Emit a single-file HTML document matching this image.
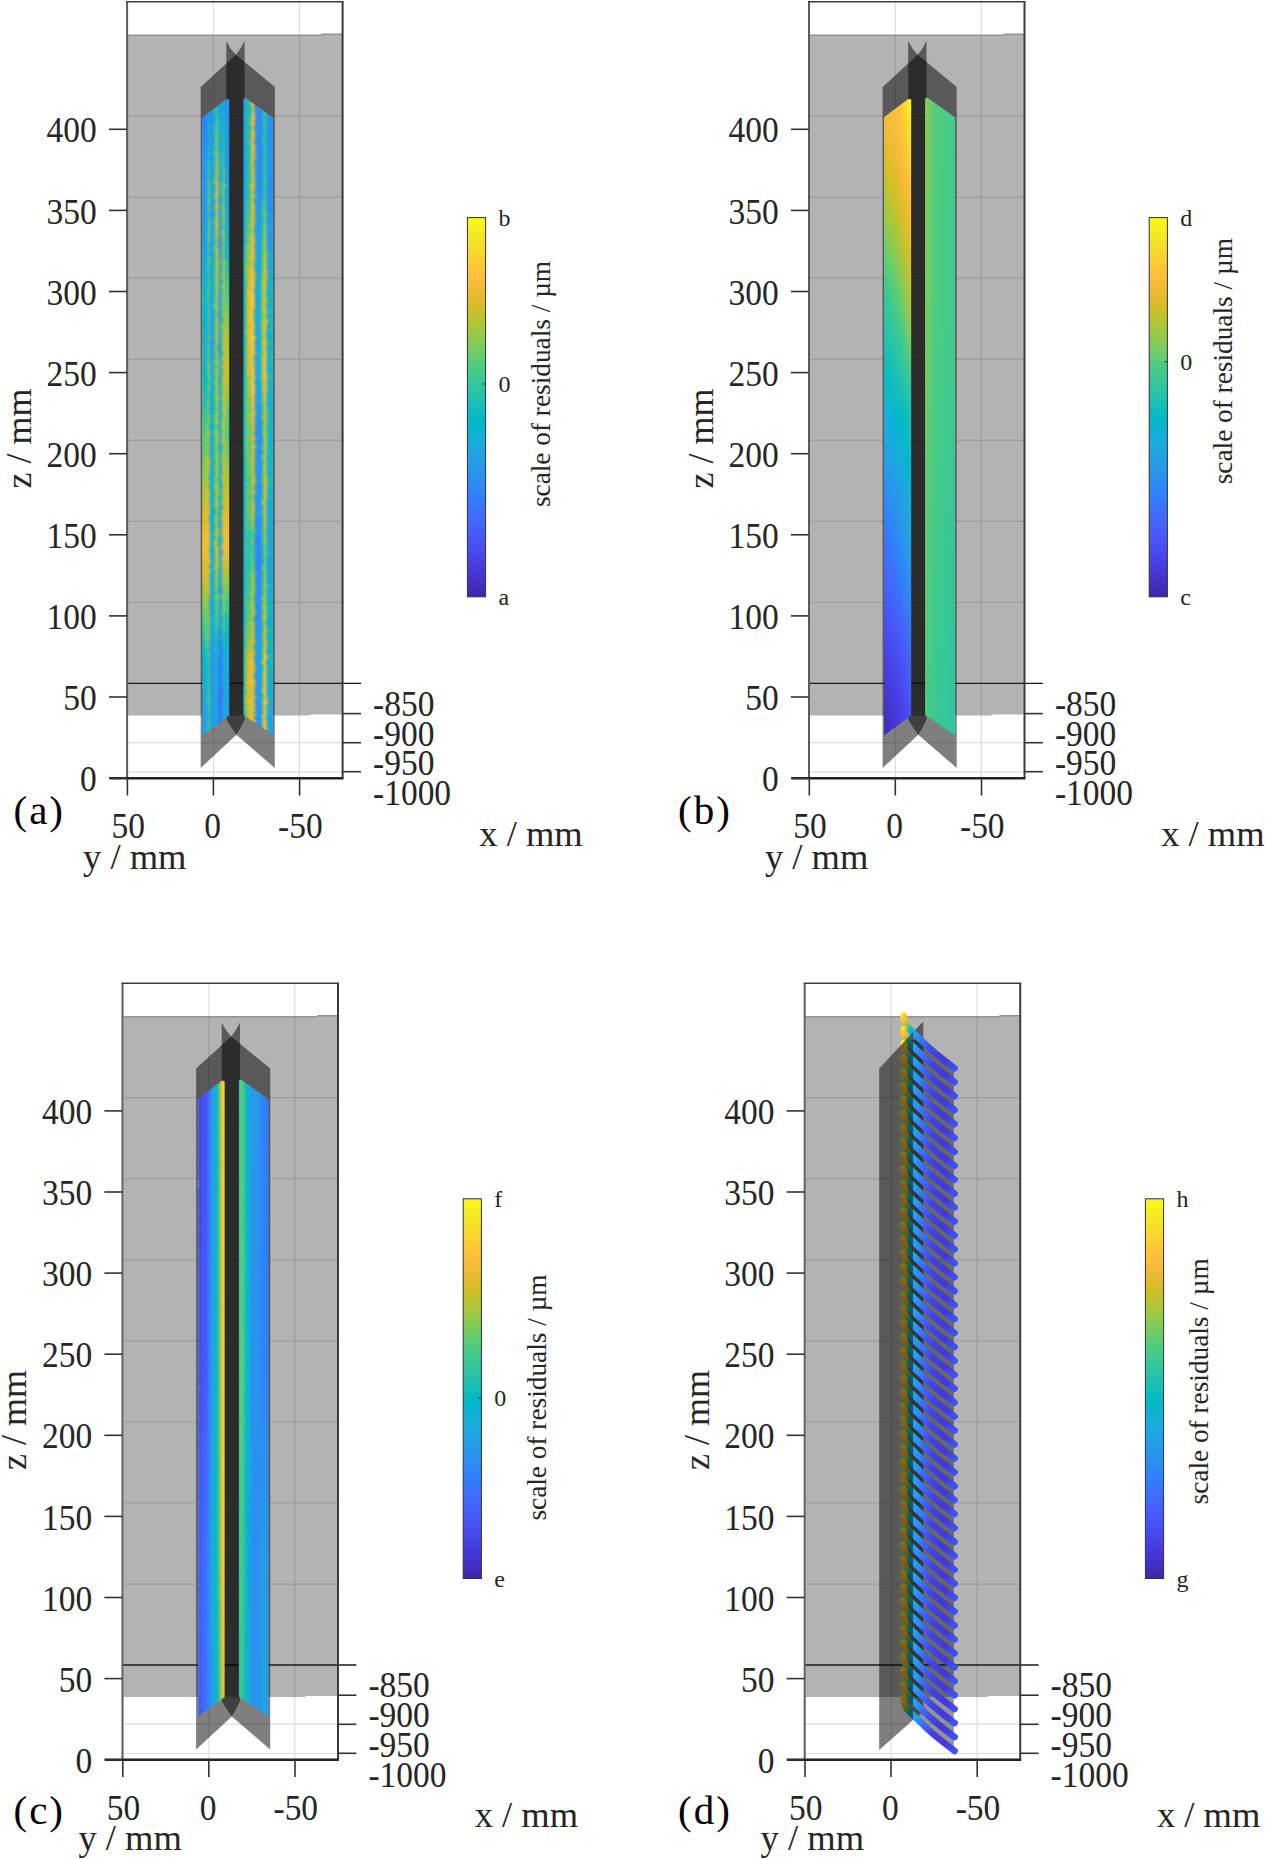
<!DOCTYPE html>
<html lang="en"><head><meta charset="utf-8"><title>Residuals of V-mirror measurements</title>
<style>html,body{margin:0;padding:0;background:#fff}svg{display:block}text{font-family:"Liberation Serif", "DejaVu Serif", serif}</style></head>
<body>
<svg width="1266" height="1859" viewBox="0 0 1266 1859">
<rect width="1266" height="1859" fill="#fff"/>
<defs>
<linearGradient id="sg" gradientUnits="userSpaceOnUse" x1="900" y1="1010" x2="957" y2="1067"><stop offset="0.054" stop-color="#f6f020"/><stop offset="0.081" stop-color="#fdcc32"/><stop offset="0.134" stop-color="#fabb3d"/><stop offset="0.174" stop-color="#b0c636"/><stop offset="0.218" stop-color="#48cb86"/><stop offset="0.263" stop-color="#04bbc2"/><stop offset="0.306" stop-color="#20a4e3"/><stop offset="0.329" stop-color="#1fa6f4"/><stop offset="0.389" stop-color="#2a92f8"/><stop offset="0.456" stop-color="#3776fa"/><stop offset="0.533" stop-color="#415cf5"/><stop offset="0.636" stop-color="#4242e2"/><stop offset="0.842" stop-color="#4238d6"/><stop offset="0.934" stop-color="#4148ec"/><stop offset="1.013" stop-color="#4052f6"/></linearGradient>
<path id="sp" d="M903.6,1015.5 C903.8,1019.5 905,1023.5 907.7,1027.1 C910,1030 912.5,1032.2 915.3,1034.7 C919.5,1038.6 923.7,1042.6 927.9,1046.7 C932,1050.5 936.2,1054 940.5,1057.4 C945,1061 950,1064.8 954.6,1068.3" fill="none" stroke="url(#sg)" stroke-width="6.6" stroke-linecap="round"/>
<clipPath id="cla"><path d="M202,117.4 L226.6,98.9 L229.2,99.6 L229.2,715.6 L202.3,735 Z"/></clipPath>
<clipPath id="cra"><path d="M243.4,98.6 L245.6,98 L273.2,117.6 L273.2,735 L243.4,715 Z"/></clipPath>
<linearGradient id="g1" x1="0" y1="0" x2="0" y2="1"><stop offset="0" stop-color="#2994ed"/><stop offset="0.025" stop-color="#259be8"/><stop offset="0.05" stop-color="#249fe5"/><stop offset="0.075" stop-color="#249ee6"/><stop offset="0.1" stop-color="#259de7"/><stop offset="0.125" stop-color="#249ee6"/><stop offset="0.15" stop-color="#22a1e4"/><stop offset="0.175" stop-color="#19addc"/><stop offset="0.2" stop-color="#01b9c7"/><stop offset="0.225" stop-color="#19bfb5"/><stop offset="0.25" stop-color="#29c3aa"/><stop offset="0.275" stop-color="#2fc5a2"/><stop offset="0.3" stop-color="#40ca8d"/><stop offset="0.325" stop-color="#57cc7a"/><stop offset="0.35" stop-color="#6fcd66"/><stop offset="0.375" stop-color="#8fcb4e"/><stop offset="0.4" stop-color="#b0c636"/><stop offset="0.425" stop-color="#cdc028"/><stop offset="0.45" stop-color="#c1c32c"/><stop offset="0.475" stop-color="#b7c532"/><stop offset="0.5" stop-color="#a6c73c"/><stop offset="0.525" stop-color="#94ca4a"/><stop offset="0.55" stop-color="#a5c83d"/><stop offset="0.575" stop-color="#afc636"/><stop offset="0.6" stop-color="#bcc42f"/><stop offset="0.625" stop-color="#d0bf27"/><stop offset="0.65" stop-color="#e4bb2c"/><stop offset="0.675" stop-color="#edba33"/><stop offset="0.7" stop-color="#f7ba3c"/><stop offset="0.725" stop-color="#e6bb2d"/><stop offset="0.75" stop-color="#b9c431"/><stop offset="0.775" stop-color="#79cc5e"/><stop offset="0.8" stop-color="#48cb86"/><stop offset="0.825" stop-color="#32c69f"/><stop offset="0.85" stop-color="#1bc0b4"/><stop offset="0.875" stop-color="#01b8c9"/><stop offset="0.9" stop-color="#07b5cf"/><stop offset="0.925" stop-color="#06b6ce"/><stop offset="0.95" stop-color="#0cb3d3"/><stop offset="0.975" stop-color="#18addb"/><stop offset="1" stop-color="#1aacdd"/></linearGradient>
<linearGradient id="g2" x1="0" y1="0" x2="0" y2="1"><stop offset="0" stop-color="#2895ec"/><stop offset="0.025" stop-color="#2896eb"/><stop offset="0.05" stop-color="#2895ec"/><stop offset="0.075" stop-color="#2797eb"/><stop offset="0.1" stop-color="#249ee6"/><stop offset="0.125" stop-color="#20a5e2"/><stop offset="0.15" stop-color="#1caadf"/><stop offset="0.175" stop-color="#13b0d7"/><stop offset="0.2" stop-color="#03b7cc"/><stop offset="0.225" stop-color="#06bcc0"/><stop offset="0.25" stop-color="#1ec0b2"/><stop offset="0.275" stop-color="#30c5a2"/><stop offset="0.3" stop-color="#4fcc80"/><stop offset="0.325" stop-color="#7bcc5d"/><stop offset="0.35" stop-color="#9cc944"/><stop offset="0.375" stop-color="#adc638"/><stop offset="0.4" stop-color="#b6c532"/><stop offset="0.425" stop-color="#c3c22b"/><stop offset="0.45" stop-color="#bbc42f"/><stop offset="0.475" stop-color="#c6c22a"/><stop offset="0.5" stop-color="#bdc42f"/><stop offset="0.525" stop-color="#8ecb4f"/><stop offset="0.55" stop-color="#7acc5e"/><stop offset="0.575" stop-color="#77cc60"/><stop offset="0.6" stop-color="#90ca4d"/><stop offset="0.625" stop-color="#b0c636"/><stop offset="0.65" stop-color="#c5c22a"/><stop offset="0.675" stop-color="#d6be28"/><stop offset="0.7" stop-color="#e8bb2e"/><stop offset="0.725" stop-color="#d1bf27"/><stop offset="0.75" stop-color="#a9c73a"/><stop offset="0.775" stop-color="#80cc59"/><stop offset="0.8" stop-color="#4acb85"/><stop offset="0.825" stop-color="#27c2ab"/><stop offset="0.85" stop-color="#05bbc1"/><stop offset="0.875" stop-color="#04b6cd"/><stop offset="0.9" stop-color="#15afd8"/><stop offset="0.925" stop-color="#1fa5e2"/><stop offset="0.95" stop-color="#249ee6"/><stop offset="0.975" stop-color="#2797eb"/><stop offset="1" stop-color="#2c8ef2"/></linearGradient>
<linearGradient id="g3" x1="0" y1="0" x2="0" y2="1"><stop offset="0" stop-color="#3777fe"/><stop offset="0.025" stop-color="#327dfc"/><stop offset="0.05" stop-color="#2e83f9"/><stop offset="0.075" stop-color="#2e87f7"/><stop offset="0.1" stop-color="#2d8af4"/><stop offset="0.125" stop-color="#2d8cf3"/><stop offset="0.15" stop-color="#2796eb"/><stop offset="0.175" stop-color="#1baade"/><stop offset="0.2" stop-color="#07b5cf"/><stop offset="0.225" stop-color="#06b5cf"/><stop offset="0.25" stop-color="#0db3d3"/><stop offset="0.275" stop-color="#0db3d3"/><stop offset="0.3" stop-color="#03b7cc"/><stop offset="0.325" stop-color="#01b9c6"/><stop offset="0.35" stop-color="#06bcc0"/><stop offset="0.375" stop-color="#0dbdbc"/><stop offset="0.4" stop-color="#15bfb7"/><stop offset="0.425" stop-color="#12beb9"/><stop offset="0.45" stop-color="#1bc0b4"/><stop offset="0.475" stop-color="#27c2ac"/><stop offset="0.5" stop-color="#37c898"/><stop offset="0.525" stop-color="#52cc7e"/><stop offset="0.55" stop-color="#64cd6f"/><stop offset="0.575" stop-color="#7acc5e"/><stop offset="0.6" stop-color="#99c946"/><stop offset="0.625" stop-color="#afc636"/><stop offset="0.65" stop-color="#c0c32d"/><stop offset="0.675" stop-color="#dbbd28"/><stop offset="0.7" stop-color="#fbbc3d"/><stop offset="0.725" stop-color="#fbbc3d"/><stop offset="0.75" stop-color="#e4bb2c"/><stop offset="0.775" stop-color="#b4c534"/><stop offset="0.8" stop-color="#72cd64"/><stop offset="0.825" stop-color="#3fca8e"/><stop offset="0.85" stop-color="#21c1b1"/><stop offset="0.875" stop-color="#05b6ce"/><stop offset="0.9" stop-color="#14b0d8"/><stop offset="0.925" stop-color="#17aedb"/><stop offset="0.95" stop-color="#1aabdd"/><stop offset="0.975" stop-color="#20a4e3"/><stop offset="1" stop-color="#2798ea"/></linearGradient>
<linearGradient id="g4" x1="0" y1="0" x2="0" y2="1"><stop offset="0" stop-color="#4854f5"/><stop offset="0.025" stop-color="#406cfe"/><stop offset="0.05" stop-color="#2d88f6"/><stop offset="0.075" stop-color="#2c8ef2"/><stop offset="0.1" stop-color="#2e85f8"/><stop offset="0.125" stop-color="#2e83f9"/><stop offset="0.15" stop-color="#2d8af4"/><stop offset="0.175" stop-color="#2a93ed"/><stop offset="0.2" stop-color="#269ae8"/><stop offset="0.225" stop-color="#21a3e3"/><stop offset="0.25" stop-color="#1babde"/><stop offset="0.275" stop-color="#15afd9"/><stop offset="0.3" stop-color="#0eb3d4"/><stop offset="0.325" stop-color="#0ab4d2"/><stop offset="0.35" stop-color="#04b6cd"/><stop offset="0.375" stop-color="#05b6ce"/><stop offset="0.4" stop-color="#11b1d6"/><stop offset="0.425" stop-color="#19addc"/><stop offset="0.45" stop-color="#07b5d0"/><stop offset="0.475" stop-color="#0fbeba"/><stop offset="0.5" stop-color="#30c5a1"/><stop offset="0.525" stop-color="#45cb88"/><stop offset="0.55" stop-color="#58cc79"/><stop offset="0.575" stop-color="#61cd71"/><stop offset="0.6" stop-color="#6acd6a"/><stop offset="0.625" stop-color="#8fcb4e"/><stop offset="0.65" stop-color="#c8c129"/><stop offset="0.675" stop-color="#f4ba39"/><stop offset="0.7" stop-color="#fec13a"/><stop offset="0.725" stop-color="#ebba32"/><stop offset="0.75" stop-color="#bdc32e"/><stop offset="0.775" stop-color="#97ca48"/><stop offset="0.8" stop-color="#69cd6b"/><stop offset="0.825" stop-color="#3ac993"/><stop offset="0.85" stop-color="#13beb8"/><stop offset="0.875" stop-color="#11b1d6"/><stop offset="0.9" stop-color="#1da8e0"/><stop offset="0.925" stop-color="#21a2e4"/><stop offset="0.95" stop-color="#249ee6"/><stop offset="0.975" stop-color="#259ce7"/><stop offset="1" stop-color="#2797eb"/></linearGradient>
<linearGradient id="g5" x1="0" y1="0" x2="0" y2="1"><stop offset="0" stop-color="#3975fe"/><stop offset="0.025" stop-color="#2f82f9"/><stop offset="0.05" stop-color="#2b92ee"/><stop offset="0.075" stop-color="#249fe5"/><stop offset="0.1" stop-color="#1da9e0"/><stop offset="0.125" stop-color="#1caadf"/><stop offset="0.15" stop-color="#22a2e4"/><stop offset="0.175" stop-color="#259be8"/><stop offset="0.2" stop-color="#2896ec"/><stop offset="0.225" stop-color="#2994ed"/><stop offset="0.25" stop-color="#269ae8"/><stop offset="0.275" stop-color="#1baade"/><stop offset="0.3" stop-color="#01b8c9"/><stop offset="0.325" stop-color="#02bac4"/><stop offset="0.35" stop-color="#01b7ca"/><stop offset="0.375" stop-color="#09b4d1"/><stop offset="0.4" stop-color="#0fb2d5"/><stop offset="0.425" stop-color="#0eb3d4"/><stop offset="0.45" stop-color="#03bbc2"/><stop offset="0.475" stop-color="#23c1af"/><stop offset="0.5" stop-color="#34c79b"/><stop offset="0.525" stop-color="#49cb85"/><stop offset="0.55" stop-color="#65cd6e"/><stop offset="0.575" stop-color="#91ca4c"/><stop offset="0.6" stop-color="#bac430"/><stop offset="0.625" stop-color="#d3bf27"/><stop offset="0.65" stop-color="#e2bc2b"/><stop offset="0.675" stop-color="#efba35"/><stop offset="0.7" stop-color="#f9bb3d"/><stop offset="0.725" stop-color="#eaba31"/><stop offset="0.75" stop-color="#c9c129"/><stop offset="0.775" stop-color="#99c946"/><stop offset="0.8" stop-color="#62cd70"/><stop offset="0.825" stop-color="#41ca8c"/><stop offset="0.85" stop-color="#2cc4a6"/><stop offset="0.875" stop-color="#03bbc3"/><stop offset="0.9" stop-color="#0ab4d2"/><stop offset="0.925" stop-color="#17aeda"/><stop offset="0.95" stop-color="#20a4e3"/><stop offset="0.975" stop-color="#269ae8"/><stop offset="1" stop-color="#2896ec"/></linearGradient>
<linearGradient id="g6" x1="0" y1="0" x2="0" y2="1"><stop offset="0" stop-color="#3776fe"/><stop offset="0.025" stop-color="#317efb"/><stop offset="0.05" stop-color="#307ffb"/><stop offset="0.075" stop-color="#2f82f9"/><stop offset="0.1" stop-color="#2d8cf3"/><stop offset="0.125" stop-color="#2896ec"/><stop offset="0.15" stop-color="#269ae8"/><stop offset="0.175" stop-color="#269ae8"/><stop offset="0.2" stop-color="#2994ed"/><stop offset="0.225" stop-color="#2b91ef"/><stop offset="0.25" stop-color="#2699e9"/><stop offset="0.275" stop-color="#1ea6e1"/><stop offset="0.3" stop-color="#14b0d8"/><stop offset="0.325" stop-color="#17aeda"/><stop offset="0.35" stop-color="#1da8e0"/><stop offset="0.375" stop-color="#1fa5e2"/><stop offset="0.4" stop-color="#1da9e0"/><stop offset="0.425" stop-color="#17aeda"/><stop offset="0.45" stop-color="#01b9c7"/><stop offset="0.475" stop-color="#26c2ad"/><stop offset="0.5" stop-color="#44cb8a"/><stop offset="0.525" stop-color="#72cd63"/><stop offset="0.55" stop-color="#91ca4c"/><stop offset="0.575" stop-color="#a0c841"/><stop offset="0.6" stop-color="#a8c73b"/><stop offset="0.625" stop-color="#b2c535"/><stop offset="0.65" stop-color="#c4c22b"/><stop offset="0.675" stop-color="#ddbd29"/><stop offset="0.7" stop-color="#f5ba3a"/><stop offset="0.725" stop-color="#f0ba36"/><stop offset="0.75" stop-color="#ddbd29"/><stop offset="0.775" stop-color="#c6c22a"/><stop offset="0.8" stop-color="#aec637"/><stop offset="0.825" stop-color="#83cc57"/><stop offset="0.85" stop-color="#38c896"/><stop offset="0.875" stop-color="#02bac3"/><stop offset="0.9" stop-color="#06b5cf"/><stop offset="0.925" stop-color="#0ab4d2"/><stop offset="0.95" stop-color="#1baade"/><stop offset="0.975" stop-color="#269be8"/><stop offset="1" stop-color="#2b92ee"/></linearGradient>
<linearGradient id="g7" x1="0" y1="0" x2="0" y2="1"><stop offset="0" stop-color="#2d89f5"/><stop offset="0.025" stop-color="#2f81fa"/><stop offset="0.05" stop-color="#2f81fa"/><stop offset="0.075" stop-color="#2e84f9"/><stop offset="0.1" stop-color="#2e86f7"/><stop offset="0.125" stop-color="#2c8ef1"/><stop offset="0.15" stop-color="#2796eb"/><stop offset="0.175" stop-color="#2699ea"/><stop offset="0.2" stop-color="#2699e9"/><stop offset="0.225" stop-color="#249ee6"/><stop offset="0.25" stop-color="#20a4e3"/><stop offset="0.275" stop-color="#1da8e0"/><stop offset="0.3" stop-color="#1aacdd"/><stop offset="0.325" stop-color="#16afd9"/><stop offset="0.35" stop-color="#14b0d8"/><stop offset="0.375" stop-color="#18aedb"/><stop offset="0.4" stop-color="#13b0d7"/><stop offset="0.425" stop-color="#06b5ce"/><stop offset="0.45" stop-color="#03bbc2"/><stop offset="0.475" stop-color="#06bcc0"/><stop offset="0.5" stop-color="#1cc0b4"/><stop offset="0.525" stop-color="#3ac994"/><stop offset="0.55" stop-color="#66cd6e"/><stop offset="0.575" stop-color="#8ccb50"/><stop offset="0.6" stop-color="#9fc942"/><stop offset="0.625" stop-color="#aec637"/><stop offset="0.65" stop-color="#c4c22b"/><stop offset="0.675" stop-color="#d5be28"/><stop offset="0.7" stop-color="#e5bb2d"/><stop offset="0.725" stop-color="#e5bb2d"/><stop offset="0.75" stop-color="#d6be28"/><stop offset="0.775" stop-color="#a0c841"/><stop offset="0.8" stop-color="#55cc7c"/><stop offset="0.825" stop-color="#38c895"/><stop offset="0.85" stop-color="#30c5a2"/><stop offset="0.875" stop-color="#1dc0b3"/><stop offset="0.9" stop-color="#02bac3"/><stop offset="0.925" stop-color="#11b1d6"/><stop offset="0.95" stop-color="#1fa6e2"/><stop offset="0.975" stop-color="#249ee6"/><stop offset="1" stop-color="#269ae8"/></linearGradient>
<linearGradient id="g8" x1="0" y1="0" x2="0" y2="1"><stop offset="0" stop-color="#2e84f8"/><stop offset="0.025" stop-color="#2d89f5"/><stop offset="0.05" stop-color="#2c8ef2"/><stop offset="0.075" stop-color="#2b92ee"/><stop offset="0.1" stop-color="#2797eb"/><stop offset="0.125" stop-color="#259be8"/><stop offset="0.15" stop-color="#249fe5"/><stop offset="0.175" stop-color="#22a2e4"/><stop offset="0.2" stop-color="#20a4e3"/><stop offset="0.225" stop-color="#1babde"/><stop offset="0.25" stop-color="#12b1d6"/><stop offset="0.275" stop-color="#08b5d0"/><stop offset="0.3" stop-color="#02bac4"/><stop offset="0.325" stop-color="#0bbdbd"/><stop offset="0.35" stop-color="#06bcc0"/><stop offset="0.375" stop-color="#05b6ce"/><stop offset="0.4" stop-color="#11b1d6"/><stop offset="0.425" stop-color="#09b4d1"/><stop offset="0.45" stop-color="#1abfb5"/><stop offset="0.475" stop-color="#38c896"/><stop offset="0.5" stop-color="#55cc7c"/><stop offset="0.525" stop-color="#5fcd73"/><stop offset="0.55" stop-color="#5fcd73"/><stop offset="0.575" stop-color="#7acc5e"/><stop offset="0.6" stop-color="#adc638"/><stop offset="0.625" stop-color="#dbbd29"/><stop offset="0.65" stop-color="#f6ba3b"/><stop offset="0.675" stop-color="#fec03b"/><stop offset="0.7" stop-color="#fec13a"/><stop offset="0.725" stop-color="#e7bb2e"/><stop offset="0.75" stop-color="#bfc32d"/><stop offset="0.775" stop-color="#9cc943"/><stop offset="0.8" stop-color="#76cc61"/><stop offset="0.825" stop-color="#58cc7a"/><stop offset="0.85" stop-color="#34c79b"/><stop offset="0.875" stop-color="#03bbc2"/><stop offset="0.9" stop-color="#13b0d7"/><stop offset="0.925" stop-color="#18aedb"/><stop offset="0.95" stop-color="#1babde"/><stop offset="0.975" stop-color="#1fa6e2"/><stop offset="1" stop-color="#1fa5e2"/></linearGradient>
<linearGradient id="g9" x1="0" y1="0" x2="0" y2="1"><stop offset="0" stop-color="#259be8"/><stop offset="0.025" stop-color="#1da8e0"/><stop offset="0.05" stop-color="#07b5cf"/><stop offset="0.075" stop-color="#05bbc1"/><stop offset="0.1" stop-color="#1dc0b3"/><stop offset="0.125" stop-color="#34c79b"/><stop offset="0.15" stop-color="#57cc7a"/><stop offset="0.175" stop-color="#67cd6c"/><stop offset="0.2" stop-color="#6fcd66"/><stop offset="0.225" stop-color="#68cd6c"/><stop offset="0.25" stop-color="#53cc7d"/><stop offset="0.275" stop-color="#43ca8a"/><stop offset="0.3" stop-color="#48cb86"/><stop offset="0.325" stop-color="#51cc7e"/><stop offset="0.35" stop-color="#56cc7b"/><stop offset="0.375" stop-color="#5acc78"/><stop offset="0.4" stop-color="#62cd70"/><stop offset="0.425" stop-color="#77cc60"/><stop offset="0.45" stop-color="#a1c840"/><stop offset="0.475" stop-color="#b8c431"/><stop offset="0.5" stop-color="#c4c22b"/><stop offset="0.525" stop-color="#cec028"/><stop offset="0.55" stop-color="#cfc028"/><stop offset="0.575" stop-color="#d4bf28"/><stop offset="0.6" stop-color="#e0bc2b"/><stop offset="0.625" stop-color="#eeba34"/><stop offset="0.65" stop-color="#f5ba3b"/><stop offset="0.675" stop-color="#f6ba3b"/><stop offset="0.7" stop-color="#f1ba37"/><stop offset="0.725" stop-color="#e5bb2d"/><stop offset="0.75" stop-color="#dfbc2a"/><stop offset="0.775" stop-color="#d4bf28"/><stop offset="0.8" stop-color="#bec32e"/><stop offset="0.825" stop-color="#adc738"/><stop offset="0.85" stop-color="#8ccb50"/><stop offset="0.875" stop-color="#55cc7c"/><stop offset="0.9" stop-color="#3fca8e"/><stop offset="0.925" stop-color="#3eca8f"/><stop offset="0.95" stop-color="#3eca8f"/><stop offset="0.975" stop-color="#35c79a"/><stop offset="1" stop-color="#2bc3a8"/></linearGradient>
<linearGradient id="g10" x1="0" y1="0" x2="0" y2="1"><stop offset="0" stop-color="#02b7cb"/><stop offset="0.025" stop-color="#01b9c8"/><stop offset="0.05" stop-color="#09bdbe"/><stop offset="0.075" stop-color="#25c2ae"/><stop offset="0.1" stop-color="#35c79b"/><stop offset="0.125" stop-color="#4fcc80"/><stop offset="0.15" stop-color="#74cc62"/><stop offset="0.175" stop-color="#76cc61"/><stop offset="0.2" stop-color="#73cd63"/><stop offset="0.225" stop-color="#7ccc5c"/><stop offset="0.25" stop-color="#7ecc5b"/><stop offset="0.275" stop-color="#67cd6d"/><stop offset="0.3" stop-color="#55cc7c"/><stop offset="0.325" stop-color="#58cc79"/><stop offset="0.35" stop-color="#69cd6b"/><stop offset="0.375" stop-color="#74cc62"/><stop offset="0.4" stop-color="#72cd63"/><stop offset="0.425" stop-color="#69cd6b"/><stop offset="0.45" stop-color="#6fcd66"/><stop offset="0.475" stop-color="#6ecd67"/><stop offset="0.5" stop-color="#80cc59"/><stop offset="0.525" stop-color="#b1c636"/><stop offset="0.55" stop-color="#cfc028"/><stop offset="0.575" stop-color="#d0c027"/><stop offset="0.6" stop-color="#cfc028"/><stop offset="0.625" stop-color="#ddbd29"/><stop offset="0.65" stop-color="#eeba34"/><stop offset="0.675" stop-color="#fbbc3d"/><stop offset="0.7" stop-color="#fec13a"/><stop offset="0.725" stop-color="#fcbc3d"/><stop offset="0.75" stop-color="#f4ba39"/><stop offset="0.775" stop-color="#e2bc2b"/><stop offset="0.8" stop-color="#b3c534"/><stop offset="0.825" stop-color="#72cd64"/><stop offset="0.85" stop-color="#47cb87"/><stop offset="0.875" stop-color="#36c899"/><stop offset="0.9" stop-color="#3cc991"/><stop offset="0.925" stop-color="#46cb88"/><stop offset="0.95" stop-color="#43ca8a"/><stop offset="0.975" stop-color="#3bc993"/><stop offset="1" stop-color="#38c896"/></linearGradient>
<linearGradient id="g11" x1="0" y1="0" x2="0" y2="1"><stop offset="0" stop-color="#2994ed"/><stop offset="0.025" stop-color="#2995ec"/><stop offset="0.05" stop-color="#2895ec"/><stop offset="0.075" stop-color="#2698ea"/><stop offset="0.1" stop-color="#23a0e5"/><stop offset="0.125" stop-color="#1ea7e1"/><stop offset="0.15" stop-color="#1ca9df"/><stop offset="0.175" stop-color="#1ea8e1"/><stop offset="0.2" stop-color="#1ea8e1"/><stop offset="0.225" stop-color="#1fa6e2"/><stop offset="0.25" stop-color="#23a1e5"/><stop offset="0.275" stop-color="#249de7"/><stop offset="0.3" stop-color="#249de6"/><stop offset="0.325" stop-color="#23a1e5"/><stop offset="0.35" stop-color="#21a4e3"/><stop offset="0.375" stop-color="#21a3e3"/><stop offset="0.4" stop-color="#21a3e3"/><stop offset="0.425" stop-color="#1fa6e2"/><stop offset="0.45" stop-color="#1aacdd"/><stop offset="0.475" stop-color="#19acdc"/><stop offset="0.5" stop-color="#1baade"/><stop offset="0.525" stop-color="#1caadf"/><stop offset="0.55" stop-color="#1da9e0"/><stop offset="0.575" stop-color="#18aedb"/><stop offset="0.6" stop-color="#0fb2d4"/><stop offset="0.625" stop-color="#15afd8"/><stop offset="0.65" stop-color="#1da8e0"/><stop offset="0.675" stop-color="#20a5e2"/><stop offset="0.7" stop-color="#1fa6e2"/><stop offset="0.725" stop-color="#1fa5e2"/><stop offset="0.75" stop-color="#20a5e3"/><stop offset="0.775" stop-color="#1ea7e1"/><stop offset="0.8" stop-color="#1ea7e1"/><stop offset="0.825" stop-color="#249ee6"/><stop offset="0.85" stop-color="#2c90f0"/><stop offset="0.875" stop-color="#2d89f5"/><stop offset="0.9" stop-color="#2c8ef1"/><stop offset="0.925" stop-color="#2994ed"/><stop offset="0.95" stop-color="#259be8"/><stop offset="0.975" stop-color="#249fe5"/><stop offset="1" stop-color="#2699e9"/></linearGradient>
<linearGradient id="g12" x1="0" y1="0" x2="0" y2="1"><stop offset="0" stop-color="#2d89f5"/><stop offset="0.025" stop-color="#2b91ef"/><stop offset="0.05" stop-color="#2b91ef"/><stop offset="0.075" stop-color="#2c8ff1"/><stop offset="0.1" stop-color="#2994ed"/><stop offset="0.125" stop-color="#259de7"/><stop offset="0.15" stop-color="#21a3e3"/><stop offset="0.175" stop-color="#1fa6e2"/><stop offset="0.2" stop-color="#22a2e4"/><stop offset="0.225" stop-color="#249ee6"/><stop offset="0.25" stop-color="#22a2e4"/><stop offset="0.275" stop-color="#1da8e0"/><stop offset="0.3" stop-color="#1fa6e1"/><stop offset="0.325" stop-color="#249ee6"/><stop offset="0.35" stop-color="#249ee6"/><stop offset="0.375" stop-color="#21a3e4"/><stop offset="0.4" stop-color="#1fa6e1"/><stop offset="0.425" stop-color="#1babde"/><stop offset="0.45" stop-color="#0fb2d5"/><stop offset="0.475" stop-color="#09b4d1"/><stop offset="0.5" stop-color="#0fb2d5"/><stop offset="0.525" stop-color="#13b0d7"/><stop offset="0.55" stop-color="#17aeda"/><stop offset="0.575" stop-color="#18aedb"/><stop offset="0.6" stop-color="#15afd9"/><stop offset="0.625" stop-color="#11b1d6"/><stop offset="0.65" stop-color="#0fb2d5"/><stop offset="0.675" stop-color="#0fb2d5"/><stop offset="0.7" stop-color="#0fb2d4"/><stop offset="0.725" stop-color="#15afd9"/><stop offset="0.75" stop-color="#1ea7e1"/><stop offset="0.775" stop-color="#249ee6"/><stop offset="0.8" stop-color="#259be8"/><stop offset="0.825" stop-color="#249fe5"/><stop offset="0.85" stop-color="#23a0e5"/><stop offset="0.875" stop-color="#2699ea"/><stop offset="0.9" stop-color="#2b91ef"/><stop offset="0.925" stop-color="#2c8ff1"/><stop offset="0.95" stop-color="#2d8cf3"/><stop offset="0.975" stop-color="#2d88f6"/><stop offset="1" stop-color="#2d88f6"/></linearGradient>
<linearGradient id="g13" x1="0" y1="0" x2="0" y2="1"><stop offset="0" stop-color="#269ae9"/><stop offset="0.025" stop-color="#249fe6"/><stop offset="0.05" stop-color="#249ee6"/><stop offset="0.075" stop-color="#259be8"/><stop offset="0.1" stop-color="#259ce7"/><stop offset="0.125" stop-color="#23a0e5"/><stop offset="0.15" stop-color="#23a0e5"/><stop offset="0.175" stop-color="#249ee6"/><stop offset="0.2" stop-color="#259de7"/><stop offset="0.225" stop-color="#21a3e3"/><stop offset="0.25" stop-color="#19addc"/><stop offset="0.275" stop-color="#0ab4d2"/><stop offset="0.3" stop-color="#0ab4d2"/><stop offset="0.325" stop-color="#16aeda"/><stop offset="0.35" stop-color="#1ea7e1"/><stop offset="0.375" stop-color="#23a0e5"/><stop offset="0.4" stop-color="#22a1e4"/><stop offset="0.425" stop-color="#1caadf"/><stop offset="0.45" stop-color="#13b1d7"/><stop offset="0.475" stop-color="#0bb3d2"/><stop offset="0.5" stop-color="#07b5cf"/><stop offset="0.525" stop-color="#05b6ce"/><stop offset="0.55" stop-color="#0cb3d3"/><stop offset="0.575" stop-color="#14b0d8"/><stop offset="0.6" stop-color="#17aeda"/><stop offset="0.625" stop-color="#12b1d6"/><stop offset="0.65" stop-color="#06b5cf"/><stop offset="0.675" stop-color="#01b7ca"/><stop offset="0.7" stop-color="#04b6cd"/><stop offset="0.725" stop-color="#13b0d7"/><stop offset="0.75" stop-color="#1aacdd"/><stop offset="0.775" stop-color="#19acdc"/><stop offset="0.8" stop-color="#1ca9df"/><stop offset="0.825" stop-color="#21a3e3"/><stop offset="0.85" stop-color="#259de7"/><stop offset="0.875" stop-color="#2797eb"/><stop offset="0.9" stop-color="#2797eb"/><stop offset="0.925" stop-color="#259be7"/><stop offset="0.95" stop-color="#23a1e5"/><stop offset="0.975" stop-color="#249ee6"/><stop offset="1" stop-color="#2797eb"/></linearGradient>
<linearGradient id="g14" x1="0" y1="0" x2="0" y2="1"><stop offset="0" stop-color="#259be8"/><stop offset="0.025" stop-color="#239fe5"/><stop offset="0.05" stop-color="#22a2e4"/><stop offset="0.075" stop-color="#22a2e4"/><stop offset="0.1" stop-color="#22a2e4"/><stop offset="0.125" stop-color="#22a2e4"/><stop offset="0.15" stop-color="#259de7"/><stop offset="0.175" stop-color="#2699e9"/><stop offset="0.2" stop-color="#23a0e5"/><stop offset="0.225" stop-color="#1da9e0"/><stop offset="0.25" stop-color="#1aacdd"/><stop offset="0.275" stop-color="#1aabdd"/><stop offset="0.3" stop-color="#18addb"/><stop offset="0.325" stop-color="#19addc"/><stop offset="0.35" stop-color="#1fa6e2"/><stop offset="0.375" stop-color="#23a0e5"/><stop offset="0.4" stop-color="#1fa6e2"/><stop offset="0.425" stop-color="#15afd9"/><stop offset="0.45" stop-color="#12b1d6"/><stop offset="0.475" stop-color="#16afd9"/><stop offset="0.5" stop-color="#14b0d8"/><stop offset="0.525" stop-color="#0cb3d3"/><stop offset="0.55" stop-color="#02b7cb"/><stop offset="0.575" stop-color="#08bcbf"/><stop offset="0.6" stop-color="#08bcbf"/><stop offset="0.625" stop-color="#01b8c8"/><stop offset="0.65" stop-color="#03b7cc"/><stop offset="0.675" stop-color="#01b8ca"/><stop offset="0.7" stop-color="#03b7cc"/><stop offset="0.725" stop-color="#0db3d4"/><stop offset="0.75" stop-color="#0fb2d4"/><stop offset="0.775" stop-color="#03b7cb"/><stop offset="0.8" stop-color="#01b8c9"/><stop offset="0.825" stop-color="#0bb3d2"/><stop offset="0.85" stop-color="#18aedb"/><stop offset="0.875" stop-color="#1ea6e1"/><stop offset="0.9" stop-color="#259de7"/><stop offset="0.925" stop-color="#2994ed"/><stop offset="0.95" stop-color="#2797eb"/><stop offset="0.975" stop-color="#22a1e4"/><stop offset="1" stop-color="#1ea7e1"/></linearGradient>
<linearGradient id="g15" x1="0" y1="0" x2="0" y2="1"><stop offset="0" stop-color="#2d8df2"/><stop offset="0.025" stop-color="#2c8ff0"/><stop offset="0.05" stop-color="#2796eb"/><stop offset="0.075" stop-color="#249ee6"/><stop offset="0.1" stop-color="#1fa5e2"/><stop offset="0.125" stop-color="#1baade"/><stop offset="0.15" stop-color="#1aacdd"/><stop offset="0.175" stop-color="#1ca9df"/><stop offset="0.2" stop-color="#20a5e2"/><stop offset="0.225" stop-color="#20a4e3"/><stop offset="0.25" stop-color="#1da8e0"/><stop offset="0.275" stop-color="#1aabdd"/><stop offset="0.3" stop-color="#1caadf"/><stop offset="0.325" stop-color="#21a3e3"/><stop offset="0.35" stop-color="#23a0e5"/><stop offset="0.375" stop-color="#23a1e5"/><stop offset="0.4" stop-color="#21a3e3"/><stop offset="0.425" stop-color="#1da8e0"/><stop offset="0.45" stop-color="#0fb2d5"/><stop offset="0.475" stop-color="#01bac5"/><stop offset="0.5" stop-color="#08bcbf"/><stop offset="0.525" stop-color="#08bcbf"/><stop offset="0.55" stop-color="#02bac4"/><stop offset="0.575" stop-color="#03b7cc"/><stop offset="0.6" stop-color="#08b4d0"/><stop offset="0.625" stop-color="#05b6ce"/><stop offset="0.65" stop-color="#01b9c8"/><stop offset="0.675" stop-color="#03bbc3"/><stop offset="0.7" stop-color="#0bbdbc"/><stop offset="0.725" stop-color="#12beb9"/><stop offset="0.75" stop-color="#06bcc0"/><stop offset="0.775" stop-color="#09b4d1"/><stop offset="0.8" stop-color="#1aacdd"/><stop offset="0.825" stop-color="#1ea7e1"/><stop offset="0.85" stop-color="#22a2e4"/><stop offset="0.875" stop-color="#259be8"/><stop offset="0.9" stop-color="#2699e9"/><stop offset="0.925" stop-color="#2699ea"/><stop offset="0.95" stop-color="#2699ea"/><stop offset="0.975" stop-color="#2797ea"/><stop offset="1" stop-color="#2798ea"/></linearGradient>
<linearGradient id="g16" x1="0" y1="0" x2="0" y2="1"><stop offset="0" stop-color="#30c5a2"/><stop offset="0.025" stop-color="#36c799"/><stop offset="0.05" stop-color="#4ccb83"/><stop offset="0.075" stop-color="#5ecd74"/><stop offset="0.1" stop-color="#6ccd68"/><stop offset="0.125" stop-color="#84cc56"/><stop offset="0.15" stop-color="#a0c841"/><stop offset="0.175" stop-color="#a1c840"/><stop offset="0.2" stop-color="#9bc944"/><stop offset="0.225" stop-color="#84cc56"/><stop offset="0.25" stop-color="#76cc61"/><stop offset="0.275" stop-color="#80cc59"/><stop offset="0.3" stop-color="#92ca4b"/><stop offset="0.325" stop-color="#aac73a"/><stop offset="0.35" stop-color="#c1c32c"/><stop offset="0.375" stop-color="#d0c027"/><stop offset="0.4" stop-color="#c8c129"/><stop offset="0.425" stop-color="#b0c636"/><stop offset="0.45" stop-color="#9fc941"/><stop offset="0.475" stop-color="#97ca47"/><stop offset="0.5" stop-color="#91ca4d"/><stop offset="0.525" stop-color="#96ca49"/><stop offset="0.55" stop-color="#a3c83f"/><stop offset="0.575" stop-color="#a5c83d"/><stop offset="0.6" stop-color="#a2c83f"/><stop offset="0.625" stop-color="#a7c73c"/><stop offset="0.65" stop-color="#aac73a"/><stop offset="0.675" stop-color="#aec637"/><stop offset="0.7" stop-color="#bac430"/><stop offset="0.725" stop-color="#b4c534"/><stop offset="0.75" stop-color="#9bc945"/><stop offset="0.775" stop-color="#7acc5e"/><stop offset="0.8" stop-color="#56cc7a"/><stop offset="0.825" stop-color="#34c79c"/><stop offset="0.85" stop-color="#03b7cc"/><stop offset="0.875" stop-color="#249ee6"/><stop offset="0.9" stop-color="#21a3e3"/><stop offset="0.925" stop-color="#19addc"/><stop offset="0.95" stop-color="#16afd9"/><stop offset="0.975" stop-color="#1da8e0"/><stop offset="1" stop-color="#22a1e4"/></linearGradient>
<linearGradient id="g17" x1="0" y1="0" x2="0" y2="1"><stop offset="0" stop-color="#0db3d3"/><stop offset="0.025" stop-color="#02bac5"/><stop offset="0.05" stop-color="#2dc4a5"/><stop offset="0.075" stop-color="#49cb85"/><stop offset="0.1" stop-color="#79cc5e"/><stop offset="0.125" stop-color="#b6c532"/><stop offset="0.15" stop-color="#e0bc2a"/><stop offset="0.175" stop-color="#dbbd29"/><stop offset="0.2" stop-color="#cbc029"/><stop offset="0.225" stop-color="#c3c22b"/><stop offset="0.25" stop-color="#bdc32e"/><stop offset="0.275" stop-color="#a4c83e"/><stop offset="0.3" stop-color="#80cc59"/><stop offset="0.325" stop-color="#7dcc5c"/><stop offset="0.35" stop-color="#88cb53"/><stop offset="0.375" stop-color="#88cb53"/><stop offset="0.4" stop-color="#86cb54"/><stop offset="0.425" stop-color="#95ca49"/><stop offset="0.45" stop-color="#a0c841"/><stop offset="0.475" stop-color="#9ec942"/><stop offset="0.5" stop-color="#a0c841"/><stop offset="0.525" stop-color="#a2c83f"/><stop offset="0.55" stop-color="#9cc944"/><stop offset="0.575" stop-color="#99c946"/><stop offset="0.6" stop-color="#98ca47"/><stop offset="0.625" stop-color="#92ca4b"/><stop offset="0.65" stop-color="#87cb54"/><stop offset="0.675" stop-color="#8ecb4f"/><stop offset="0.7" stop-color="#aac73a"/><stop offset="0.725" stop-color="#b0c636"/><stop offset="0.75" stop-color="#96ca48"/><stop offset="0.775" stop-color="#64cd6f"/><stop offset="0.8" stop-color="#44cb89"/><stop offset="0.825" stop-color="#3ac994"/><stop offset="0.85" stop-color="#14beb8"/><stop offset="0.875" stop-color="#19addc"/><stop offset="0.9" stop-color="#1ca9df"/><stop offset="0.925" stop-color="#1aacdd"/><stop offset="0.95" stop-color="#11b1d6"/><stop offset="0.975" stop-color="#06b5cf"/><stop offset="1" stop-color="#07b5d0"/></linearGradient>
<linearGradient id="g18" x1="0" y1="0" x2="0" y2="1"><stop offset="0" stop-color="#26c2ac"/><stop offset="0.025" stop-color="#30c5a1"/><stop offset="0.05" stop-color="#50cc7f"/><stop offset="0.075" stop-color="#76cc61"/><stop offset="0.1" stop-color="#9bc944"/><stop offset="0.125" stop-color="#cbc129"/><stop offset="0.15" stop-color="#eaba31"/><stop offset="0.175" stop-color="#d3bf27"/><stop offset="0.2" stop-color="#adc638"/><stop offset="0.225" stop-color="#9bc945"/><stop offset="0.25" stop-color="#9ec942"/><stop offset="0.275" stop-color="#9dc943"/><stop offset="0.3" stop-color="#8bcb51"/><stop offset="0.325" stop-color="#79cc5e"/><stop offset="0.35" stop-color="#6ecd66"/><stop offset="0.375" stop-color="#6ecd67"/><stop offset="0.4" stop-color="#74cc62"/><stop offset="0.425" stop-color="#81cc58"/><stop offset="0.45" stop-color="#96ca48"/><stop offset="0.475" stop-color="#9ac945"/><stop offset="0.5" stop-color="#9bc944"/><stop offset="0.525" stop-color="#aec637"/><stop offset="0.55" stop-color="#b9c430"/><stop offset="0.575" stop-color="#b6c532"/><stop offset="0.6" stop-color="#bbc42f"/><stop offset="0.625" stop-color="#c9c129"/><stop offset="0.65" stop-color="#cfc028"/><stop offset="0.675" stop-color="#d8be28"/><stop offset="0.7" stop-color="#debc2a"/><stop offset="0.725" stop-color="#c6c22a"/><stop offset="0.75" stop-color="#a0c841"/><stop offset="0.775" stop-color="#78cc5f"/><stop offset="0.8" stop-color="#55cc7c"/><stop offset="0.825" stop-color="#3eca8f"/><stop offset="0.85" stop-color="#19bfb5"/><stop offset="0.875" stop-color="#13b0d7"/><stop offset="0.9" stop-color="#0cb3d3"/><stop offset="0.925" stop-color="#06b5ce"/><stop offset="0.95" stop-color="#13b0d7"/><stop offset="0.975" stop-color="#1ea7e1"/><stop offset="1" stop-color="#20a5e2"/></linearGradient>
<linearGradient id="g19" x1="0" y1="0" x2="0" y2="1"><stop offset="0" stop-color="#41ca8c"/><stop offset="0.025" stop-color="#3bc993"/><stop offset="0.05" stop-color="#4dcc82"/><stop offset="0.075" stop-color="#74cc62"/><stop offset="0.1" stop-color="#a1c840"/><stop offset="0.125" stop-color="#c5c22a"/><stop offset="0.15" stop-color="#e0bc2a"/><stop offset="0.175" stop-color="#d9be28"/><stop offset="0.2" stop-color="#cfc028"/><stop offset="0.225" stop-color="#ccc028"/><stop offset="0.25" stop-color="#cdc028"/><stop offset="0.275" stop-color="#c6c22a"/><stop offset="0.3" stop-color="#bcc42f"/><stop offset="0.325" stop-color="#bec32e"/><stop offset="0.35" stop-color="#bec32e"/><stop offset="0.375" stop-color="#b8c431"/><stop offset="0.4" stop-color="#b1c635"/><stop offset="0.425" stop-color="#a2c83f"/><stop offset="0.45" stop-color="#90ca4d"/><stop offset="0.475" stop-color="#87cb54"/><stop offset="0.5" stop-color="#87cb54"/><stop offset="0.525" stop-color="#83cc57"/><stop offset="0.55" stop-color="#7ecc5a"/><stop offset="0.575" stop-color="#7dcc5c"/><stop offset="0.6" stop-color="#74cc62"/><stop offset="0.625" stop-color="#73cd63"/><stop offset="0.65" stop-color="#8ecb4f"/><stop offset="0.675" stop-color="#c0c32d"/><stop offset="0.7" stop-color="#e2bc2b"/><stop offset="0.725" stop-color="#dabd28"/><stop offset="0.75" stop-color="#b2c535"/><stop offset="0.775" stop-color="#82cc58"/><stop offset="0.8" stop-color="#5bcc76"/><stop offset="0.825" stop-color="#40ca8d"/><stop offset="0.85" stop-color="#21c1b0"/><stop offset="0.875" stop-color="#09b4d1"/><stop offset="0.9" stop-color="#17aedb"/><stop offset="0.925" stop-color="#23a0e5"/><stop offset="0.95" stop-color="#2895ec"/><stop offset="0.975" stop-color="#269ae9"/><stop offset="1" stop-color="#1ea8e1"/></linearGradient>
<linearGradient id="g20" x1="0" y1="0" x2="0" y2="1"><stop offset="0" stop-color="#259ce7"/><stop offset="0.025" stop-color="#2797ea"/><stop offset="0.05" stop-color="#2798ea"/><stop offset="0.075" stop-color="#249de7"/><stop offset="0.1" stop-color="#20a5e3"/><stop offset="0.125" stop-color="#1ca9df"/><stop offset="0.15" stop-color="#1ea7e1"/><stop offset="0.175" stop-color="#22a1e4"/><stop offset="0.2" stop-color="#259be7"/><stop offset="0.225" stop-color="#2797ea"/><stop offset="0.25" stop-color="#2896eb"/><stop offset="0.275" stop-color="#2798ea"/><stop offset="0.3" stop-color="#259ce7"/><stop offset="0.325" stop-color="#259be8"/><stop offset="0.35" stop-color="#2699e9"/><stop offset="0.375" stop-color="#269ae9"/><stop offset="0.4" stop-color="#269ae8"/><stop offset="0.425" stop-color="#269ae9"/><stop offset="0.45" stop-color="#21a3e3"/><stop offset="0.475" stop-color="#17aeda"/><stop offset="0.5" stop-color="#09b4d1"/><stop offset="0.525" stop-color="#09b4d1"/><stop offset="0.55" stop-color="#17aeda"/><stop offset="0.575" stop-color="#1ca9df"/><stop offset="0.6" stop-color="#1fa5e2"/><stop offset="0.625" stop-color="#21a3e3"/><stop offset="0.65" stop-color="#1fa5e2"/><stop offset="0.675" stop-color="#1da9e0"/><stop offset="0.7" stop-color="#1da9e0"/><stop offset="0.725" stop-color="#1fa5e2"/><stop offset="0.75" stop-color="#1ea7e1"/><stop offset="0.775" stop-color="#1aacdd"/><stop offset="0.8" stop-color="#1da8e0"/><stop offset="0.825" stop-color="#259be8"/><stop offset="0.85" stop-color="#2d89f5"/><stop offset="0.875" stop-color="#337afd"/><stop offset="0.9" stop-color="#347afd"/><stop offset="0.925" stop-color="#3776fe"/><stop offset="0.95" stop-color="#406dfe"/><stop offset="0.975" stop-color="#4367fd"/><stop offset="1" stop-color="#4367fd"/></linearGradient>
<linearGradient id="g21" x1="0" y1="0" x2="0" y2="1"><stop offset="0" stop-color="#249fe5"/><stop offset="0.025" stop-color="#259ce7"/><stop offset="0.05" stop-color="#249de6"/><stop offset="0.075" stop-color="#239fe5"/><stop offset="0.1" stop-color="#249fe6"/><stop offset="0.125" stop-color="#259be7"/><stop offset="0.15" stop-color="#269ae8"/><stop offset="0.175" stop-color="#2698ea"/><stop offset="0.2" stop-color="#2896ec"/><stop offset="0.225" stop-color="#2798ea"/><stop offset="0.25" stop-color="#269be8"/><stop offset="0.275" stop-color="#2895ec"/><stop offset="0.3" stop-color="#2c8ff0"/><stop offset="0.325" stop-color="#2895ec"/><stop offset="0.35" stop-color="#249fe5"/><stop offset="0.375" stop-color="#22a2e4"/><stop offset="0.4" stop-color="#249fe5"/><stop offset="0.425" stop-color="#269ae9"/><stop offset="0.45" stop-color="#2994ed"/><stop offset="0.475" stop-color="#2a93ee"/><stop offset="0.5" stop-color="#269ae8"/><stop offset="0.525" stop-color="#21a4e3"/><stop offset="0.55" stop-color="#1ea7e1"/><stop offset="0.575" stop-color="#1caadf"/><stop offset="0.6" stop-color="#1caadf"/><stop offset="0.625" stop-color="#1da9e0"/><stop offset="0.65" stop-color="#1aabde"/><stop offset="0.675" stop-color="#19addc"/><stop offset="0.7" stop-color="#1ea8e0"/><stop offset="0.725" stop-color="#269ae9"/><stop offset="0.75" stop-color="#2d89f5"/><stop offset="0.775" stop-color="#337bfc"/><stop offset="0.8" stop-color="#3974fe"/><stop offset="0.825" stop-color="#3b72ff"/><stop offset="0.85" stop-color="#3e70ff"/><stop offset="0.875" stop-color="#406dfe"/><stop offset="0.9" stop-color="#3e6fff"/><stop offset="0.925" stop-color="#406cfe"/><stop offset="0.95" stop-color="#426afe"/><stop offset="0.975" stop-color="#3d71ff"/><stop offset="1" stop-color="#327bfc"/></linearGradient>
<linearGradient id="g22" x1="0" y1="0" x2="0" y2="1"><stop offset="0" stop-color="#1da8e0"/><stop offset="0.025" stop-color="#1fa6e1"/><stop offset="0.05" stop-color="#20a4e3"/><stop offset="0.075" stop-color="#20a5e2"/><stop offset="0.1" stop-color="#1caadf"/><stop offset="0.125" stop-color="#18addb"/><stop offset="0.15" stop-color="#1da9e0"/><stop offset="0.175" stop-color="#249fe6"/><stop offset="0.2" stop-color="#2797eb"/><stop offset="0.225" stop-color="#2b90f0"/><stop offset="0.25" stop-color="#2b92ee"/><stop offset="0.275" stop-color="#269ae8"/><stop offset="0.3" stop-color="#249ee6"/><stop offset="0.325" stop-color="#259ce7"/><stop offset="0.35" stop-color="#259ce7"/><stop offset="0.375" stop-color="#22a1e4"/><stop offset="0.4" stop-color="#1baade"/><stop offset="0.425" stop-color="#13b1d7"/><stop offset="0.45" stop-color="#0fb2d5"/><stop offset="0.475" stop-color="#19addc"/><stop offset="0.5" stop-color="#1ea7e1"/><stop offset="0.525" stop-color="#1babde"/><stop offset="0.55" stop-color="#11b1d6"/><stop offset="0.575" stop-color="#05b6cd"/><stop offset="0.6" stop-color="#01b8ca"/><stop offset="0.625" stop-color="#05b6ce"/><stop offset="0.65" stop-color="#0fb2d5"/><stop offset="0.675" stop-color="#16aeda"/><stop offset="0.7" stop-color="#1aacdd"/><stop offset="0.725" stop-color="#1da8e0"/><stop offset="0.75" stop-color="#20a4e3"/><stop offset="0.775" stop-color="#21a2e4"/><stop offset="0.8" stop-color="#23a0e5"/><stop offset="0.825" stop-color="#269ae9"/><stop offset="0.85" stop-color="#2d88f6"/><stop offset="0.875" stop-color="#3e70ff"/><stop offset="0.9" stop-color="#4465fd"/><stop offset="0.925" stop-color="#4564fd"/><stop offset="0.95" stop-color="#406cfe"/><stop offset="0.975" stop-color="#3678fd"/><stop offset="1" stop-color="#317efb"/></linearGradient>
<linearGradient id="g23" x1="0" y1="0" x2="0" y2="1"><stop offset="0" stop-color="#1bc0b4"/><stop offset="0.025" stop-color="#03bbc3"/><stop offset="0.05" stop-color="#04bbc1"/><stop offset="0.075" stop-color="#16bfb7"/><stop offset="0.1" stop-color="#2fc5a2"/><stop offset="0.125" stop-color="#4bcb83"/><stop offset="0.15" stop-color="#72cd63"/><stop offset="0.175" stop-color="#7fcc5a"/><stop offset="0.2" stop-color="#8bcb51"/><stop offset="0.225" stop-color="#9cc944"/><stop offset="0.25" stop-color="#adc638"/><stop offset="0.275" stop-color="#b5c533"/><stop offset="0.3" stop-color="#a9c73b"/><stop offset="0.325" stop-color="#98c947"/><stop offset="0.35" stop-color="#91ca4d"/><stop offset="0.375" stop-color="#91ca4c"/><stop offset="0.4" stop-color="#9dc943"/><stop offset="0.425" stop-color="#b0c636"/><stop offset="0.45" stop-color="#b3c534"/><stop offset="0.475" stop-color="#aac73a"/><stop offset="0.5" stop-color="#9fc942"/><stop offset="0.525" stop-color="#9fc941"/><stop offset="0.55" stop-color="#a2c83f"/><stop offset="0.575" stop-color="#9dc943"/><stop offset="0.6" stop-color="#9dc943"/><stop offset="0.625" stop-color="#b6c532"/><stop offset="0.65" stop-color="#d2bf27"/><stop offset="0.675" stop-color="#e0bc2a"/><stop offset="0.7" stop-color="#e3bb2c"/><stop offset="0.725" stop-color="#ccc028"/><stop offset="0.75" stop-color="#aac73a"/><stop offset="0.775" stop-color="#7fcc5a"/><stop offset="0.8" stop-color="#48cb86"/><stop offset="0.825" stop-color="#2dc4a5"/><stop offset="0.85" stop-color="#01b7ca"/><stop offset="0.875" stop-color="#1ea7e1"/><stop offset="0.9" stop-color="#1fa5e2"/><stop offset="0.925" stop-color="#20a5e2"/><stop offset="0.95" stop-color="#21a4e3"/><stop offset="0.975" stop-color="#239fe5"/><stop offset="1" stop-color="#269ae9"/></linearGradient>
<linearGradient id="g24" x1="0" y1="0" x2="0" y2="1"><stop offset="0" stop-color="#1aabdd"/><stop offset="0.025" stop-color="#07b5d0"/><stop offset="0.05" stop-color="#23c1af"/><stop offset="0.075" stop-color="#39c895"/><stop offset="0.1" stop-color="#50cc7f"/><stop offset="0.125" stop-color="#76cc61"/><stop offset="0.15" stop-color="#98ca47"/><stop offset="0.175" stop-color="#95ca49"/><stop offset="0.2" stop-color="#99c946"/><stop offset="0.225" stop-color="#9fc942"/><stop offset="0.25" stop-color="#9cc944"/><stop offset="0.275" stop-color="#9dc943"/><stop offset="0.3" stop-color="#9cc944"/><stop offset="0.325" stop-color="#9ac945"/><stop offset="0.35" stop-color="#a0c841"/><stop offset="0.375" stop-color="#b2c635"/><stop offset="0.4" stop-color="#c0c32d"/><stop offset="0.425" stop-color="#cdc028"/><stop offset="0.45" stop-color="#e0bc2a"/><stop offset="0.475" stop-color="#f5ba3a"/><stop offset="0.5" stop-color="#febe3c"/><stop offset="0.525" stop-color="#febe3c"/><stop offset="0.55" stop-color="#f4ba39"/><stop offset="0.575" stop-color="#debc2a"/><stop offset="0.6" stop-color="#cec028"/><stop offset="0.625" stop-color="#dcbd29"/><stop offset="0.65" stop-color="#f4ba39"/><stop offset="0.675" stop-color="#fec03a"/><stop offset="0.7" stop-color="#fec636"/><stop offset="0.725" stop-color="#fbbc3d"/><stop offset="0.75" stop-color="#dcbd29"/><stop offset="0.775" stop-color="#b0c636"/><stop offset="0.8" stop-color="#82cc58"/><stop offset="0.825" stop-color="#55cc7b"/><stop offset="0.85" stop-color="#21c1b0"/><stop offset="0.875" stop-color="#11b1d6"/><stop offset="0.9" stop-color="#1baade"/><stop offset="0.925" stop-color="#1ea7e1"/><stop offset="0.95" stop-color="#1baadf"/><stop offset="0.975" stop-color="#1babde"/><stop offset="1" stop-color="#23a1e4"/></linearGradient>
<linearGradient id="g25" x1="0" y1="0" x2="0" y2="1"><stop offset="0" stop-color="#15afd9"/><stop offset="0.025" stop-color="#20a5e2"/><stop offset="0.05" stop-color="#1babde"/><stop offset="0.075" stop-color="#07b5d0"/><stop offset="0.1" stop-color="#19bfb5"/><stop offset="0.125" stop-color="#40ca8d"/><stop offset="0.15" stop-color="#6bcd69"/><stop offset="0.175" stop-color="#6acd6a"/><stop offset="0.2" stop-color="#6acd6a"/><stop offset="0.225" stop-color="#76cc61"/><stop offset="0.25" stop-color="#7fcc5a"/><stop offset="0.275" stop-color="#86cb55"/><stop offset="0.3" stop-color="#8ecb4e"/><stop offset="0.325" stop-color="#96ca48"/><stop offset="0.35" stop-color="#a7c73c"/><stop offset="0.375" stop-color="#c4c22b"/><stop offset="0.4" stop-color="#dbbd28"/><stop offset="0.425" stop-color="#e0bc2a"/><stop offset="0.45" stop-color="#d3bf27"/><stop offset="0.475" stop-color="#c6c22a"/><stop offset="0.5" stop-color="#b8c431"/><stop offset="0.525" stop-color="#aec637"/><stop offset="0.55" stop-color="#b7c532"/><stop offset="0.575" stop-color="#cbc129"/><stop offset="0.6" stop-color="#d2bf27"/><stop offset="0.625" stop-color="#d0bf27"/><stop offset="0.65" stop-color="#d0bf27"/><stop offset="0.675" stop-color="#cdc028"/><stop offset="0.7" stop-color="#c1c32c"/><stop offset="0.725" stop-color="#9ec942"/><stop offset="0.75" stop-color="#7ecc5b"/><stop offset="0.775" stop-color="#68cd6c"/><stop offset="0.8" stop-color="#59cc78"/><stop offset="0.825" stop-color="#46cb88"/><stop offset="0.85" stop-color="#0ebebb"/><stop offset="0.875" stop-color="#1ea7e1"/><stop offset="0.9" stop-color="#23a0e5"/><stop offset="0.925" stop-color="#249de7"/><stop offset="0.95" stop-color="#2699e9"/><stop offset="0.975" stop-color="#2994ed"/><stop offset="1" stop-color="#2c8ff1"/></linearGradient>
<linearGradient id="g26" x1="0" y1="0" x2="0" y2="1"><stop offset="0" stop-color="#2f82f9"/><stop offset="0.025" stop-color="#2c8ef1"/><stop offset="0.05" stop-color="#2698ea"/><stop offset="0.075" stop-color="#259be7"/><stop offset="0.1" stop-color="#259be8"/><stop offset="0.125" stop-color="#249ee6"/><stop offset="0.15" stop-color="#22a2e4"/><stop offset="0.175" stop-color="#1ca9df"/><stop offset="0.2" stop-color="#17aedb"/><stop offset="0.225" stop-color="#09b4d1"/><stop offset="0.25" stop-color="#0ebdbb"/><stop offset="0.275" stop-color="#2bc3a8"/><stop offset="0.3" stop-color="#3ac994"/><stop offset="0.325" stop-color="#57cc7a"/><stop offset="0.35" stop-color="#86cb55"/><stop offset="0.375" stop-color="#a5c83d"/><stop offset="0.4" stop-color="#afc637"/><stop offset="0.425" stop-color="#bec32e"/><stop offset="0.45" stop-color="#a6c73c"/><stop offset="0.475" stop-color="#86cb54"/><stop offset="0.5" stop-color="#5fcd73"/><stop offset="0.525" stop-color="#44cb8a"/><stop offset="0.55" stop-color="#54cc7c"/><stop offset="0.575" stop-color="#6dcd67"/><stop offset="0.6" stop-color="#8fcb4e"/><stop offset="0.625" stop-color="#b1c635"/><stop offset="0.65" stop-color="#d5be28"/><stop offset="0.675" stop-color="#efba35"/><stop offset="0.7" stop-color="#febe3c"/><stop offset="0.725" stop-color="#eeba34"/><stop offset="0.75" stop-color="#bcc42f"/><stop offset="0.775" stop-color="#76cc60"/><stop offset="0.8" stop-color="#3dc990"/><stop offset="0.825" stop-color="#1cc0b3"/><stop offset="0.85" stop-color="#0eb3d4"/><stop offset="0.875" stop-color="#1ea6e1"/><stop offset="0.9" stop-color="#1da9e0"/><stop offset="0.925" stop-color="#1aacdd"/><stop offset="0.95" stop-color="#1caadf"/><stop offset="0.975" stop-color="#20a4e3"/><stop offset="1" stop-color="#23a1e4"/></linearGradient>
<linearGradient id="g27" x1="0" y1="0" x2="0" y2="1"><stop offset="0" stop-color="#2895ec"/><stop offset="0.025" stop-color="#2896ec"/><stop offset="0.05" stop-color="#2797eb"/><stop offset="0.075" stop-color="#2699e9"/><stop offset="0.1" stop-color="#249de7"/><stop offset="0.125" stop-color="#1fa5e2"/><stop offset="0.15" stop-color="#19addc"/><stop offset="0.175" stop-color="#0eb2d4"/><stop offset="0.2" stop-color="#09b4d1"/><stop offset="0.225" stop-color="#04b6cd"/><stop offset="0.25" stop-color="#0ebdbb"/><stop offset="0.275" stop-color="#34c79c"/><stop offset="0.3" stop-color="#62cd71"/><stop offset="0.325" stop-color="#7dcc5c"/><stop offset="0.35" stop-color="#93ca4a"/><stop offset="0.375" stop-color="#adc638"/><stop offset="0.4" stop-color="#bbc430"/><stop offset="0.425" stop-color="#c6c22a"/><stop offset="0.45" stop-color="#a6c83c"/><stop offset="0.475" stop-color="#86cb54"/><stop offset="0.5" stop-color="#68cd6b"/><stop offset="0.525" stop-color="#56cc7b"/><stop offset="0.55" stop-color="#6fcd66"/><stop offset="0.575" stop-color="#89cb52"/><stop offset="0.6" stop-color="#9ec942"/><stop offset="0.625" stop-color="#b3c534"/><stop offset="0.65" stop-color="#d3bf27"/><stop offset="0.675" stop-color="#eeba34"/><stop offset="0.7" stop-color="#fbbc3d"/><stop offset="0.725" stop-color="#dfbc2a"/><stop offset="0.75" stop-color="#9cc943"/><stop offset="0.775" stop-color="#51cc7f"/><stop offset="0.8" stop-color="#29c3aa"/><stop offset="0.825" stop-color="#01b9c7"/><stop offset="0.85" stop-color="#17aeda"/><stop offset="0.875" stop-color="#1ca9df"/><stop offset="0.9" stop-color="#18addb"/><stop offset="0.925" stop-color="#1aacdd"/><stop offset="0.95" stop-color="#22a2e4"/><stop offset="0.975" stop-color="#2698ea"/><stop offset="1" stop-color="#2994ed"/></linearGradient>
<linearGradient id="g28" x1="0" y1="0" x2="0" y2="1"><stop offset="0" stop-color="#2f80fa"/><stop offset="0.025" stop-color="#2d87f7"/><stop offset="0.05" stop-color="#2c8ff0"/><stop offset="0.075" stop-color="#2797ea"/><stop offset="0.1" stop-color="#2699e9"/><stop offset="0.125" stop-color="#2b91ef"/><stop offset="0.15" stop-color="#2d88f6"/><stop offset="0.175" stop-color="#2d8af4"/><stop offset="0.2" stop-color="#2c8ef1"/><stop offset="0.225" stop-color="#2798ea"/><stop offset="0.25" stop-color="#17aeda"/><stop offset="0.275" stop-color="#1cc0b3"/><stop offset="0.3" stop-color="#49cb85"/><stop offset="0.325" stop-color="#70cd65"/><stop offset="0.35" stop-color="#87cb54"/><stop offset="0.375" stop-color="#98c947"/><stop offset="0.4" stop-color="#b9c431"/><stop offset="0.425" stop-color="#e1bc2b"/><stop offset="0.45" stop-color="#d9be28"/><stop offset="0.475" stop-color="#bbc430"/><stop offset="0.5" stop-color="#86cb55"/><stop offset="0.525" stop-color="#62cd71"/><stop offset="0.55" stop-color="#84cc56"/><stop offset="0.575" stop-color="#afc636"/><stop offset="0.6" stop-color="#d4be28"/><stop offset="0.625" stop-color="#eeba34"/><stop offset="0.65" stop-color="#f9bb3d"/><stop offset="0.675" stop-color="#f3ba38"/><stop offset="0.7" stop-color="#e9bb2f"/><stop offset="0.725" stop-color="#c4c22b"/><stop offset="0.75" stop-color="#92ca4b"/><stop offset="0.775" stop-color="#5ccc76"/><stop offset="0.8" stop-color="#32c69e"/><stop offset="0.825" stop-color="#11beb9"/><stop offset="0.85" stop-color="#01b8c8"/><stop offset="0.875" stop-color="#06b5cf"/><stop offset="0.9" stop-color="#0bb4d2"/><stop offset="0.925" stop-color="#11b2d5"/><stop offset="0.95" stop-color="#15afd9"/><stop offset="0.975" stop-color="#1da9e0"/><stop offset="1" stop-color="#249fe6"/></linearGradient>
<linearGradient id="g29" x1="0" y1="0" x2="0" y2="1"><stop offset="0" stop-color="#21a3e3"/><stop offset="0.025" stop-color="#259be7"/><stop offset="0.05" stop-color="#2798ea"/><stop offset="0.075" stop-color="#2698ea"/><stop offset="0.1" stop-color="#2699e9"/><stop offset="0.125" stop-color="#269ae8"/><stop offset="0.15" stop-color="#23a0e5"/><stop offset="0.175" stop-color="#18addb"/><stop offset="0.2" stop-color="#0bb4d2"/><stop offset="0.225" stop-color="#05b6ce"/><stop offset="0.25" stop-color="#07bcc0"/><stop offset="0.275" stop-color="#26c2ad"/><stop offset="0.3" stop-color="#38c896"/><stop offset="0.325" stop-color="#4dcc82"/><stop offset="0.35" stop-color="#68cd6b"/><stop offset="0.375" stop-color="#85cb55"/><stop offset="0.4" stop-color="#9cc944"/><stop offset="0.425" stop-color="#aac73a"/><stop offset="0.45" stop-color="#82cc58"/><stop offset="0.475" stop-color="#5bcc76"/><stop offset="0.5" stop-color="#44ca8a"/><stop offset="0.525" stop-color="#40ca8d"/><stop offset="0.55" stop-color="#63cd70"/><stop offset="0.575" stop-color="#78cc5f"/><stop offset="0.6" stop-color="#8fcb4e"/><stop offset="0.625" stop-color="#b3c534"/><stop offset="0.65" stop-color="#d7be28"/><stop offset="0.675" stop-color="#f1ba37"/><stop offset="0.7" stop-color="#febe3c"/><stop offset="0.725" stop-color="#dfbc2a"/><stop offset="0.75" stop-color="#97ca48"/><stop offset="0.775" stop-color="#5acc78"/><stop offset="0.8" stop-color="#34c79c"/><stop offset="0.825" stop-color="#12beb9"/><stop offset="0.85" stop-color="#05b6ce"/><stop offset="0.875" stop-color="#18aedb"/><stop offset="0.9" stop-color="#1fa6e2"/><stop offset="0.925" stop-color="#249de6"/><stop offset="0.95" stop-color="#269ae9"/><stop offset="0.975" stop-color="#269ae9"/><stop offset="1" stop-color="#2698ea"/></linearGradient>
<linearGradient id="g30" x1="0" y1="0" x2="0" y2="1"><stop offset="0" stop-color="#19addc"/><stop offset="0.025" stop-color="#1ea7e1"/><stop offset="0.05" stop-color="#22a1e4"/><stop offset="0.075" stop-color="#259ce7"/><stop offset="0.1" stop-color="#269ae8"/><stop offset="0.125" stop-color="#249ee6"/><stop offset="0.15" stop-color="#1fa5e2"/><stop offset="0.175" stop-color="#18addb"/><stop offset="0.2" stop-color="#16afd9"/><stop offset="0.225" stop-color="#07b5d0"/><stop offset="0.25" stop-color="#1dc0b3"/><stop offset="0.275" stop-color="#3ac994"/><stop offset="0.3" stop-color="#57cc7a"/><stop offset="0.325" stop-color="#5fcd73"/><stop offset="0.35" stop-color="#71cd64"/><stop offset="0.375" stop-color="#9ac945"/><stop offset="0.4" stop-color="#c2c22c"/><stop offset="0.425" stop-color="#d7be28"/><stop offset="0.45" stop-color="#b4c534"/><stop offset="0.475" stop-color="#86cb55"/><stop offset="0.5" stop-color="#59cc78"/><stop offset="0.525" stop-color="#47cb87"/><stop offset="0.55" stop-color="#70cd65"/><stop offset="0.575" stop-color="#a0c841"/><stop offset="0.6" stop-color="#cac129"/><stop offset="0.625" stop-color="#e2bc2b"/><stop offset="0.65" stop-color="#eeba34"/><stop offset="0.675" stop-color="#f4ba39"/><stop offset="0.7" stop-color="#f8ba3d"/><stop offset="0.725" stop-color="#dabd28"/><stop offset="0.75" stop-color="#abc739"/><stop offset="0.775" stop-color="#80cc59"/><stop offset="0.8" stop-color="#57cc7a"/><stop offset="0.825" stop-color="#33c79c"/><stop offset="0.85" stop-color="#07bcbf"/><stop offset="0.875" stop-color="#19addc"/><stop offset="0.9" stop-color="#249fe5"/><stop offset="0.925" stop-color="#2797eb"/><stop offset="0.95" stop-color="#2895ec"/><stop offset="0.975" stop-color="#259ce7"/><stop offset="1" stop-color="#1fa6e2"/></linearGradient>
<linearGradient id="g31" x1="0" y1="0" x2="0" y2="1"><stop offset="0" stop-color="#259ce7"/><stop offset="0.025" stop-color="#259be8"/><stop offset="0.05" stop-color="#259ce7"/><stop offset="0.075" stop-color="#259be8"/><stop offset="0.1" stop-color="#2798ea"/><stop offset="0.125" stop-color="#2896eb"/><stop offset="0.15" stop-color="#2798ea"/><stop offset="0.175" stop-color="#21a3e3"/><stop offset="0.2" stop-color="#1baade"/><stop offset="0.225" stop-color="#16afd9"/><stop offset="0.25" stop-color="#01b9c7"/><stop offset="0.275" stop-color="#27c2ac"/><stop offset="0.3" stop-color="#3bc992"/><stop offset="0.325" stop-color="#4bcb83"/><stop offset="0.35" stop-color="#6ccd69"/><stop offset="0.375" stop-color="#9bc944"/><stop offset="0.4" stop-color="#c3c22b"/><stop offset="0.425" stop-color="#d8be28"/><stop offset="0.45" stop-color="#b3c534"/><stop offset="0.475" stop-color="#84cc56"/><stop offset="0.5" stop-color="#58cc79"/><stop offset="0.525" stop-color="#3fca8e"/><stop offset="0.55" stop-color="#4fcc81"/><stop offset="0.575" stop-color="#6acd6a"/><stop offset="0.6" stop-color="#96ca48"/><stop offset="0.625" stop-color="#bac430"/><stop offset="0.65" stop-color="#cdc028"/><stop offset="0.675" stop-color="#d7be28"/><stop offset="0.7" stop-color="#ebba31"/><stop offset="0.725" stop-color="#dabd28"/><stop offset="0.75" stop-color="#a5c83d"/><stop offset="0.775" stop-color="#62cd71"/><stop offset="0.8" stop-color="#36c799"/><stop offset="0.825" stop-color="#1ac0b5"/><stop offset="0.85" stop-color="#04b6cc"/><stop offset="0.875" stop-color="#17aeda"/><stop offset="0.9" stop-color="#19addc"/><stop offset="0.925" stop-color="#1aacdd"/><stop offset="0.95" stop-color="#1aacdd"/><stop offset="0.975" stop-color="#10b2d5"/><stop offset="1" stop-color="#01b8c9"/></linearGradient>
<linearGradient id="g32" x1="0" y1="0" x2="0" y2="1"><stop offset="0" stop-color="#06b6ce"/><stop offset="0.025" stop-color="#15afd9"/><stop offset="0.05" stop-color="#1babde"/><stop offset="0.075" stop-color="#1ea8e1"/><stop offset="0.1" stop-color="#1ea6e1"/><stop offset="0.125" stop-color="#1da8e0"/><stop offset="0.15" stop-color="#1da8e0"/><stop offset="0.175" stop-color="#1babde"/><stop offset="0.2" stop-color="#13b0d8"/><stop offset="0.225" stop-color="#01b9c6"/><stop offset="0.25" stop-color="#2dc4a6"/><stop offset="0.275" stop-color="#4acb84"/><stop offset="0.3" stop-color="#6acd6a"/><stop offset="0.325" stop-color="#72cd63"/><stop offset="0.35" stop-color="#83cc57"/><stop offset="0.375" stop-color="#9fc942"/><stop offset="0.4" stop-color="#bbc430"/><stop offset="0.425" stop-color="#d3bf27"/><stop offset="0.45" stop-color="#c0c32d"/><stop offset="0.475" stop-color="#a9c73a"/><stop offset="0.5" stop-color="#91ca4c"/><stop offset="0.525" stop-color="#83cc57"/><stop offset="0.55" stop-color="#aac73a"/><stop offset="0.575" stop-color="#cfc028"/><stop offset="0.6" stop-color="#eeba34"/><stop offset="0.625" stop-color="#febd3c"/><stop offset="0.65" stop-color="#fec13a"/><stop offset="0.675" stop-color="#fec239"/><stop offset="0.7" stop-color="#fec934"/><stop offset="0.725" stop-color="#fbbc3d"/><stop offset="0.75" stop-color="#d5be28"/><stop offset="0.775" stop-color="#a2c83f"/><stop offset="0.8" stop-color="#64cd6f"/><stop offset="0.825" stop-color="#32c69f"/><stop offset="0.85" stop-color="#0bbdbc"/><stop offset="0.875" stop-color="#04b6cd"/><stop offset="0.9" stop-color="#13b0d8"/><stop offset="0.925" stop-color="#1da9e0"/><stop offset="0.95" stop-color="#1fa5e2"/><stop offset="0.975" stop-color="#1fa6e1"/><stop offset="1" stop-color="#1fa5e2"/></linearGradient>
<linearGradient id="g33" x1="0" y1="0" x2="0" y2="1"><stop offset="0" stop-color="#18aedb"/><stop offset="0.025" stop-color="#20a5e3"/><stop offset="0.05" stop-color="#269ae8"/><stop offset="0.075" stop-color="#2995ec"/><stop offset="0.1" stop-color="#2895ec"/><stop offset="0.125" stop-color="#2a93ed"/><stop offset="0.15" stop-color="#2d8bf4"/><stop offset="0.175" stop-color="#2d8af5"/><stop offset="0.2" stop-color="#2a92ee"/><stop offset="0.225" stop-color="#249fe6"/><stop offset="0.25" stop-color="#1aacdd"/><stop offset="0.275" stop-color="#01b8ca"/><stop offset="0.3" stop-color="#26c2ad"/><stop offset="0.325" stop-color="#2dc4a6"/><stop offset="0.35" stop-color="#28c3aa"/><stop offset="0.375" stop-color="#17bfb6"/><stop offset="0.4" stop-color="#09bcbe"/><stop offset="0.425" stop-color="#09bcbe"/><stop offset="0.45" stop-color="#06bcc0"/><stop offset="0.475" stop-color="#02bac5"/><stop offset="0.5" stop-color="#01b8c9"/><stop offset="0.525" stop-color="#01b9c8"/><stop offset="0.55" stop-color="#02bbc3"/><stop offset="0.575" stop-color="#04bbc1"/><stop offset="0.6" stop-color="#02bac4"/><stop offset="0.625" stop-color="#01b9c7"/><stop offset="0.65" stop-color="#01bac6"/><stop offset="0.675" stop-color="#02b7cb"/><stop offset="0.7" stop-color="#09b4d1"/><stop offset="0.725" stop-color="#0ab4d1"/><stop offset="0.75" stop-color="#03b7cc"/><stop offset="0.775" stop-color="#01b7ca"/><stop offset="0.8" stop-color="#09b4d1"/><stop offset="0.825" stop-color="#19addc"/><stop offset="0.85" stop-color="#17aeda"/><stop offset="0.875" stop-color="#02bac4"/><stop offset="0.9" stop-color="#01b8c9"/><stop offset="0.925" stop-color="#09b4d1"/><stop offset="0.95" stop-color="#1ea8e1"/><stop offset="0.975" stop-color="#2b91ef"/><stop offset="1" stop-color="#3479fd"/></linearGradient>
<linearGradient id="g34" x1="0" y1="0" x2="0" y2="1"><stop offset="0" stop-color="#259ce7"/><stop offset="0.025" stop-color="#2995ec"/><stop offset="0.05" stop-color="#2c8ff0"/><stop offset="0.075" stop-color="#2c8ef1"/><stop offset="0.1" stop-color="#2d8cf3"/><stop offset="0.125" stop-color="#2d8bf4"/><stop offset="0.15" stop-color="#2796eb"/><stop offset="0.175" stop-color="#1babde"/><stop offset="0.2" stop-color="#08b4d0"/><stop offset="0.225" stop-color="#01b8ca"/><stop offset="0.25" stop-color="#01b8c9"/><stop offset="0.275" stop-color="#05b6cd"/><stop offset="0.3" stop-color="#01b9c8"/><stop offset="0.325" stop-color="#02bac5"/><stop offset="0.35" stop-color="#0cbdbc"/><stop offset="0.375" stop-color="#14beb8"/><stop offset="0.4" stop-color="#0fbeba"/><stop offset="0.425" stop-color="#0ebebb"/><stop offset="0.45" stop-color="#16bfb7"/><stop offset="0.475" stop-color="#21c1b0"/><stop offset="0.5" stop-color="#26c2ac"/><stop offset="0.525" stop-color="#23c1af"/><stop offset="0.55" stop-color="#0ebebb"/><stop offset="0.575" stop-color="#01b8c9"/><stop offset="0.6" stop-color="#02b7cb"/><stop offset="0.625" stop-color="#02bac4"/><stop offset="0.65" stop-color="#02bac3"/><stop offset="0.675" stop-color="#0fb2d5"/><stop offset="0.7" stop-color="#1aacdd"/><stop offset="0.725" stop-color="#14b0d8"/><stop offset="0.75" stop-color="#0ab4d2"/><stop offset="0.775" stop-color="#13b0d7"/><stop offset="0.8" stop-color="#1baade"/><stop offset="0.825" stop-color="#1caadf"/><stop offset="0.85" stop-color="#0db3d3"/><stop offset="0.875" stop-color="#07bcc0"/><stop offset="0.9" stop-color="#10b2d5"/><stop offset="0.925" stop-color="#21a4e3"/><stop offset="0.95" stop-color="#259ce7"/><stop offset="0.975" stop-color="#259be8"/><stop offset="1" stop-color="#259ce7"/></linearGradient>
<linearGradient id="g35" x1="0" y1="0" x2="0" y2="1"><stop offset="0" stop-color="#2a93ed"/><stop offset="0.025" stop-color="#259ce7"/><stop offset="0.05" stop-color="#249fe6"/><stop offset="0.075" stop-color="#2798ea"/><stop offset="0.1" stop-color="#2b92ee"/><stop offset="0.125" stop-color="#2c8ff0"/><stop offset="0.15" stop-color="#2c8ff0"/><stop offset="0.175" stop-color="#2994ed"/><stop offset="0.2" stop-color="#2699e9"/><stop offset="0.225" stop-color="#23a0e5"/><stop offset="0.25" stop-color="#1ea7e1"/><stop offset="0.275" stop-color="#1baade"/><stop offset="0.3" stop-color="#19addc"/><stop offset="0.325" stop-color="#15afd9"/><stop offset="0.35" stop-color="#07b5d0"/><stop offset="0.375" stop-color="#01b9c7"/><stop offset="0.4" stop-color="#01b9c6"/><stop offset="0.425" stop-color="#01b8ca"/><stop offset="0.45" stop-color="#07b5d0"/><stop offset="0.475" stop-color="#09b4d1"/><stop offset="0.5" stop-color="#06b5cf"/><stop offset="0.525" stop-color="#03b7cc"/><stop offset="0.55" stop-color="#01b8c9"/><stop offset="0.575" stop-color="#02bac5"/><stop offset="0.6" stop-color="#02bac4"/><stop offset="0.625" stop-color="#07b5d0"/><stop offset="0.65" stop-color="#1aabdd"/><stop offset="0.675" stop-color="#20a4e3"/><stop offset="0.7" stop-color="#1fa5e2"/><stop offset="0.725" stop-color="#1ca9df"/><stop offset="0.75" stop-color="#1aabdd"/><stop offset="0.775" stop-color="#17aeda"/><stop offset="0.8" stop-color="#11b2d5"/><stop offset="0.825" stop-color="#15afd9"/><stop offset="0.85" stop-color="#12b1d7"/><stop offset="0.875" stop-color="#02bac3"/><stop offset="0.9" stop-color="#0dbdbc"/><stop offset="0.925" stop-color="#0cbdbc"/><stop offset="0.95" stop-color="#03bbc2"/><stop offset="0.975" stop-color="#03b6cc"/><stop offset="1" stop-color="#10b2d5"/></linearGradient>
<linearGradient id="g36" x1="0" y1="0" x2="0" y2="1"><stop offset="0" stop-color="#22a2e4"/><stop offset="0.025" stop-color="#249fe6"/><stop offset="0.05" stop-color="#249de6"/><stop offset="0.075" stop-color="#259be8"/><stop offset="0.1" stop-color="#2798ea"/><stop offset="0.125" stop-color="#2699e9"/><stop offset="0.15" stop-color="#259ce7"/><stop offset="0.175" stop-color="#23a0e5"/><stop offset="0.2" stop-color="#249fe6"/><stop offset="0.225" stop-color="#249fe5"/><stop offset="0.25" stop-color="#20a4e3"/><stop offset="0.275" stop-color="#1caadf"/><stop offset="0.3" stop-color="#18addb"/><stop offset="0.325" stop-color="#18aedb"/><stop offset="0.35" stop-color="#16afd9"/><stop offset="0.375" stop-color="#13b1d7"/><stop offset="0.4" stop-color="#09b4d1"/><stop offset="0.425" stop-color="#01b8c9"/><stop offset="0.45" stop-color="#01b9c8"/><stop offset="0.475" stop-color="#09b4d1"/><stop offset="0.5" stop-color="#15afd9"/><stop offset="0.525" stop-color="#10b2d5"/><stop offset="0.55" stop-color="#03b7cc"/><stop offset="0.575" stop-color="#01b8ca"/><stop offset="0.6" stop-color="#05b6ce"/><stop offset="0.625" stop-color="#0cb3d3"/><stop offset="0.65" stop-color="#0cb3d3"/><stop offset="0.675" stop-color="#07b5cf"/><stop offset="0.7" stop-color="#04b6cd"/><stop offset="0.725" stop-color="#08b5d0"/><stop offset="0.75" stop-color="#09b4d1"/><stop offset="0.775" stop-color="#06b5cf"/><stop offset="0.8" stop-color="#07b5cf"/><stop offset="0.825" stop-color="#08b4d0"/><stop offset="0.85" stop-color="#07bcbf"/><stop offset="0.875" stop-color="#31c6a0"/><stop offset="0.9" stop-color="#33c79c"/><stop offset="0.925" stop-color="#2ec5a4"/><stop offset="0.95" stop-color="#2dc4a6"/><stop offset="0.975" stop-color="#31c69f"/><stop offset="1" stop-color="#3bc992"/></linearGradient>
<linearGradient id="g37" x1="0" y1="0" x2="0" y2="1"><stop offset="0" stop-color="#2f81fa"/><stop offset="0.025" stop-color="#2e84f8"/><stop offset="0.05" stop-color="#2d8cf3"/><stop offset="0.075" stop-color="#2895ec"/><stop offset="0.1" stop-color="#2698ea"/><stop offset="0.125" stop-color="#2699e9"/><stop offset="0.15" stop-color="#23a1e5"/><stop offset="0.175" stop-color="#1aacdd"/><stop offset="0.2" stop-color="#17aeda"/><stop offset="0.225" stop-color="#17aeda"/><stop offset="0.25" stop-color="#13b1d7"/><stop offset="0.275" stop-color="#07b5d0"/><stop offset="0.3" stop-color="#01b8c8"/><stop offset="0.325" stop-color="#01b8c9"/><stop offset="0.35" stop-color="#07b5d0"/><stop offset="0.375" stop-color="#19addc"/><stop offset="0.4" stop-color="#1fa5e2"/><stop offset="0.425" stop-color="#1ca9df"/><stop offset="0.45" stop-color="#0eb2d4"/><stop offset="0.475" stop-color="#06b6ce"/><stop offset="0.5" stop-color="#0bb3d2"/><stop offset="0.525" stop-color="#0db3d4"/><stop offset="0.55" stop-color="#03b7cc"/><stop offset="0.575" stop-color="#01b9c6"/><stop offset="0.6" stop-color="#03b7cc"/><stop offset="0.625" stop-color="#14b0d8"/><stop offset="0.65" stop-color="#1babde"/><stop offset="0.675" stop-color="#1caadf"/><stop offset="0.7" stop-color="#1aabdd"/><stop offset="0.725" stop-color="#19acdc"/><stop offset="0.75" stop-color="#1babde"/><stop offset="0.775" stop-color="#1ea7e1"/><stop offset="0.8" stop-color="#21a4e3"/><stop offset="0.825" stop-color="#22a2e4"/><stop offset="0.85" stop-color="#19addb"/><stop offset="0.875" stop-color="#0abdbd"/><stop offset="0.9" stop-color="#21c1b0"/><stop offset="0.925" stop-color="#24c1ae"/><stop offset="0.95" stop-color="#20c1b1"/><stop offset="0.975" stop-color="#14beb8"/><stop offset="1" stop-color="#0abdbd"/></linearGradient>
<linearGradient id="g38" x1="0" y1="0" x2="0" y2="1"><stop offset="0" stop-color="#2cc4a6"/><stop offset="0.025" stop-color="#2ac3a9"/><stop offset="0.05" stop-color="#2ac3a9"/><stop offset="0.075" stop-color="#2cc4a7"/><stop offset="0.1" stop-color="#27c2ab"/><stop offset="0.125" stop-color="#20c1b1"/><stop offset="0.15" stop-color="#1ec0b2"/><stop offset="0.175" stop-color="#2bc3a8"/><stop offset="0.2" stop-color="#3ac994"/><stop offset="0.225" stop-color="#5ccc76"/><stop offset="0.25" stop-color="#70cd65"/><stop offset="0.275" stop-color="#70cd65"/><stop offset="0.3" stop-color="#7acc5d"/><stop offset="0.325" stop-color="#80cc59"/><stop offset="0.35" stop-color="#82cc58"/><stop offset="0.375" stop-color="#7bcc5d"/><stop offset="0.4" stop-color="#7dcc5c"/><stop offset="0.425" stop-color="#7ecc5b"/><stop offset="0.45" stop-color="#78cc5f"/><stop offset="0.475" stop-color="#76cc61"/><stop offset="0.5" stop-color="#6ecd66"/><stop offset="0.525" stop-color="#68cd6c"/><stop offset="0.55" stop-color="#71cd64"/><stop offset="0.575" stop-color="#7acc5e"/><stop offset="0.6" stop-color="#7ecc5b"/><stop offset="0.625" stop-color="#89cb52"/><stop offset="0.65" stop-color="#96ca48"/><stop offset="0.675" stop-color="#86cb55"/><stop offset="0.7" stop-color="#62cd71"/><stop offset="0.725" stop-color="#4fcc80"/><stop offset="0.75" stop-color="#47cb87"/><stop offset="0.775" stop-color="#49cb86"/><stop offset="0.8" stop-color="#5bcc77"/><stop offset="0.825" stop-color="#79cc5e"/><stop offset="0.85" stop-color="#a1c840"/><stop offset="0.875" stop-color="#c5c22a"/><stop offset="0.9" stop-color="#d0bf27"/><stop offset="0.925" stop-color="#d2bf27"/><stop offset="0.95" stop-color="#cac129"/><stop offset="0.975" stop-color="#b7c532"/><stop offset="1" stop-color="#9ec942"/></linearGradient>
<linearGradient id="g39" x1="0" y1="0" x2="0" y2="1"><stop offset="0" stop-color="#0abdbe"/><stop offset="0.025" stop-color="#1abfb5"/><stop offset="0.05" stop-color="#1cc0b4"/><stop offset="0.075" stop-color="#1abfb5"/><stop offset="0.1" stop-color="#18bfb6"/><stop offset="0.125" stop-color="#22c1b0"/><stop offset="0.15" stop-color="#34c79c"/><stop offset="0.175" stop-color="#56cc7b"/><stop offset="0.2" stop-color="#6acd69"/><stop offset="0.225" stop-color="#79cc5e"/><stop offset="0.25" stop-color="#95ca49"/><stop offset="0.275" stop-color="#b1c636"/><stop offset="0.3" stop-color="#c4c22b"/><stop offset="0.325" stop-color="#bcc42f"/><stop offset="0.35" stop-color="#aac739"/><stop offset="0.375" stop-color="#94ca4a"/><stop offset="0.4" stop-color="#7ecc5b"/><stop offset="0.425" stop-color="#6acd6a"/><stop offset="0.45" stop-color="#66cd6d"/><stop offset="0.475" stop-color="#79cc5e"/><stop offset="0.5" stop-color="#8dcb50"/><stop offset="0.525" stop-color="#96ca48"/><stop offset="0.55" stop-color="#90ca4d"/><stop offset="0.575" stop-color="#78cc5f"/><stop offset="0.6" stop-color="#6ccd68"/><stop offset="0.625" stop-color="#73cd63"/><stop offset="0.65" stop-color="#70cd65"/><stop offset="0.675" stop-color="#45cb89"/><stop offset="0.7" stop-color="#2cc4a6"/><stop offset="0.725" stop-color="#31c6a1"/><stop offset="0.75" stop-color="#44cb8a"/><stop offset="0.775" stop-color="#59cc78"/><stop offset="0.8" stop-color="#6acd6a"/><stop offset="0.825" stop-color="#82cc58"/><stop offset="0.85" stop-color="#9ec942"/><stop offset="0.875" stop-color="#b3c534"/><stop offset="0.9" stop-color="#b6c532"/><stop offset="0.925" stop-color="#b5c533"/><stop offset="0.95" stop-color="#adc638"/><stop offset="0.975" stop-color="#a8c73b"/><stop offset="1" stop-color="#aec637"/></linearGradient>
<linearGradient id="g40" x1="0" y1="0" x2="0" y2="1"><stop offset="0" stop-color="#1ac0b5"/><stop offset="0.025" stop-color="#1ec0b2"/><stop offset="0.05" stop-color="#21c1b0"/><stop offset="0.075" stop-color="#16bfb7"/><stop offset="0.1" stop-color="#08bcbf"/><stop offset="0.125" stop-color="#09bcbe"/><stop offset="0.15" stop-color="#1ac0b4"/><stop offset="0.175" stop-color="#34c79c"/><stop offset="0.2" stop-color="#4bcb84"/><stop offset="0.225" stop-color="#6ccd68"/><stop offset="0.25" stop-color="#97ca47"/><stop offset="0.275" stop-color="#bfc32d"/><stop offset="0.3" stop-color="#e4bb2c"/><stop offset="0.325" stop-color="#eeba34"/><stop offset="0.35" stop-color="#f0ba36"/><stop offset="0.375" stop-color="#eeba34"/><stop offset="0.4" stop-color="#eabb30"/><stop offset="0.425" stop-color="#e8bb2f"/><stop offset="0.45" stop-color="#d1bf27"/><stop offset="0.475" stop-color="#b1c635"/><stop offset="0.5" stop-color="#92ca4c"/><stop offset="0.525" stop-color="#83cc57"/><stop offset="0.55" stop-color="#84cb56"/><stop offset="0.575" stop-color="#6bcd69"/><stop offset="0.6" stop-color="#57cc7a"/><stop offset="0.625" stop-color="#54cc7c"/><stop offset="0.65" stop-color="#4dcc82"/><stop offset="0.675" stop-color="#33c69d"/><stop offset="0.7" stop-color="#21c1b0"/><stop offset="0.725" stop-color="#24c1ae"/><stop offset="0.75" stop-color="#2cc4a7"/><stop offset="0.775" stop-color="#32c69f"/><stop offset="0.8" stop-color="#3ac993"/><stop offset="0.825" stop-color="#48cb86"/><stop offset="0.85" stop-color="#85cb55"/><stop offset="0.875" stop-color="#dbbd29"/><stop offset="0.9" stop-color="#efba35"/><stop offset="0.925" stop-color="#efba35"/><stop offset="0.95" stop-color="#e6bb2d"/><stop offset="0.975" stop-color="#d7be28"/><stop offset="1" stop-color="#ccc028"/></linearGradient>
<linearGradient id="g41" x1="0" y1="0" x2="0" y2="1"><stop offset="0" stop-color="#09bdbe"/><stop offset="0.025" stop-color="#0fbeba"/><stop offset="0.05" stop-color="#1dc0b3"/><stop offset="0.075" stop-color="#23c1af"/><stop offset="0.1" stop-color="#1dc0b3"/><stop offset="0.125" stop-color="#0cbdbc"/><stop offset="0.15" stop-color="#06bcc0"/><stop offset="0.175" stop-color="#1cc0b3"/><stop offset="0.2" stop-color="#2fc5a2"/><stop offset="0.225" stop-color="#4acb84"/><stop offset="0.25" stop-color="#7dcc5c"/><stop offset="0.275" stop-color="#acc739"/><stop offset="0.3" stop-color="#d0bf27"/><stop offset="0.325" stop-color="#d7be28"/><stop offset="0.35" stop-color="#dfbc2a"/><stop offset="0.375" stop-color="#e7bb2e"/><stop offset="0.4" stop-color="#ecba32"/><stop offset="0.425" stop-color="#e4bb2c"/><stop offset="0.45" stop-color="#adc638"/><stop offset="0.475" stop-color="#79cc5e"/><stop offset="0.5" stop-color="#58cc79"/><stop offset="0.525" stop-color="#3eca8f"/><stop offset="0.55" stop-color="#3bc992"/><stop offset="0.575" stop-color="#3bc993"/><stop offset="0.6" stop-color="#42ca8b"/><stop offset="0.625" stop-color="#56cc7b"/><stop offset="0.65" stop-color="#5dcc75"/><stop offset="0.675" stop-color="#3bc993"/><stop offset="0.7" stop-color="#27c2ab"/><stop offset="0.725" stop-color="#28c3aa"/><stop offset="0.75" stop-color="#2dc4a6"/><stop offset="0.775" stop-color="#32c69f"/><stop offset="0.8" stop-color="#46cb87"/><stop offset="0.825" stop-color="#64cd6f"/><stop offset="0.85" stop-color="#91ca4c"/><stop offset="0.875" stop-color="#c9c129"/><stop offset="0.9" stop-color="#dabd28"/><stop offset="0.925" stop-color="#e2bc2b"/><stop offset="0.95" stop-color="#dbbd29"/><stop offset="0.975" stop-color="#cac129"/><stop offset="1" stop-color="#bdc42f"/></linearGradient>
<linearGradient id="g42" x1="0" y1="0" x2="0" y2="1"><stop offset="0" stop-color="#29c3aa"/><stop offset="0.025" stop-color="#1bc0b4"/><stop offset="0.05" stop-color="#14beb8"/><stop offset="0.075" stop-color="#12beb9"/><stop offset="0.1" stop-color="#16bfb7"/><stop offset="0.125" stop-color="#23c1af"/><stop offset="0.15" stop-color="#2dc4a6"/><stop offset="0.175" stop-color="#43ca8b"/><stop offset="0.2" stop-color="#6dcd68"/><stop offset="0.225" stop-color="#91ca4c"/><stop offset="0.25" stop-color="#adc738"/><stop offset="0.275" stop-color="#d2bf27"/><stop offset="0.3" stop-color="#f4ba3a"/><stop offset="0.325" stop-color="#efba35"/><stop offset="0.35" stop-color="#dabd28"/><stop offset="0.375" stop-color="#c5c22a"/><stop offset="0.4" stop-color="#b2c635"/><stop offset="0.425" stop-color="#9bc944"/><stop offset="0.45" stop-color="#6fcd66"/><stop offset="0.475" stop-color="#5fcd73"/><stop offset="0.5" stop-color="#54cc7c"/><stop offset="0.525" stop-color="#46cb88"/><stop offset="0.55" stop-color="#40ca8d"/><stop offset="0.575" stop-color="#33c69d"/><stop offset="0.6" stop-color="#2bc3a8"/><stop offset="0.625" stop-color="#24c1ae"/><stop offset="0.65" stop-color="#1bc0b4"/><stop offset="0.675" stop-color="#0bbdbd"/><stop offset="0.7" stop-color="#08bcbf"/><stop offset="0.725" stop-color="#23c1af"/><stop offset="0.75" stop-color="#36c899"/><stop offset="0.775" stop-color="#40ca8d"/><stop offset="0.8" stop-color="#4acb84"/><stop offset="0.825" stop-color="#58cc79"/><stop offset="0.85" stop-color="#7fcc5a"/><stop offset="0.875" stop-color="#b8c431"/><stop offset="0.9" stop-color="#c7c12a"/><stop offset="0.925" stop-color="#cdc028"/><stop offset="0.95" stop-color="#c9c129"/><stop offset="0.975" stop-color="#b9c430"/><stop offset="1" stop-color="#aec637"/></linearGradient>
<linearGradient id="g43" x1="0" y1="0" x2="0" y2="1"><stop offset="0" stop-color="#d1bf27"/><stop offset="0.025" stop-color="#d2bf27"/><stop offset="0.05" stop-color="#e1bc2b"/><stop offset="0.075" stop-color="#ebba32"/><stop offset="0.1" stop-color="#ecba33"/><stop offset="0.125" stop-color="#eeba34"/><stop offset="0.15" stop-color="#e8bb2f"/><stop offset="0.175" stop-color="#e1bc2b"/><stop offset="0.2" stop-color="#d7be28"/><stop offset="0.225" stop-color="#dabd28"/><stop offset="0.25" stop-color="#e7bb2e"/><stop offset="0.275" stop-color="#f6ba3b"/><stop offset="0.3" stop-color="#fec13a"/><stop offset="0.325" stop-color="#fec239"/><stop offset="0.35" stop-color="#fec339"/><stop offset="0.375" stop-color="#fec338"/><stop offset="0.4" stop-color="#fec13a"/><stop offset="0.425" stop-color="#fbbc3d"/><stop offset="0.45" stop-color="#e3bc2c"/><stop offset="0.475" stop-color="#c9c129"/><stop offset="0.5" stop-color="#b3c534"/><stop offset="0.525" stop-color="#aec637"/><stop offset="0.55" stop-color="#c3c22b"/><stop offset="0.575" stop-color="#d1bf27"/><stop offset="0.6" stop-color="#d3bf27"/><stop offset="0.625" stop-color="#cdc028"/><stop offset="0.65" stop-color="#c1c32c"/><stop offset="0.675" stop-color="#8ecb4f"/><stop offset="0.7" stop-color="#54cc7d"/><stop offset="0.725" stop-color="#53cc7d"/><stop offset="0.75" stop-color="#6dcd68"/><stop offset="0.775" stop-color="#90ca4d"/><stop offset="0.8" stop-color="#b6c532"/><stop offset="0.825" stop-color="#cdc028"/><stop offset="0.85" stop-color="#e0bc2a"/><stop offset="0.875" stop-color="#f8ba3d"/><stop offset="0.9" stop-color="#fdbd3d"/><stop offset="0.925" stop-color="#fdbd3d"/><stop offset="0.95" stop-color="#febf3b"/><stop offset="0.975" stop-color="#fec239"/><stop offset="1" stop-color="#fec438"/></linearGradient>
<linearGradient id="g44" x1="0" y1="0" x2="0" y2="1"><stop offset="0" stop-color="#fec438"/><stop offset="0.025" stop-color="#f7ba3c"/><stop offset="0.05" stop-color="#e4bb2c"/><stop offset="0.075" stop-color="#dbbd29"/><stop offset="0.1" stop-color="#d9bd28"/><stop offset="0.125" stop-color="#d7be28"/><stop offset="0.15" stop-color="#dbbd29"/><stop offset="0.175" stop-color="#eeba34"/><stop offset="0.2" stop-color="#f7ba3c"/><stop offset="0.225" stop-color="#fabb3d"/><stop offset="0.25" stop-color="#fbbc3d"/><stop offset="0.275" stop-color="#fcbd3d"/><stop offset="0.3" stop-color="#fec13a"/><stop offset="0.325" stop-color="#fec735"/><stop offset="0.35" stop-color="#fdcd32"/><stop offset="0.375" stop-color="#fdcd32"/><stop offset="0.4" stop-color="#fec934"/><stop offset="0.425" stop-color="#fec736"/><stop offset="0.45" stop-color="#fec239"/><stop offset="0.475" stop-color="#fdbd3d"/><stop offset="0.5" stop-color="#edba34"/><stop offset="0.525" stop-color="#d0bf27"/><stop offset="0.55" stop-color="#c1c32c"/><stop offset="0.575" stop-color="#bac430"/><stop offset="0.6" stop-color="#bbc42f"/><stop offset="0.625" stop-color="#bfc32d"/><stop offset="0.65" stop-color="#b6c532"/><stop offset="0.675" stop-color="#86cb54"/><stop offset="0.7" stop-color="#61cd71"/><stop offset="0.725" stop-color="#76cc60"/><stop offset="0.75" stop-color="#9cc944"/><stop offset="0.775" stop-color="#b2c535"/><stop offset="0.8" stop-color="#bec32e"/><stop offset="0.825" stop-color="#c6c22a"/><stop offset="0.85" stop-color="#d7be28"/><stop offset="0.875" stop-color="#f1ba37"/><stop offset="0.9" stop-color="#f5ba3a"/><stop offset="0.925" stop-color="#eeba34"/><stop offset="0.95" stop-color="#e8bb2e"/><stop offset="0.975" stop-color="#e4bb2c"/><stop offset="1" stop-color="#e6bb2d"/></linearGradient>
<linearGradient id="g45" x1="0" y1="0" x2="0" y2="1"><stop offset="0" stop-color="#edba33"/><stop offset="0.025" stop-color="#eeba34"/><stop offset="0.05" stop-color="#f3ba38"/><stop offset="0.075" stop-color="#f5ba3a"/><stop offset="0.1" stop-color="#e9bb30"/><stop offset="0.125" stop-color="#d7be28"/><stop offset="0.15" stop-color="#d4bf28"/><stop offset="0.175" stop-color="#e5bb2d"/><stop offset="0.2" stop-color="#f0ba36"/><stop offset="0.225" stop-color="#fcbc3d"/><stop offset="0.25" stop-color="#fec13a"/><stop offset="0.275" stop-color="#fec03b"/><stop offset="0.3" stop-color="#fec537"/><stop offset="0.325" stop-color="#feca33"/><stop offset="0.35" stop-color="#fec835"/><stop offset="0.375" stop-color="#fec338"/><stop offset="0.4" stop-color="#fec537"/><stop offset="0.425" stop-color="#fdce31"/><stop offset="0.45" stop-color="#fdcb33"/><stop offset="0.475" stop-color="#febf3c"/><stop offset="0.5" stop-color="#ebba31"/><stop offset="0.525" stop-color="#d5be28"/><stop offset="0.55" stop-color="#dabd28"/><stop offset="0.575" stop-color="#e7bb2d"/><stop offset="0.6" stop-color="#ebba31"/><stop offset="0.625" stop-color="#e6bb2d"/><stop offset="0.65" stop-color="#d9bd28"/><stop offset="0.675" stop-color="#abc739"/><stop offset="0.7" stop-color="#7acc5e"/><stop offset="0.725" stop-color="#83cc57"/><stop offset="0.75" stop-color="#9fc942"/><stop offset="0.775" stop-color="#a8c73b"/><stop offset="0.8" stop-color="#aac73a"/><stop offset="0.825" stop-color="#bac430"/><stop offset="0.85" stop-color="#cac129"/><stop offset="0.875" stop-color="#dabd28"/><stop offset="0.9" stop-color="#d9be28"/><stop offset="0.925" stop-color="#d5be28"/><stop offset="0.95" stop-color="#d8be28"/><stop offset="0.975" stop-color="#e3bc2c"/><stop offset="1" stop-color="#f3ba38"/></linearGradient>
<linearGradient id="g46" x1="0" y1="0" x2="0" y2="1"><stop offset="0" stop-color="#fec438"/><stop offset="0.025" stop-color="#fec736"/><stop offset="0.05" stop-color="#fcbd3d"/><stop offset="0.075" stop-color="#e5bb2d"/><stop offset="0.1" stop-color="#d4bf28"/><stop offset="0.125" stop-color="#cdc028"/><stop offset="0.15" stop-color="#c1c32c"/><stop offset="0.175" stop-color="#c0c32d"/><stop offset="0.2" stop-color="#c5c22a"/><stop offset="0.225" stop-color="#cbc029"/><stop offset="0.25" stop-color="#d2bf27"/><stop offset="0.275" stop-color="#ddbd29"/><stop offset="0.3" stop-color="#e5bb2d"/><stop offset="0.325" stop-color="#e0bc2a"/><stop offset="0.35" stop-color="#dfbc2a"/><stop offset="0.375" stop-color="#e3bc2c"/><stop offset="0.4" stop-color="#eabb30"/><stop offset="0.425" stop-color="#f2ba38"/><stop offset="0.45" stop-color="#f1ba37"/><stop offset="0.475" stop-color="#edba33"/><stop offset="0.5" stop-color="#e3bc2c"/><stop offset="0.525" stop-color="#d6be28"/><stop offset="0.55" stop-color="#d1bf27"/><stop offset="0.575" stop-color="#ccc028"/><stop offset="0.6" stop-color="#c3c22b"/><stop offset="0.625" stop-color="#aec637"/><stop offset="0.65" stop-color="#8dcb4f"/><stop offset="0.675" stop-color="#52cc7e"/><stop offset="0.7" stop-color="#32c69e"/><stop offset="0.725" stop-color="#37c897"/><stop offset="0.75" stop-color="#5dcc75"/><stop offset="0.775" stop-color="#90ca4d"/><stop offset="0.8" stop-color="#abc739"/><stop offset="0.825" stop-color="#b3c534"/><stop offset="0.85" stop-color="#c0c32d"/><stop offset="0.875" stop-color="#e2bc2b"/><stop offset="0.9" stop-color="#f5ba3b"/><stop offset="0.925" stop-color="#fcbc3d"/><stop offset="0.95" stop-color="#fdbd3d"/><stop offset="0.975" stop-color="#f8ba3d"/><stop offset="1" stop-color="#eaba31"/></linearGradient>
<linearGradient id="g47" x1="0" y1="0" x2="0" y2="1"><stop offset="0" stop-color="#259ce7"/><stop offset="0.025" stop-color="#2895ec"/><stop offset="0.05" stop-color="#2b91ef"/><stop offset="0.075" stop-color="#2c90f0"/><stop offset="0.1" stop-color="#2c90f0"/><stop offset="0.125" stop-color="#2c90f0"/><stop offset="0.15" stop-color="#2b91ef"/><stop offset="0.175" stop-color="#2798ea"/><stop offset="0.2" stop-color="#259de7"/><stop offset="0.225" stop-color="#249fe5"/><stop offset="0.25" stop-color="#20a4e3"/><stop offset="0.275" stop-color="#1aabdd"/><stop offset="0.3" stop-color="#15afd9"/><stop offset="0.325" stop-color="#19addc"/><stop offset="0.35" stop-color="#1aabdd"/><stop offset="0.375" stop-color="#1ea8e1"/><stop offset="0.4" stop-color="#1fa5e2"/><stop offset="0.425" stop-color="#1baade"/><stop offset="0.45" stop-color="#19acdc"/><stop offset="0.475" stop-color="#1fa5e2"/><stop offset="0.5" stop-color="#269ae8"/><stop offset="0.525" stop-color="#2994ed"/><stop offset="0.55" stop-color="#2798ea"/><stop offset="0.575" stop-color="#249de6"/><stop offset="0.6" stop-color="#249de6"/><stop offset="0.625" stop-color="#2798ea"/><stop offset="0.65" stop-color="#2a92ee"/><stop offset="0.675" stop-color="#2d8cf3"/><stop offset="0.7" stop-color="#2d8cf3"/><stop offset="0.725" stop-color="#2797ea"/><stop offset="0.75" stop-color="#22a2e4"/><stop offset="0.775" stop-color="#20a4e3"/><stop offset="0.8" stop-color="#249de6"/><stop offset="0.825" stop-color="#2896ec"/><stop offset="0.85" stop-color="#2994ed"/><stop offset="0.875" stop-color="#2699e9"/><stop offset="0.9" stop-color="#269ae9"/><stop offset="0.925" stop-color="#259be8"/><stop offset="0.95" stop-color="#259de7"/><stop offset="0.975" stop-color="#249ee6"/><stop offset="1" stop-color="#23a0e5"/></linearGradient>
<linearGradient id="g48" x1="0" y1="0" x2="0" y2="1"><stop offset="0" stop-color="#426afe"/><stop offset="0.025" stop-color="#3d70ff"/><stop offset="0.05" stop-color="#317dfc"/><stop offset="0.075" stop-color="#2d8bf4"/><stop offset="0.1" stop-color="#2797ea"/><stop offset="0.125" stop-color="#23a0e5"/><stop offset="0.15" stop-color="#1fa6e2"/><stop offset="0.175" stop-color="#18addb"/><stop offset="0.2" stop-color="#16afd9"/><stop offset="0.225" stop-color="#1caadf"/><stop offset="0.25" stop-color="#1ea8e1"/><stop offset="0.275" stop-color="#19acdc"/><stop offset="0.3" stop-color="#12b1d7"/><stop offset="0.325" stop-color="#18addb"/><stop offset="0.35" stop-color="#1da8e0"/><stop offset="0.375" stop-color="#20a5e3"/><stop offset="0.4" stop-color="#21a3e4"/><stop offset="0.425" stop-color="#1fa6e1"/><stop offset="0.45" stop-color="#1baade"/><stop offset="0.475" stop-color="#1da8e0"/><stop offset="0.5" stop-color="#249fe5"/><stop offset="0.525" stop-color="#2a93ed"/><stop offset="0.55" stop-color="#2d8cf3"/><stop offset="0.575" stop-color="#2b90ef"/><stop offset="0.6" stop-color="#2798ea"/><stop offset="0.625" stop-color="#2798ea"/><stop offset="0.65" stop-color="#2d8cf3"/><stop offset="0.675" stop-color="#3080fa"/><stop offset="0.7" stop-color="#307ffb"/><stop offset="0.725" stop-color="#2e84f8"/><stop offset="0.75" stop-color="#2e86f7"/><stop offset="0.775" stop-color="#2e83f9"/><stop offset="0.8" stop-color="#2e84f8"/><stop offset="0.825" stop-color="#2d8cf3"/><stop offset="0.85" stop-color="#2994ed"/><stop offset="0.875" stop-color="#2699e9"/><stop offset="0.9" stop-color="#2699e9"/><stop offset="0.925" stop-color="#2698ea"/><stop offset="0.95" stop-color="#2895ec"/><stop offset="0.975" stop-color="#2c90f0"/><stop offset="1" stop-color="#2d8af4"/></linearGradient>
<linearGradient id="g49" x1="0" y1="0" x2="0" y2="1"><stop offset="0" stop-color="#2b91ef"/><stop offset="0.025" stop-color="#2994ec"/><stop offset="0.05" stop-color="#2a93ee"/><stop offset="0.075" stop-color="#2c90f0"/><stop offset="0.1" stop-color="#2a93ee"/><stop offset="0.125" stop-color="#2796eb"/><stop offset="0.15" stop-color="#2994ed"/><stop offset="0.175" stop-color="#2b91ef"/><stop offset="0.2" stop-color="#2b91ef"/><stop offset="0.225" stop-color="#2699ea"/><stop offset="0.25" stop-color="#249fe6"/><stop offset="0.275" stop-color="#249fe6"/><stop offset="0.3" stop-color="#22a1e4"/><stop offset="0.325" stop-color="#20a5e2"/><stop offset="0.35" stop-color="#1fa5e2"/><stop offset="0.375" stop-color="#21a3e4"/><stop offset="0.4" stop-color="#1fa6e2"/><stop offset="0.425" stop-color="#1aacdd"/><stop offset="0.45" stop-color="#1da8e0"/><stop offset="0.475" stop-color="#259de7"/><stop offset="0.5" stop-color="#2994ed"/><stop offset="0.525" stop-color="#2a93ee"/><stop offset="0.55" stop-color="#2895ec"/><stop offset="0.575" stop-color="#2895ec"/><stop offset="0.6" stop-color="#2b92ee"/><stop offset="0.625" stop-color="#2c8ef1"/><stop offset="0.65" stop-color="#2d8bf3"/><stop offset="0.675" stop-color="#2e83f9"/><stop offset="0.7" stop-color="#3479fd"/><stop offset="0.725" stop-color="#337bfd"/><stop offset="0.75" stop-color="#2e83f9"/><stop offset="0.775" stop-color="#2d88f6"/><stop offset="0.8" stop-color="#2e87f7"/><stop offset="0.825" stop-color="#2e84f8"/><stop offset="0.85" stop-color="#2d89f5"/><stop offset="0.875" stop-color="#2994ed"/><stop offset="0.9" stop-color="#2796eb"/><stop offset="0.925" stop-color="#2a93ee"/><stop offset="0.95" stop-color="#2c8ef1"/><stop offset="0.975" stop-color="#2c8ff1"/><stop offset="1" stop-color="#269be8"/></linearGradient>
<linearGradient id="g50" x1="0" y1="0" x2="0" y2="1"><stop offset="0" stop-color="#2895ec"/><stop offset="0.025" stop-color="#2797ea"/><stop offset="0.05" stop-color="#259de7"/><stop offset="0.075" stop-color="#21a2e4"/><stop offset="0.1" stop-color="#1ea7e1"/><stop offset="0.125" stop-color="#1da9e0"/><stop offset="0.15" stop-color="#20a5e2"/><stop offset="0.175" stop-color="#22a2e4"/><stop offset="0.2" stop-color="#21a3e4"/><stop offset="0.225" stop-color="#1da9e0"/><stop offset="0.25" stop-color="#19addc"/><stop offset="0.275" stop-color="#16afd9"/><stop offset="0.3" stop-color="#11b1d6"/><stop offset="0.325" stop-color="#12b1d6"/><stop offset="0.35" stop-color="#17aeda"/><stop offset="0.375" stop-color="#1da9e0"/><stop offset="0.4" stop-color="#20a5e2"/><stop offset="0.425" stop-color="#21a3e4"/><stop offset="0.45" stop-color="#249fe5"/><stop offset="0.475" stop-color="#259de7"/><stop offset="0.5" stop-color="#269ae9"/><stop offset="0.525" stop-color="#2995ec"/><stop offset="0.55" stop-color="#2895ec"/><stop offset="0.575" stop-color="#2797eb"/><stop offset="0.6" stop-color="#2994ed"/><stop offset="0.625" stop-color="#2c8ff1"/><stop offset="0.65" stop-color="#2b92ee"/><stop offset="0.675" stop-color="#2b91ef"/><stop offset="0.7" stop-color="#2e86f8"/><stop offset="0.725" stop-color="#2e84f9"/><stop offset="0.75" stop-color="#2d8bf4"/><stop offset="0.775" stop-color="#2d8cf3"/><stop offset="0.8" stop-color="#2d8bf4"/><stop offset="0.825" stop-color="#2995ec"/><stop offset="0.85" stop-color="#1da8e0"/><stop offset="0.875" stop-color="#13b0d7"/><stop offset="0.9" stop-color="#1da8e0"/><stop offset="0.925" stop-color="#23a0e5"/><stop offset="0.95" stop-color="#269ae8"/><stop offset="0.975" stop-color="#2a93ee"/><stop offset="1" stop-color="#2d8cf3"/></linearGradient>
<linearGradient id="g51" x1="0" y1="0" x2="0" y2="1"><stop offset="0" stop-color="#2e87f7"/><stop offset="0.025" stop-color="#2d8df2"/><stop offset="0.05" stop-color="#2d8cf3"/><stop offset="0.075" stop-color="#2e87f7"/><stop offset="0.1" stop-color="#2e87f7"/><stop offset="0.125" stop-color="#2c8ef1"/><stop offset="0.15" stop-color="#2798ea"/><stop offset="0.175" stop-color="#249fe5"/><stop offset="0.2" stop-color="#22a1e4"/><stop offset="0.225" stop-color="#20a4e3"/><stop offset="0.25" stop-color="#1ca9df"/><stop offset="0.275" stop-color="#15afd9"/><stop offset="0.3" stop-color="#0cb3d3"/><stop offset="0.325" stop-color="#15afd8"/><stop offset="0.35" stop-color="#18aedb"/><stop offset="0.375" stop-color="#11b1d6"/><stop offset="0.4" stop-color="#10b2d5"/><stop offset="0.425" stop-color="#1aacdd"/><stop offset="0.45" stop-color="#22a1e4"/><stop offset="0.475" stop-color="#2699e9"/><stop offset="0.5" stop-color="#2994ed"/><stop offset="0.525" stop-color="#2c90f0"/><stop offset="0.55" stop-color="#2c8ef1"/><stop offset="0.575" stop-color="#2c8ef1"/><stop offset="0.6" stop-color="#2994ed"/><stop offset="0.625" stop-color="#23a0e5"/><stop offset="0.65" stop-color="#1ca9e0"/><stop offset="0.675" stop-color="#23a0e5"/><stop offset="0.7" stop-color="#2b91ef"/><stop offset="0.725" stop-color="#2a92ee"/><stop offset="0.75" stop-color="#249ee6"/><stop offset="0.775" stop-color="#20a4e3"/><stop offset="0.8" stop-color="#22a1e4"/><stop offset="0.825" stop-color="#2699e9"/><stop offset="0.85" stop-color="#2798ea"/><stop offset="0.875" stop-color="#259ce7"/><stop offset="0.9" stop-color="#2699e9"/><stop offset="0.925" stop-color="#2698ea"/><stop offset="0.95" stop-color="#2699e9"/><stop offset="0.975" stop-color="#2a93ed"/><stop offset="1" stop-color="#2e85f8"/></linearGradient>
<linearGradient id="g52" x1="0" y1="0" x2="0" y2="1"><stop offset="0" stop-color="#2a93ed"/><stop offset="0.025" stop-color="#2994ed"/><stop offset="0.05" stop-color="#2b91ef"/><stop offset="0.075" stop-color="#2d88f6"/><stop offset="0.1" stop-color="#317efb"/><stop offset="0.125" stop-color="#327bfc"/><stop offset="0.15" stop-color="#2e85f8"/><stop offset="0.175" stop-color="#2699e9"/><stop offset="0.2" stop-color="#20a5e2"/><stop offset="0.225" stop-color="#1ea7e1"/><stop offset="0.25" stop-color="#1fa6e1"/><stop offset="0.275" stop-color="#20a5e3"/><stop offset="0.3" stop-color="#1ca9df"/><stop offset="0.325" stop-color="#15afd9"/><stop offset="0.35" stop-color="#0db3d3"/><stop offset="0.375" stop-color="#16afd9"/><stop offset="0.4" stop-color="#1ca9df"/><stop offset="0.425" stop-color="#1ea7e1"/><stop offset="0.45" stop-color="#22a2e4"/><stop offset="0.475" stop-color="#259ce7"/><stop offset="0.5" stop-color="#2797ea"/><stop offset="0.525" stop-color="#2b91ef"/><stop offset="0.55" stop-color="#2b91ef"/><stop offset="0.575" stop-color="#2994ed"/><stop offset="0.6" stop-color="#2895ec"/><stop offset="0.625" stop-color="#2994ed"/><stop offset="0.65" stop-color="#2896ec"/><stop offset="0.675" stop-color="#2a92ee"/><stop offset="0.7" stop-color="#2d8cf3"/><stop offset="0.725" stop-color="#2d8af4"/><stop offset="0.75" stop-color="#2c8ff0"/><stop offset="0.775" stop-color="#2796eb"/><stop offset="0.8" stop-color="#259be7"/><stop offset="0.825" stop-color="#249ee6"/><stop offset="0.85" stop-color="#21a2e4"/><stop offset="0.875" stop-color="#1fa6e2"/><stop offset="0.9" stop-color="#22a1e4"/><stop offset="0.925" stop-color="#259de7"/><stop offset="0.95" stop-color="#2796eb"/><stop offset="0.975" stop-color="#2d8cf3"/><stop offset="1" stop-color="#2f81fa"/></linearGradient>
<linearGradient id="g53" x1="0" y1="0" x2="0" y2="1"><stop offset="0" stop-color="#3974fe"/><stop offset="0.025" stop-color="#317dfb"/><stop offset="0.05" stop-color="#2f82fa"/><stop offset="0.075" stop-color="#2f82f9"/><stop offset="0.1" stop-color="#2f82fa"/><stop offset="0.125" stop-color="#2e84f8"/><stop offset="0.15" stop-color="#2d8cf3"/><stop offset="0.175" stop-color="#259be8"/><stop offset="0.2" stop-color="#249fe5"/><stop offset="0.225" stop-color="#21a3e3"/><stop offset="0.25" stop-color="#12b1d6"/><stop offset="0.275" stop-color="#1ac0b4"/><stop offset="0.3" stop-color="#43ca8a"/><stop offset="0.325" stop-color="#4ccb83"/><stop offset="0.35" stop-color="#46cb88"/><stop offset="0.375" stop-color="#42ca8b"/><stop offset="0.4" stop-color="#46cb88"/><stop offset="0.425" stop-color="#48cb86"/><stop offset="0.45" stop-color="#1fc0b2"/><stop offset="0.475" stop-color="#16afd9"/><stop offset="0.5" stop-color="#259ce7"/><stop offset="0.525" stop-color="#2b92ee"/><stop offset="0.55" stop-color="#2797eb"/><stop offset="0.575" stop-color="#259ce7"/><stop offset="0.6" stop-color="#23a1e4"/><stop offset="0.625" stop-color="#1fa6e2"/><stop offset="0.65" stop-color="#1ca9df"/><stop offset="0.675" stop-color="#20a4e3"/><stop offset="0.7" stop-color="#2798ea"/><stop offset="0.725" stop-color="#2d8df2"/><stop offset="0.75" stop-color="#2d8bf4"/><stop offset="0.775" stop-color="#2d8df2"/><stop offset="0.8" stop-color="#2b91ef"/><stop offset="0.825" stop-color="#2994ed"/><stop offset="0.85" stop-color="#21a3e3"/><stop offset="0.875" stop-color="#09b4d1"/><stop offset="0.9" stop-color="#06b5cf"/><stop offset="0.925" stop-color="#13b0d8"/><stop offset="0.95" stop-color="#1baade"/><stop offset="0.975" stop-color="#21a3e3"/><stop offset="1" stop-color="#259de7"/></linearGradient>
<linearGradient id="g54" x1="0" y1="0" x2="0" y2="1"><stop offset="0" stop-color="#2896eb"/><stop offset="0.025" stop-color="#2d8af4"/><stop offset="0.05" stop-color="#2f81fa"/><stop offset="0.075" stop-color="#2e84f9"/><stop offset="0.1" stop-color="#2c8ef2"/><stop offset="0.125" stop-color="#2896eb"/><stop offset="0.15" stop-color="#259be8"/><stop offset="0.175" stop-color="#1ea6e1"/><stop offset="0.2" stop-color="#10b2d5"/><stop offset="0.225" stop-color="#02bac4"/><stop offset="0.25" stop-color="#20c1b1"/><stop offset="0.275" stop-color="#34c79b"/><stop offset="0.3" stop-color="#5bcc76"/><stop offset="0.325" stop-color="#6bcd69"/><stop offset="0.35" stop-color="#6bcd69"/><stop offset="0.375" stop-color="#5ccc76"/><stop offset="0.4" stop-color="#57cc7a"/><stop offset="0.425" stop-color="#61cd71"/><stop offset="0.45" stop-color="#3eca8f"/><stop offset="0.475" stop-color="#25c2ae"/><stop offset="0.5" stop-color="#01b8c8"/><stop offset="0.525" stop-color="#1aacdd"/><stop offset="0.55" stop-color="#20a5e2"/><stop offset="0.575" stop-color="#23a0e5"/><stop offset="0.6" stop-color="#249fe6"/><stop offset="0.625" stop-color="#259be8"/><stop offset="0.65" stop-color="#2797eb"/><stop offset="0.675" stop-color="#2699e9"/><stop offset="0.7" stop-color="#22a1e4"/><stop offset="0.725" stop-color="#20a4e3"/><stop offset="0.75" stop-color="#23a0e5"/><stop offset="0.775" stop-color="#249fe5"/><stop offset="0.8" stop-color="#20a5e2"/><stop offset="0.825" stop-color="#19acdc"/><stop offset="0.85" stop-color="#0cb3d3"/><stop offset="0.875" stop-color="#02b7cb"/><stop offset="0.9" stop-color="#05b6ce"/><stop offset="0.925" stop-color="#0ab4d1"/><stop offset="0.95" stop-color="#09b4d1"/><stop offset="0.975" stop-color="#06b5cf"/><stop offset="1" stop-color="#09b4d1"/></linearGradient>
<linearGradient id="g55" x1="0" y1="0" x2="0" y2="1"><stop offset="0" stop-color="#39c895"/><stop offset="0.025" stop-color="#3dc991"/><stop offset="0.05" stop-color="#3dc990"/><stop offset="0.075" stop-color="#39c895"/><stop offset="0.1" stop-color="#32c69f"/><stop offset="0.125" stop-color="#28c3ab"/><stop offset="0.15" stop-color="#28c3ab"/><stop offset="0.175" stop-color="#3eca8f"/><stop offset="0.2" stop-color="#68cd6b"/><stop offset="0.225" stop-color="#8acb52"/><stop offset="0.25" stop-color="#a6c83d"/><stop offset="0.275" stop-color="#c8c129"/><stop offset="0.3" stop-color="#e5bb2d"/><stop offset="0.325" stop-color="#ddbd29"/><stop offset="0.35" stop-color="#d1bf27"/><stop offset="0.375" stop-color="#d2bf27"/><stop offset="0.4" stop-color="#dfbc2a"/><stop offset="0.425" stop-color="#edba33"/><stop offset="0.45" stop-color="#ebba31"/><stop offset="0.475" stop-color="#e6bb2d"/><stop offset="0.5" stop-color="#d9be28"/><stop offset="0.525" stop-color="#bcc42f"/><stop offset="0.55" stop-color="#a7c73c"/><stop offset="0.575" stop-color="#abc739"/><stop offset="0.6" stop-color="#b5c533"/><stop offset="0.625" stop-color="#acc738"/><stop offset="0.65" stop-color="#8fcb4e"/><stop offset="0.675" stop-color="#56cc7b"/><stop offset="0.7" stop-color="#37c897"/><stop offset="0.725" stop-color="#43ca8a"/><stop offset="0.75" stop-color="#72cd64"/><stop offset="0.775" stop-color="#9ec942"/><stop offset="0.8" stop-color="#b4c534"/><stop offset="0.825" stop-color="#bcc42f"/><stop offset="0.85" stop-color="#c9c129"/><stop offset="0.875" stop-color="#dbbd29"/><stop offset="0.9" stop-color="#dabd28"/><stop offset="0.925" stop-color="#dabd28"/><stop offset="0.95" stop-color="#e8bb2f"/><stop offset="0.975" stop-color="#fabb3d"/><stop offset="1" stop-color="#fec338"/></linearGradient>
<linearGradient id="g56" x1="0" y1="0" x2="0" y2="1"><stop offset="0" stop-color="#30c5a1"/><stop offset="0.025" stop-color="#2cc4a7"/><stop offset="0.05" stop-color="#24c1ae"/><stop offset="0.075" stop-color="#27c2ab"/><stop offset="0.1" stop-color="#33c79d"/><stop offset="0.125" stop-color="#38c896"/><stop offset="0.15" stop-color="#37c897"/><stop offset="0.175" stop-color="#48cb86"/><stop offset="0.2" stop-color="#59cc78"/><stop offset="0.225" stop-color="#70cd65"/><stop offset="0.25" stop-color="#aac73a"/><stop offset="0.275" stop-color="#ddbd29"/><stop offset="0.3" stop-color="#eeba34"/><stop offset="0.325" stop-color="#e2bc2c"/><stop offset="0.35" stop-color="#e1bc2b"/><stop offset="0.375" stop-color="#e1bc2b"/><stop offset="0.4" stop-color="#e3bb2c"/><stop offset="0.425" stop-color="#ebba31"/><stop offset="0.45" stop-color="#e2bc2b"/><stop offset="0.475" stop-color="#c2c22c"/><stop offset="0.5" stop-color="#a0c841"/><stop offset="0.525" stop-color="#9dc943"/><stop offset="0.55" stop-color="#b3c534"/><stop offset="0.575" stop-color="#bec32e"/><stop offset="0.6" stop-color="#bdc32f"/><stop offset="0.625" stop-color="#bfc32d"/><stop offset="0.65" stop-color="#c0c32d"/><stop offset="0.675" stop-color="#9bc944"/><stop offset="0.7" stop-color="#68cd6b"/><stop offset="0.725" stop-color="#5fcd73"/><stop offset="0.75" stop-color="#66cd6d"/><stop offset="0.775" stop-color="#74cc62"/><stop offset="0.8" stop-color="#93ca4b"/><stop offset="0.825" stop-color="#c0c32d"/><stop offset="0.85" stop-color="#ebba31"/><stop offset="0.875" stop-color="#fec437"/><stop offset="0.9" stop-color="#fdcb33"/><stop offset="0.925" stop-color="#fec736"/><stop offset="0.95" stop-color="#fdbd3d"/><stop offset="0.975" stop-color="#ebba31"/><stop offset="1" stop-color="#ccc028"/></linearGradient>
<linearGradient id="g57" x1="0" y1="0" x2="0" y2="1"><stop offset="0" stop-color="#7fcc5a"/><stop offset="0.025" stop-color="#48cb86"/><stop offset="0.05" stop-color="#33c69d"/><stop offset="0.075" stop-color="#33c69e"/><stop offset="0.1" stop-color="#3bc993"/><stop offset="0.125" stop-color="#4acb84"/><stop offset="0.15" stop-color="#5dcc74"/><stop offset="0.175" stop-color="#7acc5d"/><stop offset="0.2" stop-color="#8bcb51"/><stop offset="0.225" stop-color="#a0c840"/><stop offset="0.25" stop-color="#bcc42f"/><stop offset="0.275" stop-color="#d2bf27"/><stop offset="0.3" stop-color="#dfbc2a"/><stop offset="0.325" stop-color="#dbbd29"/><stop offset="0.35" stop-color="#edba33"/><stop offset="0.375" stop-color="#fec13a"/><stop offset="0.4" stop-color="#fec835"/><stop offset="0.425" stop-color="#fec03a"/><stop offset="0.45" stop-color="#efba35"/><stop offset="0.475" stop-color="#e1bc2b"/><stop offset="0.5" stop-color="#d8be28"/><stop offset="0.525" stop-color="#ccc028"/><stop offset="0.55" stop-color="#cac129"/><stop offset="0.575" stop-color="#d0bf27"/><stop offset="0.6" stop-color="#debc2a"/><stop offset="0.625" stop-color="#eeba34"/><stop offset="0.65" stop-color="#efba35"/><stop offset="0.675" stop-color="#c8c129"/><stop offset="0.7" stop-color="#8ecb4f"/><stop offset="0.725" stop-color="#7acc5e"/><stop offset="0.75" stop-color="#8ccb50"/><stop offset="0.775" stop-color="#b5c533"/><stop offset="0.8" stop-color="#d4bf28"/><stop offset="0.825" stop-color="#e0bc2b"/><stop offset="0.85" stop-color="#e8bb2f"/><stop offset="0.875" stop-color="#f4ba3a"/><stop offset="0.9" stop-color="#fabb3d"/><stop offset="0.925" stop-color="#fdbd3d"/><stop offset="0.95" stop-color="#fec03b"/><stop offset="0.975" stop-color="#fec438"/><stop offset="1" stop-color="#fec636"/></linearGradient>
<linearGradient id="g58" x1="0" y1="0" x2="0" y2="1"><stop offset="0" stop-color="#2cc4a7"/><stop offset="0.025" stop-color="#1dc0b3"/><stop offset="0.05" stop-color="#06bcc0"/><stop offset="0.075" stop-color="#01b9c7"/><stop offset="0.1" stop-color="#02bac5"/><stop offset="0.125" stop-color="#06bcc0"/><stop offset="0.15" stop-color="#0cbdbc"/><stop offset="0.175" stop-color="#2ac3a9"/><stop offset="0.2" stop-color="#47cb87"/><stop offset="0.225" stop-color="#85cb55"/><stop offset="0.25" stop-color="#b9c431"/><stop offset="0.275" stop-color="#cac129"/><stop offset="0.3" stop-color="#cdc028"/><stop offset="0.325" stop-color="#c9c129"/><stop offset="0.35" stop-color="#d6be28"/><stop offset="0.375" stop-color="#e0bc2b"/><stop offset="0.4" stop-color="#e9bb30"/><stop offset="0.425" stop-color="#f3ba38"/><stop offset="0.45" stop-color="#edba33"/><stop offset="0.475" stop-color="#d6be28"/><stop offset="0.5" stop-color="#b1c635"/><stop offset="0.525" stop-color="#8ecb4e"/><stop offset="0.55" stop-color="#93ca4b"/><stop offset="0.575" stop-color="#acc739"/><stop offset="0.6" stop-color="#adc638"/><stop offset="0.625" stop-color="#a2c83f"/><stop offset="0.65" stop-color="#aac73a"/><stop offset="0.675" stop-color="#96ca48"/><stop offset="0.7" stop-color="#67cd6c"/><stop offset="0.725" stop-color="#5fcd73"/><stop offset="0.75" stop-color="#72cd63"/><stop offset="0.775" stop-color="#85cb55"/><stop offset="0.8" stop-color="#95ca49"/><stop offset="0.825" stop-color="#b1c635"/><stop offset="0.85" stop-color="#d4bf28"/><stop offset="0.875" stop-color="#e6bb2d"/><stop offset="0.9" stop-color="#dbbd29"/><stop offset="0.925" stop-color="#cfc028"/><stop offset="0.95" stop-color="#c7c12a"/><stop offset="0.975" stop-color="#bdc32e"/><stop offset="1" stop-color="#b4c534"/></linearGradient>
<linearGradient id="g59" x1="0" y1="0" x2="0" y2="1"><stop offset="0" stop-color="#2895ec"/><stop offset="0.025" stop-color="#2895ec"/><stop offset="0.05" stop-color="#2797eb"/><stop offset="0.075" stop-color="#2a92ee"/><stop offset="0.1" stop-color="#2d8cf3"/><stop offset="0.125" stop-color="#2d8df2"/><stop offset="0.15" stop-color="#2b92ef"/><stop offset="0.175" stop-color="#2699e9"/><stop offset="0.2" stop-color="#23a1e4"/><stop offset="0.225" stop-color="#1caadf"/><stop offset="0.25" stop-color="#12b1d7"/><stop offset="0.275" stop-color="#06b5cf"/><stop offset="0.3" stop-color="#03bbc3"/><stop offset="0.325" stop-color="#03bbc2"/><stop offset="0.35" stop-color="#04b6cd"/><stop offset="0.375" stop-color="#15afd8"/><stop offset="0.4" stop-color="#19addc"/><stop offset="0.425" stop-color="#19addc"/><stop offset="0.45" stop-color="#14b0d8"/><stop offset="0.475" stop-color="#05b6ce"/><stop offset="0.5" stop-color="#08bcbf"/><stop offset="0.525" stop-color="#21c1b0"/><stop offset="0.55" stop-color="#2ec4a5"/><stop offset="0.575" stop-color="#2fc5a2"/><stop offset="0.6" stop-color="#29c3aa"/><stop offset="0.625" stop-color="#1fc0b2"/><stop offset="0.65" stop-color="#16bfb7"/><stop offset="0.675" stop-color="#02bbc3"/><stop offset="0.7" stop-color="#08b5d0"/><stop offset="0.725" stop-color="#06b5cf"/><stop offset="0.75" stop-color="#02bbc3"/><stop offset="0.775" stop-color="#0fbebb"/><stop offset="0.8" stop-color="#0cbdbc"/><stop offset="0.825" stop-color="#04bbc1"/><stop offset="0.85" stop-color="#06bcc0"/><stop offset="0.875" stop-color="#12beb9"/><stop offset="0.9" stop-color="#02bbc3"/><stop offset="0.925" stop-color="#12b1d6"/><stop offset="0.95" stop-color="#1caadf"/><stop offset="0.975" stop-color="#19addc"/><stop offset="1" stop-color="#08b4d0"/></linearGradient>
<linearGradient id="g60" x1="0" y1="0" x2="0" y2="1"><stop offset="0" stop-color="#317dfc"/><stop offset="0.025" stop-color="#2e85f8"/><stop offset="0.05" stop-color="#2d8df2"/><stop offset="0.075" stop-color="#2895ec"/><stop offset="0.1" stop-color="#269ae8"/><stop offset="0.125" stop-color="#2797ea"/><stop offset="0.15" stop-color="#2c90f0"/><stop offset="0.175" stop-color="#2d8cf3"/><stop offset="0.2" stop-color="#2e86f8"/><stop offset="0.225" stop-color="#2f82fa"/><stop offset="0.25" stop-color="#2d8af5"/><stop offset="0.275" stop-color="#2798ea"/><stop offset="0.3" stop-color="#22a2e4"/><stop offset="0.325" stop-color="#1da8e0"/><stop offset="0.35" stop-color="#11b1d6"/><stop offset="0.375" stop-color="#09b4d1"/><stop offset="0.4" stop-color="#19addc"/><stop offset="0.425" stop-color="#22a2e4"/><stop offset="0.45" stop-color="#22a1e4"/><stop offset="0.475" stop-color="#1da9e0"/><stop offset="0.5" stop-color="#16afd9"/><stop offset="0.525" stop-color="#0fb2d4"/><stop offset="0.55" stop-color="#11b1d6"/><stop offset="0.575" stop-color="#18addb"/><stop offset="0.6" stop-color="#1da8e0"/><stop offset="0.625" stop-color="#22a2e4"/><stop offset="0.65" stop-color="#249de6"/><stop offset="0.675" stop-color="#2797eb"/><stop offset="0.7" stop-color="#2b92ee"/><stop offset="0.725" stop-color="#2a93ee"/><stop offset="0.75" stop-color="#2994ed"/><stop offset="0.775" stop-color="#2798ea"/><stop offset="0.8" stop-color="#259be7"/><stop offset="0.825" stop-color="#259ce7"/><stop offset="0.85" stop-color="#259de7"/><stop offset="0.875" stop-color="#22a1e4"/><stop offset="0.9" stop-color="#23a1e5"/><stop offset="0.925" stop-color="#249fe5"/><stop offset="0.95" stop-color="#249fe6"/><stop offset="0.975" stop-color="#23a0e5"/><stop offset="1" stop-color="#23a1e4"/></linearGradient>
<linearGradient id="g61" x1="0" y1="0" x2="0" y2="1"><stop offset="0" stop-color="#2699e9"/><stop offset="0.025" stop-color="#259ce7"/><stop offset="0.05" stop-color="#23a0e5"/><stop offset="0.075" stop-color="#22a2e4"/><stop offset="0.1" stop-color="#23a0e5"/><stop offset="0.125" stop-color="#23a0e5"/><stop offset="0.15" stop-color="#23a0e5"/><stop offset="0.175" stop-color="#249ee6"/><stop offset="0.2" stop-color="#2699e9"/><stop offset="0.225" stop-color="#2699ea"/><stop offset="0.25" stop-color="#249ee6"/><stop offset="0.275" stop-color="#1fa6e1"/><stop offset="0.3" stop-color="#14b0d8"/><stop offset="0.325" stop-color="#07b5cf"/><stop offset="0.35" stop-color="#01b9c6"/><stop offset="0.375" stop-color="#05bbc1"/><stop offset="0.4" stop-color="#02bac4"/><stop offset="0.425" stop-color="#01b9c7"/><stop offset="0.45" stop-color="#01b8c8"/><stop offset="0.475" stop-color="#06b5cf"/><stop offset="0.5" stop-color="#12b1d7"/><stop offset="0.525" stop-color="#13b1d7"/><stop offset="0.55" stop-color="#0cb3d2"/><stop offset="0.575" stop-color="#04b6cc"/><stop offset="0.6" stop-color="#01bac5"/><stop offset="0.625" stop-color="#02bac4"/><stop offset="0.65" stop-color="#04b6cc"/><stop offset="0.675" stop-color="#17aeda"/><stop offset="0.7" stop-color="#1baade"/><stop offset="0.725" stop-color="#14b0d8"/><stop offset="0.75" stop-color="#09b4d1"/><stop offset="0.775" stop-color="#0bb3d2"/><stop offset="0.8" stop-color="#0ab4d2"/><stop offset="0.825" stop-color="#01b8ca"/><stop offset="0.85" stop-color="#02bac3"/><stop offset="0.875" stop-color="#01b9c6"/><stop offset="0.9" stop-color="#11b1d6"/><stop offset="0.925" stop-color="#1caadf"/><stop offset="0.95" stop-color="#1da9e0"/><stop offset="0.975" stop-color="#15afd9"/><stop offset="1" stop-color="#05b6ce"/></linearGradient>
<linearGradient id="g62" x1="0" y1="0" x2="0" y2="1"><stop offset="0" stop-color="#327cfc"/><stop offset="0.025" stop-color="#2d88f6"/><stop offset="0.05" stop-color="#2b91ef"/><stop offset="0.075" stop-color="#2c8ff0"/><stop offset="0.1" stop-color="#2e83f9"/><stop offset="0.125" stop-color="#3b73fe"/><stop offset="0.15" stop-color="#3f6eff"/><stop offset="0.175" stop-color="#3479fd"/><stop offset="0.2" stop-color="#2e85f8"/><stop offset="0.225" stop-color="#2c90f0"/><stop offset="0.25" stop-color="#269ae8"/><stop offset="0.275" stop-color="#20a4e3"/><stop offset="0.3" stop-color="#1aabdd"/><stop offset="0.325" stop-color="#19acdc"/><stop offset="0.35" stop-color="#1babde"/><stop offset="0.375" stop-color="#1baade"/><stop offset="0.4" stop-color="#1da9e0"/><stop offset="0.425" stop-color="#1ea7e1"/><stop offset="0.45" stop-color="#1babde"/><stop offset="0.475" stop-color="#14b0d8"/><stop offset="0.5" stop-color="#14b0d8"/><stop offset="0.525" stop-color="#17aeda"/><stop offset="0.55" stop-color="#17aeda"/><stop offset="0.575" stop-color="#15afd9"/><stop offset="0.6" stop-color="#18addb"/><stop offset="0.625" stop-color="#1fa6e2"/><stop offset="0.65" stop-color="#23a0e5"/><stop offset="0.675" stop-color="#249fe5"/><stop offset="0.7" stop-color="#249fe5"/><stop offset="0.725" stop-color="#259ce7"/><stop offset="0.75" stop-color="#259ce7"/><stop offset="0.775" stop-color="#1caadf"/><stop offset="0.8" stop-color="#02bac5"/><stop offset="0.825" stop-color="#0dbdbb"/><stop offset="0.85" stop-color="#02b7cb"/><stop offset="0.875" stop-color="#15afd9"/><stop offset="0.9" stop-color="#1ea7e1"/><stop offset="0.925" stop-color="#1fa6e2"/><stop offset="0.95" stop-color="#1fa6e2"/><stop offset="0.975" stop-color="#22a1e4"/><stop offset="1" stop-color="#2798ea"/></linearGradient>
<linearGradient id="g63" x1="0" y1="0" x2="0" y2="1"><stop offset="0" stop-color="#259be8"/><stop offset="0.025" stop-color="#2995ec"/><stop offset="0.05" stop-color="#2994ed"/><stop offset="0.075" stop-color="#269ae9"/><stop offset="0.1" stop-color="#259be8"/><stop offset="0.125" stop-color="#2994ed"/><stop offset="0.15" stop-color="#2a93ed"/><stop offset="0.175" stop-color="#249ee6"/><stop offset="0.2" stop-color="#21a3e4"/><stop offset="0.225" stop-color="#20a4e3"/><stop offset="0.25" stop-color="#1aabdd"/><stop offset="0.275" stop-color="#0db3d3"/><stop offset="0.3" stop-color="#05b6ce"/><stop offset="0.325" stop-color="#0eb3d4"/><stop offset="0.35" stop-color="#15afd9"/><stop offset="0.375" stop-color="#14b0d8"/><stop offset="0.4" stop-color="#0ab4d1"/><stop offset="0.425" stop-color="#0eb2d4"/><stop offset="0.45" stop-color="#1ea7e1"/><stop offset="0.475" stop-color="#259ce7"/><stop offset="0.5" stop-color="#23a0e5"/><stop offset="0.525" stop-color="#18aedb"/><stop offset="0.55" stop-color="#0cb3d3"/><stop offset="0.575" stop-color="#11b1d6"/><stop offset="0.6" stop-color="#19acdc"/><stop offset="0.625" stop-color="#1ea7e1"/><stop offset="0.65" stop-color="#1fa6e2"/><stop offset="0.675" stop-color="#1da8e0"/><stop offset="0.7" stop-color="#1da9e0"/><stop offset="0.725" stop-color="#1ea7e1"/><stop offset="0.75" stop-color="#22a2e4"/><stop offset="0.775" stop-color="#20a4e3"/><stop offset="0.8" stop-color="#17aeda"/><stop offset="0.825" stop-color="#05b6ce"/><stop offset="0.85" stop-color="#03bbc3"/><stop offset="0.875" stop-color="#11beb9"/><stop offset="0.9" stop-color="#02bac5"/><stop offset="0.925" stop-color="#0cb3d3"/><stop offset="0.95" stop-color="#1aabdd"/><stop offset="0.975" stop-color="#20a5e3"/><stop offset="1" stop-color="#22a2e4"/></linearGradient>
<linearGradient id="g64" x1="0" y1="0" x2="0" y2="1"><stop offset="0" stop-color="#2e84f8"/><stop offset="0.025" stop-color="#2e85f8"/><stop offset="0.05" stop-color="#2e85f8"/><stop offset="0.075" stop-color="#2e87f7"/><stop offset="0.1" stop-color="#2d8bf4"/><stop offset="0.125" stop-color="#2b92ef"/><stop offset="0.15" stop-color="#2798ea"/><stop offset="0.175" stop-color="#269be8"/><stop offset="0.2" stop-color="#2896eb"/><stop offset="0.225" stop-color="#2796eb"/><stop offset="0.25" stop-color="#20a4e3"/><stop offset="0.275" stop-color="#09b4d1"/><stop offset="0.3" stop-color="#11beb9"/><stop offset="0.325" stop-color="#15bfb7"/><stop offset="0.35" stop-color="#0fbeba"/><stop offset="0.375" stop-color="#10beba"/><stop offset="0.4" stop-color="#21c1b0"/><stop offset="0.425" stop-color="#2ec4a5"/><stop offset="0.45" stop-color="#2dc4a5"/><stop offset="0.475" stop-color="#19bfb5"/><stop offset="0.5" stop-color="#01b8ca"/><stop offset="0.525" stop-color="#0ab4d2"/><stop offset="0.55" stop-color="#01b9c7"/><stop offset="0.575" stop-color="#1abfb5"/><stop offset="0.6" stop-color="#25c2ad"/><stop offset="0.625" stop-color="#18bfb6"/><stop offset="0.65" stop-color="#01b9c6"/><stop offset="0.675" stop-color="#0fb2d5"/><stop offset="0.7" stop-color="#12b1d6"/><stop offset="0.725" stop-color="#04b6cd"/><stop offset="0.75" stop-color="#02bbc3"/><stop offset="0.775" stop-color="#02bbc3"/><stop offset="0.8" stop-color="#03b7cb"/><stop offset="0.825" stop-color="#05b6cd"/><stop offset="0.85" stop-color="#0cbdbc"/><stop offset="0.875" stop-color="#31c5a1"/><stop offset="0.9" stop-color="#17bfb7"/><stop offset="0.925" stop-color="#0eb3d4"/><stop offset="0.95" stop-color="#21a3e3"/><stop offset="0.975" stop-color="#259ce7"/><stop offset="1" stop-color="#259de7"/></linearGradient>
<linearGradient id="g65" x1="0" y1="0" x2="0" y2="1"><stop offset="0" stop-color="#2797eb"/><stop offset="0.025" stop-color="#2699e9"/><stop offset="0.05" stop-color="#269ae9"/><stop offset="0.075" stop-color="#2699ea"/><stop offset="0.1" stop-color="#2b91ef"/><stop offset="0.125" stop-color="#2d89f5"/><stop offset="0.15" stop-color="#2d8af5"/><stop offset="0.175" stop-color="#2796eb"/><stop offset="0.2" stop-color="#23a0e5"/><stop offset="0.225" stop-color="#1ea7e1"/><stop offset="0.25" stop-color="#17aeda"/><stop offset="0.275" stop-color="#05b6ce"/><stop offset="0.3" stop-color="#13beb8"/><stop offset="0.325" stop-color="#1ac0b4"/><stop offset="0.35" stop-color="#19bfb5"/><stop offset="0.375" stop-color="#12beb9"/><stop offset="0.4" stop-color="#0fbebb"/><stop offset="0.425" stop-color="#0abdbd"/><stop offset="0.45" stop-color="#04bbc2"/><stop offset="0.475" stop-color="#04bbc1"/><stop offset="0.5" stop-color="#0abdbd"/><stop offset="0.525" stop-color="#14beb8"/><stop offset="0.55" stop-color="#1cc0b3"/><stop offset="0.575" stop-color="#16bfb7"/><stop offset="0.6" stop-color="#08bcbf"/><stop offset="0.625" stop-color="#07bcbf"/><stop offset="0.65" stop-color="#08bcbf"/><stop offset="0.675" stop-color="#03b7cc"/><stop offset="0.7" stop-color="#11b1d6"/><stop offset="0.725" stop-color="#13b0d7"/><stop offset="0.75" stop-color="#12b1d6"/><stop offset="0.775" stop-color="#14b0d8"/><stop offset="0.8" stop-color="#19addc"/><stop offset="0.825" stop-color="#1aacdd"/><stop offset="0.85" stop-color="#0ab4d2"/><stop offset="0.875" stop-color="#11beb9"/><stop offset="0.9" stop-color="#01b9c6"/><stop offset="0.925" stop-color="#12b1d6"/><stop offset="0.95" stop-color="#1caadf"/><stop offset="0.975" stop-color="#22a2e4"/><stop offset="1" stop-color="#2995ec"/></linearGradient>
<linearGradient id="g66" x1="0" y1="0" x2="0" y2="1"><stop offset="0" stop-color="#259ce7"/><stop offset="0.025" stop-color="#2d8bf4"/><stop offset="0.05" stop-color="#317dfc"/><stop offset="0.075" stop-color="#347afd"/><stop offset="0.1" stop-color="#327cfc"/><stop offset="0.125" stop-color="#2f82f9"/><stop offset="0.15" stop-color="#2c8ef1"/><stop offset="0.175" stop-color="#249fe6"/><stop offset="0.2" stop-color="#1fa6e2"/><stop offset="0.225" stop-color="#1da8e0"/><stop offset="0.25" stop-color="#19addc"/><stop offset="0.275" stop-color="#06b5cf"/><stop offset="0.3" stop-color="#1cc0b3"/><stop offset="0.325" stop-color="#29c3aa"/><stop offset="0.35" stop-color="#25c2ad"/><stop offset="0.375" stop-color="#0bbdbc"/><stop offset="0.4" stop-color="#01b8c8"/><stop offset="0.425" stop-color="#01b9c8"/><stop offset="0.45" stop-color="#04bbc2"/><stop offset="0.475" stop-color="#0cbdbc"/><stop offset="0.5" stop-color="#14beb8"/><stop offset="0.525" stop-color="#19bfb5"/><stop offset="0.55" stop-color="#13beb8"/><stop offset="0.575" stop-color="#01bac5"/><stop offset="0.6" stop-color="#08b5d0"/><stop offset="0.625" stop-color="#0bb3d2"/><stop offset="0.65" stop-color="#13b0d7"/><stop offset="0.675" stop-color="#22a1e4"/><stop offset="0.7" stop-color="#2895ec"/><stop offset="0.725" stop-color="#2994ed"/><stop offset="0.75" stop-color="#2699e9"/><stop offset="0.775" stop-color="#23a0e5"/><stop offset="0.8" stop-color="#20a4e3"/><stop offset="0.825" stop-color="#20a4e3"/><stop offset="0.85" stop-color="#1babde"/><stop offset="0.875" stop-color="#01b9c7"/><stop offset="0.9" stop-color="#01b9c7"/><stop offset="0.925" stop-color="#09b4d1"/><stop offset="0.95" stop-color="#1fa6e2"/><stop offset="0.975" stop-color="#2994ed"/><stop offset="1" stop-color="#2d88f6"/></linearGradient>
<linearGradient id="g67" x1="0" y1="0" x2="0" y2="1"><stop offset="0" stop-color="#2699e9"/><stop offset="0.025" stop-color="#2c90f0"/><stop offset="0.05" stop-color="#2e87f7"/><stop offset="0.075" stop-color="#2f83f9"/><stop offset="0.1" stop-color="#2e85f8"/><stop offset="0.125" stop-color="#2b92ee"/><stop offset="0.15" stop-color="#249ee6"/><stop offset="0.175" stop-color="#1ea8e1"/><stop offset="0.2" stop-color="#19addc"/><stop offset="0.225" stop-color="#0bb3d2"/><stop offset="0.25" stop-color="#01b9c6"/><stop offset="0.275" stop-color="#0dbdbc"/><stop offset="0.3" stop-color="#29c3aa"/><stop offset="0.325" stop-color="#2bc3a8"/><stop offset="0.35" stop-color="#31c6a0"/><stop offset="0.375" stop-color="#34c79c"/><stop offset="0.4" stop-color="#2ec4a4"/><stop offset="0.425" stop-color="#23c1af"/><stop offset="0.45" stop-color="#11beba"/><stop offset="0.475" stop-color="#02bac5"/><stop offset="0.5" stop-color="#01b8c9"/><stop offset="0.525" stop-color="#02bac4"/><stop offset="0.55" stop-color="#05bbc1"/><stop offset="0.575" stop-color="#01bac5"/><stop offset="0.6" stop-color="#01b9c8"/><stop offset="0.625" stop-color="#02bac4"/><stop offset="0.65" stop-color="#04bbc2"/><stop offset="0.675" stop-color="#06b6ce"/><stop offset="0.7" stop-color="#18aedb"/><stop offset="0.725" stop-color="#1aabdd"/><stop offset="0.75" stop-color="#17aeda"/><stop offset="0.775" stop-color="#16aeda"/><stop offset="0.8" stop-color="#16afd9"/><stop offset="0.825" stop-color="#0eb2d4"/><stop offset="0.85" stop-color="#01bac5"/><stop offset="0.875" stop-color="#17bfb7"/><stop offset="0.9" stop-color="#08b5d0"/><stop offset="0.925" stop-color="#1da8e0"/><stop offset="0.95" stop-color="#249ee6"/><stop offset="0.975" stop-color="#2994ed"/><stop offset="1" stop-color="#2d88f6"/></linearGradient>
<linearGradient id="g68" x1="0" y1="0" x2="0" y2="1"><stop offset="0" stop-color="#2b91ef"/><stop offset="0.025" stop-color="#2d8bf4"/><stop offset="0.05" stop-color="#2e86f7"/><stop offset="0.075" stop-color="#2d8bf4"/><stop offset="0.1" stop-color="#2797eb"/><stop offset="0.125" stop-color="#249de6"/><stop offset="0.15" stop-color="#259be8"/><stop offset="0.175" stop-color="#259be8"/><stop offset="0.2" stop-color="#249de6"/><stop offset="0.225" stop-color="#20a4e3"/><stop offset="0.25" stop-color="#17aeda"/><stop offset="0.275" stop-color="#02b7cb"/><stop offset="0.3" stop-color="#15bfb7"/><stop offset="0.325" stop-color="#0ebebb"/><stop offset="0.35" stop-color="#05bbc1"/><stop offset="0.375" stop-color="#01b9c7"/><stop offset="0.4" stop-color="#01b8ca"/><stop offset="0.425" stop-color="#02b7ca"/><stop offset="0.45" stop-color="#01b8c9"/><stop offset="0.475" stop-color="#06bcc1"/><stop offset="0.5" stop-color="#14bfb8"/><stop offset="0.525" stop-color="#15bfb8"/><stop offset="0.55" stop-color="#0cbdbc"/><stop offset="0.575" stop-color="#03bbc2"/><stop offset="0.6" stop-color="#01b8c9"/><stop offset="0.625" stop-color="#03b7cc"/><stop offset="0.65" stop-color="#02b7cb"/><stop offset="0.675" stop-color="#07b5cf"/><stop offset="0.7" stop-color="#0bb3d2"/><stop offset="0.725" stop-color="#08b4d1"/><stop offset="0.75" stop-color="#04b6cd"/><stop offset="0.775" stop-color="#02b7cb"/><stop offset="0.8" stop-color="#02b7cb"/><stop offset="0.825" stop-color="#0fb2d4"/><stop offset="0.85" stop-color="#18aedb"/><stop offset="0.875" stop-color="#07b5d0"/><stop offset="0.9" stop-color="#17aeda"/><stop offset="0.925" stop-color="#1fa6e2"/><stop offset="0.95" stop-color="#249fe5"/><stop offset="0.975" stop-color="#2797eb"/><stop offset="1" stop-color="#2d8bf3"/></linearGradient>
<clipPath id="clb"><path d="M202,117.4 L226.6,98.9 L229.2,99.6 L229.2,715.6 L202.3,735 Z"/></clipPath>
<clipPath id="crb"><path d="M243.4,98.6 L245.6,98 L273.2,117.6 L273.2,735 L243.4,715 Z"/></clipPath>
<linearGradient id="g69" x1="0" y1="0" x2="0" y2="1"><stop offset="0" stop-color="#fabb3d"/><stop offset="0.0625" stop-color="#e8bb2f"/><stop offset="0.125" stop-color="#c9c129"/><stop offset="0.1875" stop-color="#91ca4d"/><stop offset="0.25" stop-color="#57cc7a"/><stop offset="0.3125" stop-color="#33c69d"/><stop offset="0.375" stop-color="#1ec0b2"/><stop offset="0.4375" stop-color="#02bac4"/><stop offset="0.5" stop-color="#18addb"/><stop offset="0.5625" stop-color="#249de6"/><stop offset="0.625" stop-color="#2d89f6"/><stop offset="0.6875" stop-color="#3875fe"/><stop offset="0.75" stop-color="#4562fc"/><stop offset="0.8125" stop-color="#4850f2"/><stop offset="0.875" stop-color="#473fe2"/><stop offset="0.9375" stop-color="#4434cf"/><stop offset="1" stop-color="#402bb7"/></linearGradient>
<linearGradient id="g70" x1="0" y1="0" x2="0" y2="1"><stop offset="0" stop-color="#fabc3d"/><stop offset="0.0625" stop-color="#e9bb30"/><stop offset="0.125" stop-color="#cbc029"/><stop offset="0.1875" stop-color="#95ca4a"/><stop offset="0.25" stop-color="#5bcc77"/><stop offset="0.3125" stop-color="#35c79a"/><stop offset="0.375" stop-color="#20c1b1"/><stop offset="0.4375" stop-color="#02bbc3"/><stop offset="0.5" stop-color="#17aeda"/><stop offset="0.5625" stop-color="#249ee6"/><stop offset="0.625" stop-color="#2d8af5"/><stop offset="0.6875" stop-color="#3777fe"/><stop offset="0.75" stop-color="#4564fd"/><stop offset="0.8125" stop-color="#4851f3"/><stop offset="0.875" stop-color="#4740e4"/><stop offset="0.9375" stop-color="#4435d0"/><stop offset="1" stop-color="#412cb9"/></linearGradient>
<linearGradient id="g71" x1="0" y1="0" x2="0" y2="1"><stop offset="0" stop-color="#fcbc3d"/><stop offset="0.0625" stop-color="#ecba33"/><stop offset="0.125" stop-color="#d0bf27"/><stop offset="0.1875" stop-color="#9cc943"/><stop offset="0.25" stop-color="#62cd70"/><stop offset="0.3125" stop-color="#38c896"/><stop offset="0.375" stop-color="#25c2ad"/><stop offset="0.4375" stop-color="#06bcc0"/><stop offset="0.5" stop-color="#14b0d8"/><stop offset="0.5625" stop-color="#23a0e5"/><stop offset="0.625" stop-color="#2d8cf3"/><stop offset="0.6875" stop-color="#347afd"/><stop offset="0.75" stop-color="#4367fd"/><stop offset="0.8125" stop-color="#4853f5"/><stop offset="0.875" stop-color="#4742e6"/><stop offset="0.9375" stop-color="#4536d4"/><stop offset="1" stop-color="#412dbc"/></linearGradient>
<linearGradient id="g72" x1="0" y1="0" x2="0" y2="1"><stop offset="0" stop-color="#fdbd3d"/><stop offset="0.0625" stop-color="#efba35"/><stop offset="0.125" stop-color="#d5be28"/><stop offset="0.1875" stop-color="#a4c83e"/><stop offset="0.25" stop-color="#6bcd69"/><stop offset="0.3125" stop-color="#3dc990"/><stop offset="0.375" stop-color="#29c3aa"/><stop offset="0.4375" stop-color="#09bdbe"/><stop offset="0.5" stop-color="#12b1d6"/><stop offset="0.5625" stop-color="#21a3e4"/><stop offset="0.625" stop-color="#2c8ff1"/><stop offset="0.6875" stop-color="#317dfc"/><stop offset="0.75" stop-color="#426afe"/><stop offset="0.8125" stop-color="#4756f6"/><stop offset="0.875" stop-color="#4744e8"/><stop offset="0.9375" stop-color="#4538d7"/><stop offset="1" stop-color="#422fc0"/></linearGradient>
<linearGradient id="g73" x1="0" y1="0" x2="0" y2="1"><stop offset="0" stop-color="#febe3c"/><stop offset="0.0625" stop-color="#f2ba38"/><stop offset="0.125" stop-color="#d9bd28"/><stop offset="0.1875" stop-color="#acc738"/><stop offset="0.25" stop-color="#73cd63"/><stop offset="0.3125" stop-color="#42ca8b"/><stop offset="0.375" stop-color="#2cc4a7"/><stop offset="0.4375" stop-color="#0ebdbb"/><stop offset="0.5" stop-color="#0eb3d4"/><stop offset="0.5625" stop-color="#20a5e2"/><stop offset="0.625" stop-color="#2b91ef"/><stop offset="0.6875" stop-color="#3080fa"/><stop offset="0.75" stop-color="#406dfe"/><stop offset="0.8125" stop-color="#4758f8"/><stop offset="0.875" stop-color="#4746eb"/><stop offset="0.9375" stop-color="#463ada"/><stop offset="1" stop-color="#4230c3"/></linearGradient>
<linearGradient id="g74" x1="0" y1="0" x2="0" y2="1"><stop offset="0" stop-color="#fec03b"/><stop offset="0.0625" stop-color="#f4ba3a"/><stop offset="0.125" stop-color="#debd29"/><stop offset="0.1875" stop-color="#b4c534"/><stop offset="0.25" stop-color="#7ccc5c"/><stop offset="0.3125" stop-color="#49cb85"/><stop offset="0.375" stop-color="#2fc5a3"/><stop offset="0.4375" stop-color="#13beb8"/><stop offset="0.5" stop-color="#0ab4d1"/><stop offset="0.5625" stop-color="#1ea7e1"/><stop offset="0.625" stop-color="#2994ed"/><stop offset="0.6875" stop-color="#2e83f9"/><stop offset="0.75" stop-color="#3d70ff"/><stop offset="0.8125" stop-color="#475bf9"/><stop offset="0.875" stop-color="#4849ed"/><stop offset="0.9375" stop-color="#463bdd"/><stop offset="1" stop-color="#4331c7"/></linearGradient>
<linearGradient id="g75" x1="0" y1="0" x2="0" y2="1"><stop offset="0" stop-color="#fec13a"/><stop offset="0.0625" stop-color="#f7ba3c"/><stop offset="0.125" stop-color="#e2bc2b"/><stop offset="0.1875" stop-color="#bbc430"/><stop offset="0.25" stop-color="#85cb56"/><stop offset="0.3125" stop-color="#50cc80"/><stop offset="0.375" stop-color="#31c6a0"/><stop offset="0.4375" stop-color="#18bfb6"/><stop offset="0.5" stop-color="#06b5cf"/><stop offset="0.5625" stop-color="#1da9e0"/><stop offset="0.625" stop-color="#2896eb"/><stop offset="0.6875" stop-color="#2e86f8"/><stop offset="0.75" stop-color="#3a73fe"/><stop offset="0.8125" stop-color="#465dfa"/><stop offset="0.875" stop-color="#484bee"/><stop offset="0.9375" stop-color="#463de0"/><stop offset="1" stop-color="#4332ca"/></linearGradient>
<linearGradient id="g76" x1="0" y1="0" x2="0" y2="1"><stop offset="0" stop-color="#fec239"/><stop offset="0.0625" stop-color="#f9bb3d"/><stop offset="0.125" stop-color="#e6bb2d"/><stop offset="0.1875" stop-color="#c2c22c"/><stop offset="0.25" stop-color="#8ecb4f"/><stop offset="0.3125" stop-color="#57cc7a"/><stop offset="0.375" stop-color="#34c79c"/><stop offset="0.4375" stop-color="#1dc0b3"/><stop offset="0.5" stop-color="#04b6cc"/><stop offset="0.5625" stop-color="#1babde"/><stop offset="0.625" stop-color="#2798ea"/><stop offset="0.6875" stop-color="#2d88f6"/><stop offset="0.75" stop-color="#3776fe"/><stop offset="0.8125" stop-color="#4660fb"/><stop offset="0.875" stop-color="#484df0"/><stop offset="0.9375" stop-color="#473fe2"/><stop offset="1" stop-color="#4434ce"/></linearGradient>
<linearGradient id="g77" x1="0" y1="0" x2="0" y2="1"><stop offset="0" stop-color="#fec438"/><stop offset="0.0625" stop-color="#fbbc3d"/><stop offset="0.125" stop-color="#eabb30"/><stop offset="0.1875" stop-color="#c9c129"/><stop offset="0.25" stop-color="#96ca48"/><stop offset="0.3125" stop-color="#5ecd74"/><stop offset="0.375" stop-color="#36c898"/><stop offset="0.4375" stop-color="#21c1b0"/><stop offset="0.5" stop-color="#01b8ca"/><stop offset="0.5625" stop-color="#19addc"/><stop offset="0.625" stop-color="#269ae8"/><stop offset="0.6875" stop-color="#2d8bf4"/><stop offset="0.75" stop-color="#347afd"/><stop offset="0.8125" stop-color="#4562fc"/><stop offset="0.875" stop-color="#484ff2"/><stop offset="0.9375" stop-color="#4741e5"/><stop offset="1" stop-color="#4435d1"/></linearGradient>
<linearGradient id="g78" x1="0" y1="0" x2="0" y2="1"><stop offset="0" stop-color="#fec834"/><stop offset="0.0625" stop-color="#febf3c"/><stop offset="0.125" stop-color="#efba35"/><stop offset="0.1875" stop-color="#d0bf27"/><stop offset="0.25" stop-color="#a1c840"/><stop offset="0.3125" stop-color="#69cd6b"/><stop offset="0.375" stop-color="#3bc992"/><stop offset="0.4375" stop-color="#26c2ad"/><stop offset="0.5" stop-color="#01b9c7"/><stop offset="0.5625" stop-color="#15afd9"/><stop offset="0.625" stop-color="#249ee6"/><stop offset="0.6875" stop-color="#2c8ff1"/><stop offset="0.75" stop-color="#317efb"/><stop offset="0.8125" stop-color="#4466fd"/><stop offset="0.875" stop-color="#4852f4"/><stop offset="0.9375" stop-color="#4744e8"/><stop offset="1" stop-color="#4537d6"/></linearGradient>
<linearGradient id="g79" x1="0" y1="0" x2="0" y2="1"><stop offset="0" stop-color="#fbd22f"/><stop offset="0.0625" stop-color="#fec537"/><stop offset="0.125" stop-color="#f6ba3b"/><stop offset="0.1875" stop-color="#d9be28"/><stop offset="0.25" stop-color="#aec637"/><stop offset="0.3125" stop-color="#78cc5f"/><stop offset="0.375" stop-color="#45cb88"/><stop offset="0.4375" stop-color="#2bc3a8"/><stop offset="0.5" stop-color="#02bbc3"/><stop offset="0.5625" stop-color="#10b2d5"/><stop offset="0.625" stop-color="#22a2e4"/><stop offset="0.6875" stop-color="#2994ed"/><stop offset="0.75" stop-color="#2e84f9"/><stop offset="0.8125" stop-color="#416bfe"/><stop offset="0.875" stop-color="#4757f7"/><stop offset="0.9375" stop-color="#4848ec"/><stop offset="1" stop-color="#463bdc"/></linearGradient>
<linearGradient id="g80" x1="0" y1="0" x2="0" y2="1"><stop offset="0" stop-color="#f7dd2a"/><stop offset="0.0625" stop-color="#fdcd32"/><stop offset="0.125" stop-color="#fcbc3d"/><stop offset="0.1875" stop-color="#e1bc2b"/><stop offset="0.25" stop-color="#bac430"/><stop offset="0.3125" stop-color="#89cb53"/><stop offset="0.375" stop-color="#52cc7e"/><stop offset="0.4375" stop-color="#2fc5a3"/><stop offset="0.5" stop-color="#08bcbf"/><stop offset="0.5625" stop-color="#09b4d1"/><stop offset="0.625" stop-color="#1ea7e1"/><stop offset="0.6875" stop-color="#2699e9"/><stop offset="0.75" stop-color="#2d89f5"/><stop offset="0.8125" stop-color="#3d71ff"/><stop offset="0.875" stop-color="#475bf9"/><stop offset="0.9375" stop-color="#484cf0"/><stop offset="1" stop-color="#473ee1"/></linearGradient>
<linearGradient id="g81" x1="0" y1="0" x2="0" y2="1"><stop offset="0" stop-color="#f5e725"/><stop offset="0.0625" stop-color="#fad42e"/><stop offset="0.125" stop-color="#fec03a"/><stop offset="0.1875" stop-color="#e9bb2f"/><stop offset="0.25" stop-color="#c6c22a"/><stop offset="0.3125" stop-color="#98c947"/><stop offset="0.375" stop-color="#60cd72"/><stop offset="0.4375" stop-color="#33c69d"/><stop offset="0.5" stop-color="#0fbebb"/><stop offset="0.5625" stop-color="#04b6cc"/><stop offset="0.625" stop-color="#1babde"/><stop offset="0.6875" stop-color="#249ee6"/><stop offset="0.75" stop-color="#2c8ef1"/><stop offset="0.8125" stop-color="#3876fe"/><stop offset="0.875" stop-color="#4660fb"/><stop offset="0.9375" stop-color="#4851f3"/><stop offset="1" stop-color="#4742e6"/></linearGradient>
<linearGradient id="g82" x1="0" y1="0" x2="0" y2="1"><stop offset="0" stop-color="#f6f11e"/><stop offset="0.0625" stop-color="#f7dc2a"/><stop offset="0.125" stop-color="#fec537"/><stop offset="0.1875" stop-color="#f0ba36"/><stop offset="0.25" stop-color="#d1bf27"/><stop offset="0.3125" stop-color="#a7c73c"/><stop offset="0.375" stop-color="#6ecd66"/><stop offset="0.4375" stop-color="#37c898"/><stop offset="0.5" stop-color="#17bfb7"/><stop offset="0.5625" stop-color="#01b9c8"/><stop offset="0.625" stop-color="#16afd9"/><stop offset="0.6875" stop-color="#21a3e3"/><stop offset="0.75" stop-color="#2a93ed"/><stop offset="0.8125" stop-color="#327cfc"/><stop offset="0.875" stop-color="#4464fd"/><stop offset="0.9375" stop-color="#4755f6"/><stop offset="1" stop-color="#4746ea"/></linearGradient>
<linearGradient id="g83" x1="0" y1="0" x2="0" y2="1"><stop offset="0" stop-color="#f9fb15"/><stop offset="0.0625" stop-color="#f5e327"/><stop offset="0.125" stop-color="#feca33"/><stop offset="0.1875" stop-color="#f6ba3b"/><stop offset="0.25" stop-color="#dcbd29"/><stop offset="0.3125" stop-color="#b6c532"/><stop offset="0.375" stop-color="#7ecc5b"/><stop offset="0.4375" stop-color="#3cc992"/><stop offset="0.5" stop-color="#1ec0b2"/><stop offset="0.5625" stop-color="#02bbc3"/><stop offset="0.625" stop-color="#0eb2d4"/><stop offset="0.6875" stop-color="#1da8e0"/><stop offset="0.75" stop-color="#2698ea"/><stop offset="0.8125" stop-color="#2f81fa"/><stop offset="0.875" stop-color="#4269fe"/><stop offset="0.9375" stop-color="#4759f8"/><stop offset="1" stop-color="#484aee"/></linearGradient>
<linearGradient id="g84" x1="0" y1="0" x2="0" y2="1"><stop offset="0" stop-color="#f9fb15"/><stop offset="0.0625" stop-color="#f5e327"/><stop offset="0.125" stop-color="#feca33"/><stop offset="0.1875" stop-color="#f6ba3b"/><stop offset="0.25" stop-color="#dcbd29"/><stop offset="0.3125" stop-color="#b6c532"/><stop offset="0.375" stop-color="#7ecc5b"/><stop offset="0.4375" stop-color="#3cc992"/><stop offset="0.5" stop-color="#1ec0b2"/><stop offset="0.5625" stop-color="#02bbc3"/><stop offset="0.625" stop-color="#0eb2d4"/><stop offset="0.6875" stop-color="#1da8e0"/><stop offset="0.75" stop-color="#2698ea"/><stop offset="0.8125" stop-color="#2f81fa"/><stop offset="0.875" stop-color="#4269fe"/><stop offset="0.9375" stop-color="#4759f8"/><stop offset="1" stop-color="#484aee"/></linearGradient>
<linearGradient id="g85" x1="0" y1="0" x2="0" y2="1"><stop offset="0" stop-color="#96ca48"/><stop offset="0.0625" stop-color="#92ca4b"/><stop offset="0.125" stop-color="#8fcb4e"/><stop offset="0.1875" stop-color="#8bcb51"/><stop offset="0.25" stop-color="#88cb53"/><stop offset="0.3125" stop-color="#84cc56"/><stop offset="0.375" stop-color="#7fcc5a"/><stop offset="0.4375" stop-color="#79cc5e"/><stop offset="0.5" stop-color="#73cd63"/><stop offset="0.5625" stop-color="#6ecd67"/><stop offset="0.625" stop-color="#69cd6b"/><stop offset="0.6875" stop-color="#64cd6f"/><stop offset="0.75" stop-color="#60cd72"/><stop offset="0.8125" stop-color="#5ccc76"/><stop offset="0.875" stop-color="#58cc79"/><stop offset="0.9375" stop-color="#53cc7d"/><stop offset="1" stop-color="#50cc80"/></linearGradient>
<linearGradient id="g86" x1="0" y1="0" x2="0" y2="1"><stop offset="0" stop-color="#8fcb4e"/><stop offset="0.0625" stop-color="#8ccb50"/><stop offset="0.125" stop-color="#88cb53"/><stop offset="0.1875" stop-color="#85cb56"/><stop offset="0.25" stop-color="#81cc58"/><stop offset="0.3125" stop-color="#7ecc5b"/><stop offset="0.375" stop-color="#79cc5f"/><stop offset="0.4375" stop-color="#73cd62"/><stop offset="0.5" stop-color="#6ecd66"/><stop offset="0.5625" stop-color="#69cd6a"/><stop offset="0.625" stop-color="#65cd6e"/><stop offset="0.6875" stop-color="#61cd72"/><stop offset="0.75" stop-color="#5dcc75"/><stop offset="0.8125" stop-color="#59cc79"/><stop offset="0.875" stop-color="#55cc7c"/><stop offset="0.9375" stop-color="#51cc7f"/><stop offset="1" stop-color="#4dcc82"/></linearGradient>
<linearGradient id="g87" x1="0" y1="0" x2="0" y2="1"><stop offset="0" stop-color="#81cc59"/><stop offset="0.0625" stop-color="#7ecc5b"/><stop offset="0.125" stop-color="#7acc5d"/><stop offset="0.1875" stop-color="#77cc60"/><stop offset="0.25" stop-color="#74cc62"/><stop offset="0.3125" stop-color="#71cd64"/><stop offset="0.375" stop-color="#6dcd67"/><stop offset="0.4375" stop-color="#69cd6b"/><stop offset="0.5" stop-color="#65cd6e"/><stop offset="0.5625" stop-color="#61cd71"/><stop offset="0.625" stop-color="#5dcc75"/><stop offset="0.6875" stop-color="#5acc78"/><stop offset="0.75" stop-color="#56cc7b"/><stop offset="0.8125" stop-color="#52cc7e"/><stop offset="0.875" stop-color="#4fcc81"/><stop offset="0.9375" stop-color="#4bcb84"/><stop offset="1" stop-color="#48cb86"/></linearGradient>
<linearGradient id="g88" x1="0" y1="0" x2="0" y2="1"><stop offset="0" stop-color="#72cd63"/><stop offset="0.0625" stop-color="#6fcd65"/><stop offset="0.125" stop-color="#6dcd67"/><stop offset="0.1875" stop-color="#6acd6a"/><stop offset="0.25" stop-color="#68cd6c"/><stop offset="0.3125" stop-color="#65cd6e"/><stop offset="0.375" stop-color="#62cd70"/><stop offset="0.4375" stop-color="#5fcd73"/><stop offset="0.5" stop-color="#5ccc76"/><stop offset="0.5625" stop-color="#59cc78"/><stop offset="0.625" stop-color="#56cc7b"/><stop offset="0.6875" stop-color="#53cc7d"/><stop offset="0.75" stop-color="#4fcc80"/><stop offset="0.8125" stop-color="#4ccb83"/><stop offset="0.875" stop-color="#49cb85"/><stop offset="0.9375" stop-color="#46cb88"/><stop offset="1" stop-color="#43ca8a"/></linearGradient>
<linearGradient id="g89" x1="0" y1="0" x2="0" y2="1"><stop offset="0" stop-color="#64cd6f"/><stop offset="0.0625" stop-color="#62cd70"/><stop offset="0.125" stop-color="#60cd72"/><stop offset="0.1875" stop-color="#5ecd74"/><stop offset="0.25" stop-color="#5ccc75"/><stop offset="0.3125" stop-color="#5acc77"/><stop offset="0.375" stop-color="#58cc79"/><stop offset="0.4375" stop-color="#56cc7b"/><stop offset="0.5" stop-color="#54cc7d"/><stop offset="0.5625" stop-color="#51cc7f"/><stop offset="0.625" stop-color="#4fcc80"/><stop offset="0.6875" stop-color="#4ccb83"/><stop offset="0.75" stop-color="#49cb85"/><stop offset="0.8125" stop-color="#46cb88"/><stop offset="0.875" stop-color="#44cb8a"/><stop offset="0.9375" stop-color="#41ca8c"/><stop offset="1" stop-color="#3fca8e"/></linearGradient>
<linearGradient id="g90" x1="0" y1="0" x2="0" y2="1"><stop offset="0" stop-color="#58cc79"/><stop offset="0.0625" stop-color="#56cc7b"/><stop offset="0.125" stop-color="#54cc7c"/><stop offset="0.1875" stop-color="#53cc7d"/><stop offset="0.25" stop-color="#51cc7f"/><stop offset="0.3125" stop-color="#50cc80"/><stop offset="0.375" stop-color="#4ecc81"/><stop offset="0.4375" stop-color="#4ccb82"/><stop offset="0.5" stop-color="#4bcb84"/><stop offset="0.5625" stop-color="#49cb85"/><stop offset="0.625" stop-color="#48cb86"/><stop offset="0.6875" stop-color="#46cb88"/><stop offset="0.75" stop-color="#43ca8a"/><stop offset="0.8125" stop-color="#41ca8c"/><stop offset="0.875" stop-color="#3fca8e"/><stop offset="0.9375" stop-color="#3dc990"/><stop offset="1" stop-color="#3bc992"/></linearGradient>
<linearGradient id="g91" x1="0" y1="0" x2="0" y2="1"><stop offset="0" stop-color="#55cc7b"/><stop offset="0.0625" stop-color="#54cc7c"/><stop offset="0.125" stop-color="#52cc7e"/><stop offset="0.1875" stop-color="#51cc7f"/><stop offset="0.25" stop-color="#50cc80"/><stop offset="0.3125" stop-color="#4ecc81"/><stop offset="0.375" stop-color="#4ccb82"/><stop offset="0.4375" stop-color="#4bcb84"/><stop offset="0.5" stop-color="#49cb85"/><stop offset="0.5625" stop-color="#48cb87"/><stop offset="0.625" stop-color="#46cb88"/><stop offset="0.6875" stop-color="#44cb8a"/><stop offset="0.75" stop-color="#41ca8c"/><stop offset="0.8125" stop-color="#3fca8e"/><stop offset="0.875" stop-color="#3dc990"/><stop offset="0.9375" stop-color="#3cc992"/><stop offset="1" stop-color="#3ac994"/></linearGradient>
<linearGradient id="g92" x1="0" y1="0" x2="0" y2="1"><stop offset="0" stop-color="#53cc7d"/><stop offset="0.0625" stop-color="#52cc7e"/><stop offset="0.125" stop-color="#50cc7f"/><stop offset="0.1875" stop-color="#4fcc80"/><stop offset="0.25" stop-color="#4ecc81"/><stop offset="0.3125" stop-color="#4dcb82"/><stop offset="0.375" stop-color="#4bcb84"/><stop offset="0.4375" stop-color="#49cb85"/><stop offset="0.5" stop-color="#47cb87"/><stop offset="0.5625" stop-color="#46cb88"/><stop offset="0.625" stop-color="#44cb8a"/><stop offset="0.6875" stop-color="#42ca8c"/><stop offset="0.75" stop-color="#3fca8e"/><stop offset="0.8125" stop-color="#3eca90"/><stop offset="0.875" stop-color="#3cc992"/><stop offset="0.9375" stop-color="#3ac994"/><stop offset="1" stop-color="#39c895"/></linearGradient>
<linearGradient id="g93" x1="0" y1="0" x2="0" y2="1"><stop offset="0" stop-color="#51cc7f"/><stop offset="0.0625" stop-color="#50cc80"/><stop offset="0.125" stop-color="#4ecc81"/><stop offset="0.1875" stop-color="#4dcc82"/><stop offset="0.25" stop-color="#4ccb83"/><stop offset="0.3125" stop-color="#4bcb84"/><stop offset="0.375" stop-color="#49cb85"/><stop offset="0.4375" stop-color="#47cb87"/><stop offset="0.5" stop-color="#46cb88"/><stop offset="0.5625" stop-color="#44cb8a"/><stop offset="0.625" stop-color="#42ca8b"/><stop offset="0.6875" stop-color="#40ca8d"/><stop offset="0.75" stop-color="#3eca8f"/><stop offset="0.8125" stop-color="#3cc991"/><stop offset="0.875" stop-color="#3ac993"/><stop offset="0.9375" stop-color="#39c895"/><stop offset="1" stop-color="#37c897"/></linearGradient>
<linearGradient id="g94" x1="0" y1="0" x2="0" y2="1"><stop offset="0" stop-color="#4ecc81"/><stop offset="0.0625" stop-color="#4dcc82"/><stop offset="0.125" stop-color="#4ccb82"/><stop offset="0.1875" stop-color="#4ccb83"/><stop offset="0.25" stop-color="#4bcb84"/><stop offset="0.3125" stop-color="#4acb85"/><stop offset="0.375" stop-color="#48cb86"/><stop offset="0.4375" stop-color="#46cb88"/><stop offset="0.5" stop-color="#44cb8a"/><stop offset="0.5625" stop-color="#42ca8b"/><stop offset="0.625" stop-color="#40ca8d"/><stop offset="0.6875" stop-color="#3eca8f"/><stop offset="0.75" stop-color="#3cc991"/><stop offset="0.8125" stop-color="#3bc993"/><stop offset="0.875" stop-color="#39c895"/><stop offset="0.9375" stop-color="#37c897"/><stop offset="1" stop-color="#36c899"/></linearGradient>
<linearGradient id="g95" x1="0" y1="0" x2="0" y2="1"><stop offset="0" stop-color="#4ccb83"/><stop offset="0.0625" stop-color="#4bcb83"/><stop offset="0.125" stop-color="#4acb84"/><stop offset="0.1875" stop-color="#4acb85"/><stop offset="0.25" stop-color="#49cb85"/><stop offset="0.3125" stop-color="#48cb86"/><stop offset="0.375" stop-color="#46cb88"/><stop offset="0.4375" stop-color="#44cb89"/><stop offset="0.5" stop-color="#42ca8b"/><stop offset="0.5625" stop-color="#40ca8d"/><stop offset="0.625" stop-color="#3eca8f"/><stop offset="0.6875" stop-color="#3dc991"/><stop offset="0.75" stop-color="#3bc993"/><stop offset="0.8125" stop-color="#39c995"/><stop offset="0.875" stop-color="#38c897"/><stop offset="0.9375" stop-color="#36c898"/><stop offset="1" stop-color="#35c79a"/></linearGradient>
<linearGradient id="g96" x1="0" y1="0" x2="0" y2="1"><stop offset="0" stop-color="#4acb84"/><stop offset="0.0625" stop-color="#49cb85"/><stop offset="0.125" stop-color="#49cb86"/><stop offset="0.1875" stop-color="#48cb86"/><stop offset="0.25" stop-color="#48cb87"/><stop offset="0.3125" stop-color="#47cb87"/><stop offset="0.375" stop-color="#45cb89"/><stop offset="0.4375" stop-color="#43ca8b"/><stop offset="0.5" stop-color="#40ca8d"/><stop offset="0.5625" stop-color="#3eca8f"/><stop offset="0.625" stop-color="#3dc990"/><stop offset="0.6875" stop-color="#3bc992"/><stop offset="0.75" stop-color="#3ac994"/><stop offset="0.8125" stop-color="#38c896"/><stop offset="0.875" stop-color="#36c898"/><stop offset="0.9375" stop-color="#35c79a"/><stop offset="1" stop-color="#34c79c"/></linearGradient>
<linearGradient id="g97" x1="0" y1="0" x2="0" y2="1"><stop offset="0" stop-color="#48cb86"/><stop offset="0.0625" stop-color="#47cb87"/><stop offset="0.125" stop-color="#47cb87"/><stop offset="0.1875" stop-color="#47cb87"/><stop offset="0.25" stop-color="#46cb88"/><stop offset="0.3125" stop-color="#46cb88"/><stop offset="0.375" stop-color="#43ca8a"/><stop offset="0.4375" stop-color="#41ca8c"/><stop offset="0.5" stop-color="#3fca8e"/><stop offset="0.5625" stop-color="#3dc990"/><stop offset="0.625" stop-color="#3bc992"/><stop offset="0.6875" stop-color="#3ac994"/><stop offset="0.75" stop-color="#38c896"/><stop offset="0.8125" stop-color="#37c898"/><stop offset="0.875" stop-color="#35c79a"/><stop offset="0.9375" stop-color="#34c79b"/><stop offset="1" stop-color="#33c69d"/></linearGradient>
<linearGradient id="g98" x1="0" y1="0" x2="0" y2="1"><stop offset="0" stop-color="#46cb88"/><stop offset="0.0625" stop-color="#46cb88"/><stop offset="0.125" stop-color="#45cb89"/><stop offset="0.1875" stop-color="#45cb89"/><stop offset="0.25" stop-color="#45cb89"/><stop offset="0.3125" stop-color="#44cb89"/><stop offset="0.375" stop-color="#42ca8b"/><stop offset="0.4375" stop-color="#3fca8e"/><stop offset="0.5" stop-color="#3eca90"/><stop offset="0.5625" stop-color="#3cc992"/><stop offset="0.625" stop-color="#3ac994"/><stop offset="0.6875" stop-color="#38c896"/><stop offset="0.75" stop-color="#37c897"/><stop offset="0.8125" stop-color="#36c799"/><stop offset="0.875" stop-color="#34c79b"/><stop offset="0.9375" stop-color="#33c69d"/><stop offset="1" stop-color="#32c69f"/></linearGradient>
<linearGradient id="g99" x1="0" y1="0" x2="0" y2="1"><stop offset="0" stop-color="#44cb8a"/><stop offset="0.0625" stop-color="#44cb8a"/><stop offset="0.125" stop-color="#43ca8a"/><stop offset="0.1875" stop-color="#43ca8a"/><stop offset="0.25" stop-color="#43ca8a"/><stop offset="0.3125" stop-color="#43ca8b"/><stop offset="0.375" stop-color="#40ca8d"/><stop offset="0.4375" stop-color="#3eca8f"/><stop offset="0.5" stop-color="#3cc991"/><stop offset="0.5625" stop-color="#3bc993"/><stop offset="0.625" stop-color="#39c895"/><stop offset="0.6875" stop-color="#37c897"/><stop offset="0.75" stop-color="#36c799"/><stop offset="0.8125" stop-color="#35c79b"/><stop offset="0.875" stop-color="#33c79d"/><stop offset="0.9375" stop-color="#32c69e"/><stop offset="1" stop-color="#31c6a0"/></linearGradient>
<linearGradient id="g100" x1="0" y1="0" x2="0" y2="1"><stop offset="0" stop-color="#42ca8b"/><stop offset="0.0625" stop-color="#42ca8c"/><stop offset="0.125" stop-color="#42ca8c"/><stop offset="0.1875" stop-color="#42ca8c"/><stop offset="0.25" stop-color="#42ca8c"/><stop offset="0.3125" stop-color="#42ca8c"/><stop offset="0.375" stop-color="#3fca8e"/><stop offset="0.4375" stop-color="#3dc990"/><stop offset="0.5" stop-color="#3bc992"/><stop offset="0.5625" stop-color="#39c995"/><stop offset="0.625" stop-color="#37c897"/><stop offset="0.6875" stop-color="#36c899"/><stop offset="0.75" stop-color="#35c79a"/><stop offset="0.8125" stop-color="#34c79c"/><stop offset="0.875" stop-color="#32c69e"/><stop offset="0.9375" stop-color="#31c6a0"/><stop offset="1" stop-color="#30c5a1"/></linearGradient>
<linearGradient id="g101" x1="0" y1="0" x2="0" y2="1"><stop offset="0" stop-color="#41ca8c"/><stop offset="0.0625" stop-color="#41ca8c"/><stop offset="0.125" stop-color="#41ca8c"/><stop offset="0.1875" stop-color="#41ca8c"/><stop offset="0.25" stop-color="#41ca8c"/><stop offset="0.3125" stop-color="#41ca8c"/><stop offset="0.375" stop-color="#3eca8f"/><stop offset="0.4375" stop-color="#3dc991"/><stop offset="0.5" stop-color="#3bc993"/><stop offset="0.5625" stop-color="#39c895"/><stop offset="0.625" stop-color="#37c898"/><stop offset="0.6875" stop-color="#35c799"/><stop offset="0.75" stop-color="#34c79b"/><stop offset="0.8125" stop-color="#33c69d"/><stop offset="0.875" stop-color="#32c69f"/><stop offset="0.9375" stop-color="#31c6a1"/><stop offset="1" stop-color="#2fc5a2"/></linearGradient>
<linearGradient id="g102" x1="0" y1="0" x2="0" y2="1"><stop offset="0" stop-color="#41ca8c"/><stop offset="0.0625" stop-color="#41ca8c"/><stop offset="0.125" stop-color="#41ca8c"/><stop offset="0.1875" stop-color="#41ca8c"/><stop offset="0.25" stop-color="#41ca8c"/><stop offset="0.3125" stop-color="#41ca8c"/><stop offset="0.375" stop-color="#3eca8f"/><stop offset="0.4375" stop-color="#3dc991"/><stop offset="0.5" stop-color="#3bc993"/><stop offset="0.5625" stop-color="#39c895"/><stop offset="0.625" stop-color="#37c898"/><stop offset="0.6875" stop-color="#35c799"/><stop offset="0.75" stop-color="#34c79b"/><stop offset="0.8125" stop-color="#33c69d"/><stop offset="0.875" stop-color="#32c69f"/><stop offset="0.9375" stop-color="#31c6a1"/><stop offset="1" stop-color="#2fc5a2"/></linearGradient>
<clipPath id="clc"><path d="M202,117.4 L226.6,98.9 L229.2,99.6 L229.2,715.6 L202.3,735 Z"/></clipPath>
<clipPath id="crc"><path d="M243.4,98.6 L245.6,98 L273.2,117.6 L273.2,735 L243.4,715 Z"/></clipPath>
<linearGradient id="g103" x1="0" y1="0" x2="0" y2="1"><stop offset="0" stop-color="#fec934"/><stop offset="0.0833" stop-color="#fec835"/><stop offset="0.1667" stop-color="#fec537"/><stop offset="0.25" stop-color="#fec239"/><stop offset="0.3333" stop-color="#fec437"/><stop offset="0.4167" stop-color="#fec735"/><stop offset="0.5" stop-color="#fec537"/><stop offset="0.5833" stop-color="#febf3b"/><stop offset="0.6667" stop-color="#fdbd3d"/><stop offset="0.75" stop-color="#fec03b"/><stop offset="0.8333" stop-color="#fec03b"/><stop offset="0.9167" stop-color="#fbbc3d"/><stop offset="1" stop-color="#fbbc3d"/></linearGradient>
<linearGradient id="g104" x1="0" y1="0" x2="0" y2="1"><stop offset="0" stop-color="#7ecc5b"/><stop offset="0.0833" stop-color="#7fcc5a"/><stop offset="0.1667" stop-color="#81cc58"/><stop offset="0.25" stop-color="#86cb54"/><stop offset="0.3333" stop-color="#8bcb51"/><stop offset="0.4167" stop-color="#8dcb4f"/><stop offset="0.5" stop-color="#91ca4c"/><stop offset="0.5833" stop-color="#96ca49"/><stop offset="0.6667" stop-color="#94ca4a"/><stop offset="0.75" stop-color="#88cb53"/><stop offset="0.8333" stop-color="#72cd64"/><stop offset="0.9167" stop-color="#61cd72"/><stop offset="1" stop-color="#62cd70"/></linearGradient>
<linearGradient id="g105" x1="0" y1="0" x2="0" y2="1"><stop offset="0" stop-color="#2995ec"/><stop offset="0.0833" stop-color="#2797eb"/><stop offset="0.1667" stop-color="#2797eb"/><stop offset="0.25" stop-color="#2895ec"/><stop offset="0.3333" stop-color="#2994ed"/><stop offset="0.4167" stop-color="#2a93ed"/><stop offset="0.5" stop-color="#2895ec"/><stop offset="0.5833" stop-color="#2798ea"/><stop offset="0.6667" stop-color="#259ce7"/><stop offset="0.75" stop-color="#249ee6"/><stop offset="0.8333" stop-color="#259be8"/><stop offset="0.9167" stop-color="#2699e9"/><stop offset="1" stop-color="#269ae9"/></linearGradient>
<linearGradient id="g106" x1="0" y1="0" x2="0" y2="1"><stop offset="0" stop-color="#4745e9"/><stop offset="0.0833" stop-color="#4745ea"/><stop offset="0.1667" stop-color="#4746ea"/><stop offset="0.25" stop-color="#4747eb"/><stop offset="0.3333" stop-color="#484aee"/><stop offset="0.4167" stop-color="#484cf0"/><stop offset="0.5" stop-color="#4850f2"/><stop offset="0.5833" stop-color="#4854f5"/><stop offset="0.6667" stop-color="#475af9"/><stop offset="0.75" stop-color="#465efb"/><stop offset="0.8333" stop-color="#475af9"/><stop offset="0.9167" stop-color="#4854f5"/><stop offset="1" stop-color="#4850f2"/></linearGradient>
<linearGradient id="g107" x1="0" y1="0" x2="0" y2="1"><stop offset="0" stop-color="#4537d6"/><stop offset="0.0833" stop-color="#4536d4"/><stop offset="0.1667" stop-color="#4539d9"/><stop offset="0.25" stop-color="#463cde"/><stop offset="0.3333" stop-color="#473ee1"/><stop offset="0.4167" stop-color="#4742e6"/><stop offset="0.5" stop-color="#4848ec"/><stop offset="0.5833" stop-color="#484cef"/><stop offset="0.6667" stop-color="#484bee"/><stop offset="0.75" stop-color="#484aee"/><stop offset="0.8333" stop-color="#484aee"/><stop offset="0.9167" stop-color="#484ff2"/><stop offset="1" stop-color="#4757f7"/></linearGradient>
<linearGradient id="g108" x1="0" y1="0" x2="0" y2="1"><stop offset="0" stop-color="#484ef1"/><stop offset="0.0833" stop-color="#484cef"/><stop offset="0.1667" stop-color="#4849ed"/><stop offset="0.25" stop-color="#4848ec"/><stop offset="0.3333" stop-color="#484aee"/><stop offset="0.4167" stop-color="#484cef"/><stop offset="0.5" stop-color="#4851f3"/><stop offset="0.5833" stop-color="#4854f6"/><stop offset="0.6667" stop-color="#4758f8"/><stop offset="0.75" stop-color="#475bf9"/><stop offset="0.8333" stop-color="#4759f8"/><stop offset="0.9167" stop-color="#4855f6"/><stop offset="1" stop-color="#4851f4"/></linearGradient>
<linearGradient id="g109" x1="0" y1="0" x2="0" y2="1"><stop offset="0" stop-color="#4745e9"/><stop offset="0.0833" stop-color="#4743e7"/><stop offset="0.1667" stop-color="#4746ea"/><stop offset="0.25" stop-color="#484cef"/><stop offset="0.3333" stop-color="#4850f3"/><stop offset="0.4167" stop-color="#4853f5"/><stop offset="0.5" stop-color="#4759f8"/><stop offset="0.5833" stop-color="#4561fc"/><stop offset="0.6667" stop-color="#4269fe"/><stop offset="0.75" stop-color="#406dfe"/><stop offset="0.8333" stop-color="#4269fe"/><stop offset="0.9167" stop-color="#4366fd"/><stop offset="1" stop-color="#4466fd"/></linearGradient>
<linearGradient id="g110" x1="0" y1="0" x2="0" y2="1"><stop offset="0" stop-color="#465efb"/><stop offset="0.0833" stop-color="#465efb"/><stop offset="0.1667" stop-color="#465efb"/><stop offset="0.25" stop-color="#465efb"/><stop offset="0.3333" stop-color="#465dfa"/><stop offset="0.4167" stop-color="#475af9"/><stop offset="0.5" stop-color="#475bf9"/><stop offset="0.5833" stop-color="#465ffb"/><stop offset="0.6667" stop-color="#4367fd"/><stop offset="0.75" stop-color="#416bfe"/><stop offset="0.8333" stop-color="#4367fd"/><stop offset="0.9167" stop-color="#4367fd"/><stop offset="1" stop-color="#3f6efe"/></linearGradient>
<linearGradient id="g111" x1="0" y1="0" x2="0" y2="1"><stop offset="0" stop-color="#4854f5"/><stop offset="0.0833" stop-color="#475af9"/><stop offset="0.1667" stop-color="#465dfb"/><stop offset="0.25" stop-color="#465efb"/><stop offset="0.3333" stop-color="#465dfa"/><stop offset="0.4167" stop-color="#475cfa"/><stop offset="0.5" stop-color="#465ffb"/><stop offset="0.5833" stop-color="#4465fd"/><stop offset="0.6667" stop-color="#406dfe"/><stop offset="0.75" stop-color="#3c71ff"/><stop offset="0.8333" stop-color="#3d71ff"/><stop offset="0.9167" stop-color="#3e6fff"/><stop offset="1" stop-color="#406dfe"/></linearGradient>
<linearGradient id="g112" x1="0" y1="0" x2="0" y2="1"><stop offset="0" stop-color="#4747eb"/><stop offset="0.0833" stop-color="#484cef"/><stop offset="0.1667" stop-color="#4850f3"/><stop offset="0.25" stop-color="#4851f4"/><stop offset="0.3333" stop-color="#4850f3"/><stop offset="0.4167" stop-color="#4853f4"/><stop offset="0.5" stop-color="#475bf9"/><stop offset="0.5833" stop-color="#4562fc"/><stop offset="0.6667" stop-color="#4367fd"/><stop offset="0.75" stop-color="#4269fe"/><stop offset="0.8333" stop-color="#4368fe"/><stop offset="0.9167" stop-color="#4367fd"/><stop offset="1" stop-color="#4466fd"/></linearGradient>
<linearGradient id="g113" x1="0" y1="0" x2="0" y2="1"><stop offset="0" stop-color="#4743e7"/><stop offset="0.0833" stop-color="#4744e8"/><stop offset="0.1667" stop-color="#4848ec"/><stop offset="0.25" stop-color="#484df1"/><stop offset="0.3333" stop-color="#4851f3"/><stop offset="0.4167" stop-color="#4853f5"/><stop offset="0.5" stop-color="#4759f8"/><stop offset="0.5833" stop-color="#4561fc"/><stop offset="0.6667" stop-color="#4368fe"/><stop offset="0.75" stop-color="#416bfe"/><stop offset="0.8333" stop-color="#4366fd"/><stop offset="0.9167" stop-color="#4464fd"/><stop offset="1" stop-color="#4465fd"/></linearGradient>
<linearGradient id="g114" x1="0" y1="0" x2="0" y2="1"><stop offset="0" stop-color="#4852f4"/><stop offset="0.0833" stop-color="#4756f7"/><stop offset="0.1667" stop-color="#475dfa"/><stop offset="0.25" stop-color="#465efb"/><stop offset="0.3333" stop-color="#475af9"/><stop offset="0.4167" stop-color="#4759f8"/><stop offset="0.5" stop-color="#4661fc"/><stop offset="0.5833" stop-color="#426afe"/><stop offset="0.6667" stop-color="#3d70ff"/><stop offset="0.75" stop-color="#3974fe"/><stop offset="0.8333" stop-color="#3974fe"/><stop offset="0.9167" stop-color="#3975fe"/><stop offset="1" stop-color="#3777fe"/></linearGradient>
<linearGradient id="g115" x1="0" y1="0" x2="0" y2="1"><stop offset="0" stop-color="#4465fd"/><stop offset="0.0833" stop-color="#4466fd"/><stop offset="0.1667" stop-color="#426afe"/><stop offset="0.25" stop-color="#3e6fff"/><stop offset="0.3333" stop-color="#3c72ff"/><stop offset="0.4167" stop-color="#3f6fff"/><stop offset="0.5" stop-color="#3e6fff"/><stop offset="0.5833" stop-color="#3875fe"/><stop offset="0.6667" stop-color="#317dfc"/><stop offset="0.75" stop-color="#2f81fa"/><stop offset="0.8333" stop-color="#2f81fa"/><stop offset="0.9167" stop-color="#2e83f9"/><stop offset="1" stop-color="#2e85f8"/></linearGradient>
<linearGradient id="g116" x1="0" y1="0" x2="0" y2="1"><stop offset="0" stop-color="#3579fd"/><stop offset="0.0833" stop-color="#3579fd"/><stop offset="0.1667" stop-color="#327bfc"/><stop offset="0.25" stop-color="#317efb"/><stop offset="0.3333" stop-color="#307ffb"/><stop offset="0.4167" stop-color="#2f80fa"/><stop offset="0.5" stop-color="#2e86f7"/><stop offset="0.5833" stop-color="#2c8ef1"/><stop offset="0.6667" stop-color="#2797eb"/><stop offset="0.75" stop-color="#269ae9"/><stop offset="0.8333" stop-color="#2a93ed"/><stop offset="0.9167" stop-color="#2d8af4"/><stop offset="1" stop-color="#2d88f6"/></linearGradient>
<linearGradient id="g117" x1="0" y1="0" x2="0" y2="1"><stop offset="0" stop-color="#337bfc"/><stop offset="0.0833" stop-color="#347afd"/><stop offset="0.1667" stop-color="#327cfc"/><stop offset="0.25" stop-color="#2f80fa"/><stop offset="0.3333" stop-color="#2f82f9"/><stop offset="0.4167" stop-color="#2f82fa"/><stop offset="0.5" stop-color="#2e83f9"/><stop offset="0.5833" stop-color="#2d88f6"/><stop offset="0.6667" stop-color="#2d8df2"/><stop offset="0.75" stop-color="#2c8ef2"/><stop offset="0.8333" stop-color="#2d89f6"/><stop offset="0.9167" stop-color="#2e83f9"/><stop offset="1" stop-color="#3080fa"/></linearGradient>
<linearGradient id="g118" x1="0" y1="0" x2="0" y2="1"><stop offset="0" stop-color="#2d8bf3"/><stop offset="0.0833" stop-color="#2d8bf4"/><stop offset="0.1667" stop-color="#2d8bf4"/><stop offset="0.25" stop-color="#2d8df2"/><stop offset="0.3333" stop-color="#2c90f0"/><stop offset="0.4167" stop-color="#2b91ef"/><stop offset="0.5" stop-color="#2994ed"/><stop offset="0.5833" stop-color="#2798ea"/><stop offset="0.6667" stop-color="#259de7"/><stop offset="0.75" stop-color="#259de7"/><stop offset="0.8333" stop-color="#2798ea"/><stop offset="0.9167" stop-color="#2a93ed"/><stop offset="1" stop-color="#2b91ef"/></linearGradient>
<linearGradient id="g119" x1="0" y1="0" x2="0" y2="1"><stop offset="0" stop-color="#2699e9"/><stop offset="0.0833" stop-color="#249de6"/><stop offset="0.1667" stop-color="#259de7"/><stop offset="0.25" stop-color="#269be8"/><stop offset="0.3333" stop-color="#259be8"/><stop offset="0.4167" stop-color="#259ce7"/><stop offset="0.5" stop-color="#249de6"/><stop offset="0.5833" stop-color="#249ee6"/><stop offset="0.6667" stop-color="#22a1e4"/><stop offset="0.75" stop-color="#22a2e4"/><stop offset="0.8333" stop-color="#249ee6"/><stop offset="0.9167" stop-color="#259be8"/><stop offset="1" stop-color="#259de7"/></linearGradient>
<linearGradient id="g120" x1="0" y1="0" x2="0" y2="1"><stop offset="0" stop-color="#259be8"/><stop offset="0.0833" stop-color="#249de6"/><stop offset="0.1667" stop-color="#249fe6"/><stop offset="0.25" stop-color="#249fe5"/><stop offset="0.3333" stop-color="#22a1e4"/><stop offset="0.4167" stop-color="#20a5e2"/><stop offset="0.5" stop-color="#1ea7e1"/><stop offset="0.5833" stop-color="#1da8e0"/><stop offset="0.6667" stop-color="#1baade"/><stop offset="0.75" stop-color="#1babde"/><stop offset="0.8333" stop-color="#1fa6e1"/><stop offset="0.9167" stop-color="#23a0e5"/><stop offset="1" stop-color="#259ce7"/></linearGradient>
<linearGradient id="g121" x1="0" y1="0" x2="0" y2="1"><stop offset="0" stop-color="#23a1e4"/><stop offset="0.0833" stop-color="#249de6"/><stop offset="0.1667" stop-color="#259be8"/><stop offset="0.25" stop-color="#249de6"/><stop offset="0.3333" stop-color="#22a1e4"/><stop offset="0.4167" stop-color="#21a3e3"/><stop offset="0.5" stop-color="#1ea7e1"/><stop offset="0.5833" stop-color="#1baade"/><stop offset="0.6667" stop-color="#1babde"/><stop offset="0.75" stop-color="#1ea8e1"/><stop offset="0.8333" stop-color="#22a2e4"/><stop offset="0.9167" stop-color="#249fe6"/><stop offset="1" stop-color="#249fe6"/></linearGradient>
<linearGradient id="g122" x1="0" y1="0" x2="0" y2="1"><stop offset="0" stop-color="#18addb"/><stop offset="0.0833" stop-color="#18aedb"/><stop offset="0.1667" stop-color="#19addb"/><stop offset="0.25" stop-color="#19addc"/><stop offset="0.3333" stop-color="#18addb"/><stop offset="0.4167" stop-color="#18addb"/><stop offset="0.5" stop-color="#17aeda"/><stop offset="0.5833" stop-color="#16afd9"/><stop offset="0.6667" stop-color="#14b0d8"/><stop offset="0.75" stop-color="#13b1d7"/><stop offset="0.8333" stop-color="#15afd9"/><stop offset="0.9167" stop-color="#13b0d7"/><stop offset="1" stop-color="#05b6ce"/></linearGradient>
<linearGradient id="g123" x1="0" y1="0" x2="0" y2="1"><stop offset="0" stop-color="#1babde"/><stop offset="0.0833" stop-color="#14b0d8"/><stop offset="0.1667" stop-color="#0fb2d4"/><stop offset="0.25" stop-color="#0cb3d3"/><stop offset="0.3333" stop-color="#09b4d1"/><stop offset="0.4167" stop-color="#07b5d0"/><stop offset="0.5" stop-color="#05b6ce"/><stop offset="0.5833" stop-color="#03b7cb"/><stop offset="0.6667" stop-color="#01b9c7"/><stop offset="0.75" stop-color="#02bac3"/><stop offset="0.8333" stop-color="#01b8c8"/><stop offset="0.9167" stop-color="#0cb3d3"/><stop offset="1" stop-color="#15afd9"/></linearGradient>
<linearGradient id="g124" x1="0" y1="0" x2="0" y2="1"><stop offset="0" stop-color="#11b1d6"/><stop offset="0.0833" stop-color="#06b5cf"/><stop offset="0.1667" stop-color="#03b7cc"/><stop offset="0.25" stop-color="#06b5cf"/><stop offset="0.3333" stop-color="#06b5cf"/><stop offset="0.4167" stop-color="#04b6cc"/><stop offset="0.5" stop-color="#01b8c9"/><stop offset="0.5833" stop-color="#02bac5"/><stop offset="0.6667" stop-color="#04bbc2"/><stop offset="0.75" stop-color="#01b9c7"/><stop offset="0.8333" stop-color="#08b5d0"/><stop offset="0.9167" stop-color="#0db3d3"/><stop offset="1" stop-color="#04b6cd"/></linearGradient>
<linearGradient id="g125" x1="0" y1="0" x2="0" y2="1"><stop offset="0" stop-color="#01b8ca"/><stop offset="0.0833" stop-color="#01b9c8"/><stop offset="0.1667" stop-color="#02bac3"/><stop offset="0.25" stop-color="#0abdbd"/><stop offset="0.3333" stop-color="#0ebdbb"/><stop offset="0.4167" stop-color="#0bbdbc"/><stop offset="0.5" stop-color="#0fbebb"/><stop offset="0.5833" stop-color="#1abfb5"/><stop offset="0.6667" stop-color="#23c1af"/><stop offset="0.75" stop-color="#22c1af"/><stop offset="0.8333" stop-color="#12beb9"/><stop offset="0.9167" stop-color="#01b9c6"/><stop offset="1" stop-color="#02b7cb"/></linearGradient>
<linearGradient id="g126" x1="0" y1="0" x2="0" y2="1"><stop offset="0" stop-color="#3cc991"/><stop offset="0.0833" stop-color="#3ac994"/><stop offset="0.1667" stop-color="#39c994"/><stop offset="0.25" stop-color="#3bc993"/><stop offset="0.3333" stop-color="#3bc993"/><stop offset="0.4167" stop-color="#3bc993"/><stop offset="0.5" stop-color="#3ac994"/><stop offset="0.5833" stop-color="#39c994"/><stop offset="0.6667" stop-color="#39c895"/><stop offset="0.75" stop-color="#35c79a"/><stop offset="0.8333" stop-color="#2ec4a5"/><stop offset="0.9167" stop-color="#24c1ae"/><stop offset="1" stop-color="#25c2ae"/></linearGradient>
<linearGradient id="g127" x1="0" y1="0" x2="0" y2="1"><stop offset="0" stop-color="#5ecd74"/><stop offset="0.0833" stop-color="#63cd70"/><stop offset="0.1667" stop-color="#66cd6d"/><stop offset="0.25" stop-color="#62cd71"/><stop offset="0.3333" stop-color="#5dcc74"/><stop offset="0.4167" stop-color="#60cd72"/><stop offset="0.5" stop-color="#65cd6e"/><stop offset="0.5833" stop-color="#6acd6a"/><stop offset="0.6667" stop-color="#6bcd69"/><stop offset="0.75" stop-color="#60cd72"/><stop offset="0.8333" stop-color="#4dcc82"/><stop offset="0.9167" stop-color="#40ca8d"/><stop offset="1" stop-color="#41ca8c"/></linearGradient>
<linearGradient id="g128" x1="0" y1="0" x2="0" y2="1"><stop offset="0" stop-color="#bec32e"/><stop offset="0.0833" stop-color="#b2c535"/><stop offset="0.1667" stop-color="#aec637"/><stop offset="0.25" stop-color="#b0c636"/><stop offset="0.3333" stop-color="#b4c534"/><stop offset="0.4167" stop-color="#b6c532"/><stop offset="0.5" stop-color="#aec637"/><stop offset="0.5833" stop-color="#a5c83d"/><stop offset="0.6667" stop-color="#a7c73c"/><stop offset="0.75" stop-color="#a5c83d"/><stop offset="0.8333" stop-color="#90ca4d"/><stop offset="0.9167" stop-color="#6ecd67"/><stop offset="1" stop-color="#5fcd73"/></linearGradient>
<linearGradient id="g129" x1="0" y1="0" x2="0" y2="1"><stop offset="0" stop-color="#fdbd3d"/><stop offset="0.0833" stop-color="#fcbd3d"/><stop offset="0.1667" stop-color="#fabc3d"/><stop offset="0.25" stop-color="#fabb3d"/><stop offset="0.3333" stop-color="#f9bb3d"/><stop offset="0.4167" stop-color="#f8ba3d"/><stop offset="0.5" stop-color="#f6ba3b"/><stop offset="0.5833" stop-color="#f4ba3a"/><stop offset="0.6667" stop-color="#f0ba36"/><stop offset="0.75" stop-color="#e5bb2d"/><stop offset="0.8333" stop-color="#d4bf28"/><stop offset="0.9167" stop-color="#c4c22b"/><stop offset="1" stop-color="#c7c12a"/></linearGradient>
<linearGradient id="g130" x1="0" y1="0" x2="0" y2="1"><stop offset="0" stop-color="#fdcd32"/><stop offset="0.0833" stop-color="#fdca33"/><stop offset="0.1667" stop-color="#feca33"/><stop offset="0.25" stop-color="#fdcb33"/><stop offset="0.3333" stop-color="#fdcc32"/><stop offset="0.4167" stop-color="#fdce31"/><stop offset="0.5" stop-color="#fcd030"/><stop offset="0.5833" stop-color="#fcd030"/><stop offset="0.6667" stop-color="#fdcc32"/><stop offset="0.75" stop-color="#fec537"/><stop offset="0.8333" stop-color="#f9bb3d"/><stop offset="0.9167" stop-color="#edba33"/><stop offset="1" stop-color="#f5ba3b"/></linearGradient>
<linearGradient id="g131" x1="0" y1="0" x2="0" y2="1"><stop offset="0" stop-color="#fcd030"/><stop offset="0.0833" stop-color="#fcd030"/><stop offset="0.1667" stop-color="#fbd22f"/><stop offset="0.25" stop-color="#fad42e"/><stop offset="0.3333" stop-color="#fbd32e"/><stop offset="0.4167" stop-color="#fbd32f"/><stop offset="0.5" stop-color="#fbd12f"/><stop offset="0.5833" stop-color="#fcd12f"/><stop offset="0.6667" stop-color="#fcd030"/><stop offset="0.75" stop-color="#fdcb33"/><stop offset="0.8333" stop-color="#febe3c"/><stop offset="0.9167" stop-color="#f3ba38"/><stop offset="1" stop-color="#f7ba3c"/></linearGradient>
<linearGradient id="g132" x1="0" y1="0" x2="0" y2="1"><stop offset="0" stop-color="#f9d82c"/><stop offset="0.0833" stop-color="#fbd32f"/><stop offset="0.1667" stop-color="#fcd030"/><stop offset="0.25" stop-color="#fcd030"/><stop offset="0.3333" stop-color="#fcd030"/><stop offset="0.4167" stop-color="#fbd32f"/><stop offset="0.5" stop-color="#fad52d"/><stop offset="0.5833" stop-color="#fad62d"/><stop offset="0.6667" stop-color="#fad42e"/><stop offset="0.75" stop-color="#fcd030"/><stop offset="0.8333" stop-color="#fec437"/><stop offset="0.9167" stop-color="#f9bb3d"/><stop offset="1" stop-color="#f9bb3d"/></linearGradient>
<linearGradient id="g133" x1="0" y1="0" x2="0" y2="1"><stop offset="0" stop-color="#fbd32e"/><stop offset="0.0833" stop-color="#fbd22f"/><stop offset="0.1667" stop-color="#fcd12f"/><stop offset="0.25" stop-color="#fbd22f"/><stop offset="0.3333" stop-color="#fad42e"/><stop offset="0.4167" stop-color="#f9d72c"/><stop offset="0.5" stop-color="#fad62d"/><stop offset="0.5833" stop-color="#fcd030"/><stop offset="0.6667" stop-color="#fdcb33"/><stop offset="0.75" stop-color="#fec835"/><stop offset="0.8333" stop-color="#fec239"/><stop offset="0.9167" stop-color="#f9bb3d"/><stop offset="1" stop-color="#f4ba3a"/></linearGradient>
<linearGradient id="g134" x1="0" y1="0" x2="0" y2="1"><stop offset="0" stop-color="#fdcd32"/><stop offset="0.0833" stop-color="#fdcd32"/><stop offset="0.1667" stop-color="#fdcd32"/><stop offset="0.25" stop-color="#fcd12f"/><stop offset="0.3333" stop-color="#f9d82c"/><stop offset="0.4167" stop-color="#f8da2b"/><stop offset="0.5" stop-color="#fad62d"/><stop offset="0.5833" stop-color="#fcd030"/><stop offset="0.6667" stop-color="#fdcd32"/><stop offset="0.75" stop-color="#feca34"/><stop offset="0.8333" stop-color="#febf3b"/><stop offset="0.9167" stop-color="#f2ba37"/><stop offset="1" stop-color="#f0ba36"/></linearGradient>
<linearGradient id="g135" x1="0" y1="0" x2="0" y2="1"><stop offset="0" stop-color="#3080fa"/><stop offset="0.0833" stop-color="#2e86f8"/><stop offset="0.1667" stop-color="#2e87f7"/><stop offset="0.25" stop-color="#2e87f7"/><stop offset="0.3333" stop-color="#2d8af4"/><stop offset="0.4167" stop-color="#2c8ff1"/><stop offset="0.5" stop-color="#2797eb"/><stop offset="0.5833" stop-color="#259ce7"/><stop offset="0.6667" stop-color="#23a0e5"/><stop offset="0.75" stop-color="#21a3e3"/><stop offset="0.8333" stop-color="#20a4e3"/><stop offset="0.9167" stop-color="#20a5e3"/><stop offset="1" stop-color="#21a4e3"/></linearGradient>
<linearGradient id="g136" x1="0" y1="0" x2="0" y2="1"><stop offset="0" stop-color="#20a5e2"/><stop offset="0.0833" stop-color="#1da8e0"/><stop offset="0.1667" stop-color="#1ca9df"/><stop offset="0.25" stop-color="#1babde"/><stop offset="0.3333" stop-color="#19addc"/><stop offset="0.4167" stop-color="#19addc"/><stop offset="0.5" stop-color="#17aeda"/><stop offset="0.5833" stop-color="#14b0d8"/><stop offset="0.6667" stop-color="#0fb2d4"/><stop offset="0.75" stop-color="#07b5cf"/><stop offset="0.8333" stop-color="#03b7cc"/><stop offset="0.9167" stop-color="#01b8c9"/><stop offset="1" stop-color="#01b9c8"/></linearGradient>
<linearGradient id="g137" x1="0" y1="0" x2="0" y2="1"><stop offset="0" stop-color="#15bfb7"/><stop offset="0.0833" stop-color="#18bfb6"/><stop offset="0.1667" stop-color="#19bfb6"/><stop offset="0.25" stop-color="#1bc0b4"/><stop offset="0.3333" stop-color="#22c1b0"/><stop offset="0.4167" stop-color="#24c1ae"/><stop offset="0.5" stop-color="#24c1af"/><stop offset="0.5833" stop-color="#26c2ad"/><stop offset="0.6667" stop-color="#2ac3a9"/><stop offset="0.75" stop-color="#2cc4a7"/><stop offset="0.8333" stop-color="#28c2ab"/><stop offset="0.9167" stop-color="#25c2ae"/><stop offset="1" stop-color="#26c2ad"/></linearGradient>
<linearGradient id="g138" x1="0" y1="0" x2="0" y2="1"><stop offset="0" stop-color="#43ca8b"/><stop offset="0.0833" stop-color="#46cb88"/><stop offset="0.1667" stop-color="#49cb85"/><stop offset="0.25" stop-color="#49cb85"/><stop offset="0.3333" stop-color="#4bcb84"/><stop offset="0.4167" stop-color="#50cc80"/><stop offset="0.5" stop-color="#4ccb83"/><stop offset="0.5833" stop-color="#46cb88"/><stop offset="0.6667" stop-color="#45cb88"/><stop offset="0.75" stop-color="#45cb89"/><stop offset="0.8333" stop-color="#3eca8f"/><stop offset="0.9167" stop-color="#37c897"/><stop offset="1" stop-color="#38c896"/></linearGradient>
<linearGradient id="g139" x1="0" y1="0" x2="0" y2="1"><stop offset="0" stop-color="#66cd6d"/><stop offset="0.0833" stop-color="#5fcd73"/><stop offset="0.1667" stop-color="#5acc77"/><stop offset="0.25" stop-color="#58cc79"/><stop offset="0.3333" stop-color="#57cc7a"/><stop offset="0.4167" stop-color="#5dcc75"/><stop offset="0.5" stop-color="#5ccc76"/><stop offset="0.5833" stop-color="#4dcc82"/><stop offset="0.6667" stop-color="#3dc990"/><stop offset="0.75" stop-color="#37c898"/><stop offset="0.8333" stop-color="#36c899"/><stop offset="0.9167" stop-color="#37c897"/><stop offset="1" stop-color="#3bc992"/></linearGradient>
<linearGradient id="g140" x1="0" y1="0" x2="0" y2="1"><stop offset="0" stop-color="#64cd6f"/><stop offset="0.0833" stop-color="#5ecc74"/><stop offset="0.1667" stop-color="#5dcc75"/><stop offset="0.25" stop-color="#64cd6f"/><stop offset="0.3333" stop-color="#6ccd68"/><stop offset="0.4167" stop-color="#70cd65"/><stop offset="0.5" stop-color="#6bcd69"/><stop offset="0.5833" stop-color="#63cd70"/><stop offset="0.6667" stop-color="#5dcc75"/><stop offset="0.75" stop-color="#57cc7a"/><stop offset="0.8333" stop-color="#4ccb82"/><stop offset="0.9167" stop-color="#47cb87"/><stop offset="1" stop-color="#50cc80"/></linearGradient>
<linearGradient id="g141" x1="0" y1="0" x2="0" y2="1"><stop offset="0" stop-color="#59cc79"/><stop offset="0.0833" stop-color="#5dcc75"/><stop offset="0.1667" stop-color="#5ecd74"/><stop offset="0.25" stop-color="#5dcc75"/><stop offset="0.3333" stop-color="#5dcc75"/><stop offset="0.4167" stop-color="#60cd72"/><stop offset="0.5" stop-color="#5dcc75"/><stop offset="0.5833" stop-color="#52cc7e"/><stop offset="0.6667" stop-color="#49cb86"/><stop offset="0.75" stop-color="#45cb89"/><stop offset="0.8333" stop-color="#40ca8d"/><stop offset="0.9167" stop-color="#3bc992"/><stop offset="1" stop-color="#3eca8f"/></linearGradient>
<linearGradient id="g142" x1="0" y1="0" x2="0" y2="1"><stop offset="0" stop-color="#37c897"/><stop offset="0.0833" stop-color="#33c69d"/><stop offset="0.1667" stop-color="#2fc5a2"/><stop offset="0.25" stop-color="#2cc4a7"/><stop offset="0.3333" stop-color="#29c3aa"/><stop offset="0.4167" stop-color="#2bc3a8"/><stop offset="0.5" stop-color="#2cc4a6"/><stop offset="0.5833" stop-color="#2cc4a7"/><stop offset="0.6667" stop-color="#28c3aa"/><stop offset="0.75" stop-color="#23c1af"/><stop offset="0.8333" stop-color="#19bfb6"/><stop offset="0.9167" stop-color="#0bbdbd"/><stop offset="1" stop-color="#06bcc0"/></linearGradient>
<linearGradient id="g143" x1="0" y1="0" x2="0" y2="1"><stop offset="0" stop-color="#2dc4a6"/><stop offset="0.0833" stop-color="#31c6a0"/><stop offset="0.1667" stop-color="#34c79b"/><stop offset="0.25" stop-color="#32c69f"/><stop offset="0.3333" stop-color="#2dc4a5"/><stop offset="0.4167" stop-color="#2cc4a7"/><stop offset="0.5" stop-color="#2bc3a8"/><stop offset="0.5833" stop-color="#29c3a9"/><stop offset="0.6667" stop-color="#28c2ab"/><stop offset="0.75" stop-color="#22c1b0"/><stop offset="0.8333" stop-color="#19bfb5"/><stop offset="0.9167" stop-color="#17bfb6"/><stop offset="1" stop-color="#1cc0b3"/></linearGradient>
<linearGradient id="g144" x1="0" y1="0" x2="0" y2="1"><stop offset="0" stop-color="#01b9c6"/><stop offset="0.0833" stop-color="#07bcc0"/><stop offset="0.1667" stop-color="#0ebdbb"/><stop offset="0.25" stop-color="#15bfb7"/><stop offset="0.3333" stop-color="#18bfb6"/><stop offset="0.4167" stop-color="#11beba"/><stop offset="0.5" stop-color="#03bbc2"/><stop offset="0.5833" stop-color="#01b8c8"/><stop offset="0.6667" stop-color="#02b7cb"/><stop offset="0.75" stop-color="#01b8ca"/><stop offset="0.8333" stop-color="#01b9c7"/><stop offset="0.9167" stop-color="#01b8c8"/><stop offset="1" stop-color="#03b7cc"/></linearGradient>
<linearGradient id="g145" x1="0" y1="0" x2="0" y2="1"><stop offset="0" stop-color="#05bbc1"/><stop offset="0.0833" stop-color="#01b9c7"/><stop offset="0.1667" stop-color="#01bac5"/><stop offset="0.25" stop-color="#04bbc2"/><stop offset="0.3333" stop-color="#03bbc2"/><stop offset="0.4167" stop-color="#01bac5"/><stop offset="0.5" stop-color="#01b8c9"/><stop offset="0.5833" stop-color="#03b7cc"/><stop offset="0.6667" stop-color="#04b6cd"/><stop offset="0.75" stop-color="#01b8ca"/><stop offset="0.8333" stop-color="#04bbc2"/><stop offset="0.9167" stop-color="#0bbdbd"/><stop offset="1" stop-color="#06bcc0"/></linearGradient>
<linearGradient id="g146" x1="0" y1="0" x2="0" y2="1"><stop offset="0" stop-color="#14b0d8"/><stop offset="0.0833" stop-color="#0eb2d4"/><stop offset="0.1667" stop-color="#09b4d1"/><stop offset="0.25" stop-color="#06b5cf"/><stop offset="0.3333" stop-color="#06b5cf"/><stop offset="0.4167" stop-color="#0cb3d3"/><stop offset="0.5" stop-color="#11b1d6"/><stop offset="0.5833" stop-color="#0cb3d3"/><stop offset="0.6667" stop-color="#08b4d1"/><stop offset="0.75" stop-color="#0eb3d4"/><stop offset="0.8333" stop-color="#13b0d7"/><stop offset="0.9167" stop-color="#15afd9"/><stop offset="1" stop-color="#18addb"/></linearGradient>
<linearGradient id="g147" x1="0" y1="0" x2="0" y2="1"><stop offset="0" stop-color="#1caadf"/><stop offset="0.0833" stop-color="#1aabdd"/><stop offset="0.1667" stop-color="#18addb"/><stop offset="0.25" stop-color="#15afd9"/><stop offset="0.3333" stop-color="#14b0d8"/><stop offset="0.4167" stop-color="#14b0d8"/><stop offset="0.5" stop-color="#17aeda"/><stop offset="0.5833" stop-color="#1aabdd"/><stop offset="0.6667" stop-color="#1da8e0"/><stop offset="0.75" stop-color="#1fa6e2"/><stop offset="0.8333" stop-color="#1da8e0"/><stop offset="0.9167" stop-color="#19addc"/><stop offset="1" stop-color="#14b0d8"/></linearGradient>
<linearGradient id="g148" x1="0" y1="0" x2="0" y2="1"><stop offset="0" stop-color="#1ea7e1"/><stop offset="0.0833" stop-color="#1baade"/><stop offset="0.1667" stop-color="#19addc"/><stop offset="0.25" stop-color="#16aeda"/><stop offset="0.3333" stop-color="#15afd9"/><stop offset="0.4167" stop-color="#14b0d8"/><stop offset="0.5" stop-color="#15afd9"/><stop offset="0.5833" stop-color="#19addc"/><stop offset="0.6667" stop-color="#1da9e0"/><stop offset="0.75" stop-color="#1fa6e2"/><stop offset="0.8333" stop-color="#1fa6e1"/><stop offset="0.9167" stop-color="#1da9e0"/><stop offset="1" stop-color="#1babde"/></linearGradient>
<linearGradient id="g149" x1="0" y1="0" x2="0" y2="1"><stop offset="0" stop-color="#23a1e5"/><stop offset="0.0833" stop-color="#23a0e5"/><stop offset="0.1667" stop-color="#239fe5"/><stop offset="0.25" stop-color="#239fe5"/><stop offset="0.3333" stop-color="#239fe5"/><stop offset="0.4167" stop-color="#23a0e5"/><stop offset="0.5" stop-color="#249ee6"/><stop offset="0.5833" stop-color="#269be8"/><stop offset="0.6667" stop-color="#2797eb"/><stop offset="0.75" stop-color="#2895ec"/><stop offset="0.8333" stop-color="#2798ea"/><stop offset="0.9167" stop-color="#259be8"/><stop offset="1" stop-color="#259be8"/></linearGradient>
<linearGradient id="g150" x1="0" y1="0" x2="0" y2="1"><stop offset="0" stop-color="#259be8"/><stop offset="0.0833" stop-color="#2797eb"/><stop offset="0.1667" stop-color="#2a93ed"/><stop offset="0.25" stop-color="#2b92ee"/><stop offset="0.3333" stop-color="#2b91ef"/><stop offset="0.4167" stop-color="#2a93ee"/><stop offset="0.5" stop-color="#2895ec"/><stop offset="0.5833" stop-color="#2797eb"/><stop offset="0.6667" stop-color="#2797eb"/><stop offset="0.75" stop-color="#2895ec"/><stop offset="0.8333" stop-color="#2895ec"/><stop offset="0.9167" stop-color="#2895ec"/><stop offset="1" stop-color="#2b91ef"/></linearGradient>
<linearGradient id="g151" x1="0" y1="0" x2="0" y2="1"><stop offset="0" stop-color="#2895ec"/><stop offset="0.0833" stop-color="#2896eb"/><stop offset="0.1667" stop-color="#2895ec"/><stop offset="0.25" stop-color="#2a92ee"/><stop offset="0.3333" stop-color="#2c8ff1"/><stop offset="0.4167" stop-color="#2d8cf3"/><stop offset="0.5" stop-color="#2d8bf4"/><stop offset="0.5833" stop-color="#2d8cf3"/><stop offset="0.6667" stop-color="#2c90f0"/><stop offset="0.75" stop-color="#2a93ee"/><stop offset="0.8333" stop-color="#2a93ed"/><stop offset="0.9167" stop-color="#2c90f0"/><stop offset="1" stop-color="#2d89f5"/></linearGradient>
<linearGradient id="g152" x1="0" y1="0" x2="0" y2="1"><stop offset="0" stop-color="#2895ec"/><stop offset="0.0833" stop-color="#2a92ee"/><stop offset="0.1667" stop-color="#2c8ff1"/><stop offset="0.25" stop-color="#2d8bf4"/><stop offset="0.3333" stop-color="#2d89f5"/><stop offset="0.4167" stop-color="#2d8af5"/><stop offset="0.5" stop-color="#2d8af4"/><stop offset="0.5833" stop-color="#2d88f6"/><stop offset="0.6667" stop-color="#2e87f7"/><stop offset="0.75" stop-color="#2d8cf3"/><stop offset="0.8333" stop-color="#2a93ee"/><stop offset="0.9167" stop-color="#2a93ee"/><stop offset="1" stop-color="#2d8cf3"/></linearGradient>
<linearGradient id="g153" x1="0" y1="0" x2="0" y2="1"><stop offset="0" stop-color="#2995ec"/><stop offset="0.0833" stop-color="#2994ed"/><stop offset="0.1667" stop-color="#2a93ee"/><stop offset="0.25" stop-color="#2994ed"/><stop offset="0.3333" stop-color="#2797eb"/><stop offset="0.4167" stop-color="#2798ea"/><stop offset="0.5" stop-color="#2895ec"/><stop offset="0.5833" stop-color="#2b92ef"/><stop offset="0.6667" stop-color="#2c8ef2"/><stop offset="0.75" stop-color="#2d8cf3"/><stop offset="0.8333" stop-color="#2b90f0"/><stop offset="0.9167" stop-color="#2994ed"/><stop offset="1" stop-color="#2a93ee"/></linearGradient>
<linearGradient id="g154" x1="0" y1="0" x2="0" y2="1"><stop offset="0" stop-color="#22a2e4"/><stop offset="0.0833" stop-color="#269be8"/><stop offset="0.1667" stop-color="#2796eb"/><stop offset="0.25" stop-color="#2797eb"/><stop offset="0.3333" stop-color="#2798ea"/><stop offset="0.4167" stop-color="#2699e9"/><stop offset="0.5" stop-color="#2797ea"/><stop offset="0.5833" stop-color="#2993ed"/><stop offset="0.6667" stop-color="#2c8ff0"/><stop offset="0.75" stop-color="#2d8df2"/><stop offset="0.8333" stop-color="#2c8ff1"/><stop offset="0.9167" stop-color="#2a93ee"/><stop offset="1" stop-color="#2895ec"/></linearGradient>
<linearGradient id="g155" x1="0" y1="0" x2="0" y2="1"><stop offset="0" stop-color="#259de7"/><stop offset="0.0833" stop-color="#2797eb"/><stop offset="0.1667" stop-color="#2a93ed"/><stop offset="0.25" stop-color="#2b91ef"/><stop offset="0.3333" stop-color="#2b90ef"/><stop offset="0.4167" stop-color="#2b91ef"/><stop offset="0.5" stop-color="#2b92ee"/><stop offset="0.5833" stop-color="#2b92ee"/><stop offset="0.6667" stop-color="#2b92ee"/><stop offset="0.75" stop-color="#2994ed"/><stop offset="0.8333" stop-color="#2699e9"/><stop offset="0.9167" stop-color="#259ce7"/><stop offset="1" stop-color="#269be8"/></linearGradient>
<linearGradient id="g156" x1="0" y1="0" x2="0" y2="1"><stop offset="0" stop-color="#2797eb"/><stop offset="0.0833" stop-color="#2798ea"/><stop offset="0.1667" stop-color="#269ae9"/><stop offset="0.25" stop-color="#259de7"/><stop offset="0.3333" stop-color="#249fe5"/><stop offset="0.4167" stop-color="#249ee6"/><stop offset="0.5" stop-color="#2699e9"/><stop offset="0.5833" stop-color="#2b92ee"/><stop offset="0.6667" stop-color="#2d8df2"/><stop offset="0.75" stop-color="#2d8cf3"/><stop offset="0.8333" stop-color="#2b91ef"/><stop offset="0.9167" stop-color="#2798ea"/><stop offset="1" stop-color="#259ce7"/></linearGradient>
<linearGradient id="g157" x1="0" y1="0" x2="0" y2="1"><stop offset="0" stop-color="#2797eb"/><stop offset="0.0833" stop-color="#2896ec"/><stop offset="0.1667" stop-color="#2b92ee"/><stop offset="0.25" stop-color="#2d8df2"/><stop offset="0.3333" stop-color="#2d8af4"/><stop offset="0.4167" stop-color="#2d8bf4"/><stop offset="0.5" stop-color="#2d8cf3"/><stop offset="0.5833" stop-color="#2d8bf4"/><stop offset="0.6667" stop-color="#2d8bf4"/><stop offset="0.75" stop-color="#2c8ef2"/><stop offset="0.8333" stop-color="#2b91ef"/><stop offset="0.9167" stop-color="#2b91ef"/><stop offset="1" stop-color="#2d8cf3"/></linearGradient>
<linearGradient id="g158" x1="0" y1="0" x2="0" y2="1"><stop offset="0" stop-color="#2994ed"/><stop offset="0.0833" stop-color="#2b92ee"/><stop offset="0.1667" stop-color="#2c8ff0"/><stop offset="0.25" stop-color="#2c8ff1"/><stop offset="0.3333" stop-color="#2c90f0"/><stop offset="0.4167" stop-color="#2c90f0"/><stop offset="0.5" stop-color="#2b91ef"/><stop offset="0.5833" stop-color="#2a92ee"/><stop offset="0.6667" stop-color="#2a93ee"/><stop offset="0.75" stop-color="#2a93ee"/><stop offset="0.8333" stop-color="#2994ed"/><stop offset="0.9167" stop-color="#2895ec"/><stop offset="1" stop-color="#2995ec"/></linearGradient>
<linearGradient id="g159" x1="0" y1="0" x2="0" y2="1"><stop offset="0" stop-color="#2d8df2"/><stop offset="0.0833" stop-color="#2d8cf3"/><stop offset="0.1667" stop-color="#2d8cf3"/><stop offset="0.25" stop-color="#2d8bf4"/><stop offset="0.3333" stop-color="#2d8af4"/><stop offset="0.4167" stop-color="#2d89f5"/><stop offset="0.5" stop-color="#2d8cf3"/><stop offset="0.5833" stop-color="#2a93ee"/><stop offset="0.6667" stop-color="#2797eb"/><stop offset="0.75" stop-color="#2798ea"/><stop offset="0.8333" stop-color="#269ae9"/><stop offset="0.9167" stop-color="#239fe5"/><stop offset="1" stop-color="#21a3e3"/></linearGradient>
<linearGradient id="g160" x1="0" y1="0" x2="0" y2="1"><stop offset="0" stop-color="#307efb"/><stop offset="0.0833" stop-color="#2f82fa"/><stop offset="0.1667" stop-color="#2f82fa"/><stop offset="0.25" stop-color="#2f82fa"/><stop offset="0.3333" stop-color="#2e83f9"/><stop offset="0.4167" stop-color="#2e83f9"/><stop offset="0.5" stop-color="#2d89f5"/><stop offset="0.5833" stop-color="#2c8ef2"/><stop offset="0.6667" stop-color="#2b92ee"/><stop offset="0.75" stop-color="#2797eb"/><stop offset="0.8333" stop-color="#269ae8"/><stop offset="0.9167" stop-color="#259de7"/><stop offset="1" stop-color="#249fe5"/></linearGradient>
<linearGradient id="g161" x1="0" y1="0" x2="0" y2="1"><stop offset="0" stop-color="#2e85f8"/><stop offset="0.0833" stop-color="#2e85f8"/><stop offset="0.1667" stop-color="#2e84f8"/><stop offset="0.25" stop-color="#2f82fa"/><stop offset="0.3333" stop-color="#2f80fa"/><stop offset="0.4167" stop-color="#2f82fa"/><stop offset="0.5" stop-color="#2d8bf3"/><stop offset="0.5833" stop-color="#2896eb"/><stop offset="0.6667" stop-color="#23a0e5"/><stop offset="0.75" stop-color="#1da8e0"/><stop offset="0.8333" stop-color="#1baade"/><stop offset="0.9167" stop-color="#1baadf"/><stop offset="1" stop-color="#1ea8e1"/></linearGradient>
<linearGradient id="g162" x1="0" y1="0" x2="0" y2="1"><stop offset="0" stop-color="#2d87f7"/><stop offset="0.0833" stop-color="#2e86f7"/><stop offset="0.1667" stop-color="#2d88f6"/><stop offset="0.25" stop-color="#2d8af4"/><stop offset="0.3333" stop-color="#2d8af4"/><stop offset="0.4167" stop-color="#2d88f6"/><stop offset="0.5" stop-color="#2d8df2"/><stop offset="0.5833" stop-color="#2994ed"/><stop offset="0.6667" stop-color="#2699e9"/><stop offset="0.75" stop-color="#259de7"/><stop offset="0.8333" stop-color="#249fe5"/><stop offset="0.9167" stop-color="#22a1e4"/><stop offset="1" stop-color="#249fe5"/></linearGradient>
<linearGradient id="g163" x1="0" y1="0" x2="0" y2="1"><stop offset="0" stop-color="#2f81fa"/><stop offset="0.0833" stop-color="#307ffb"/><stop offset="0.1667" stop-color="#3080fa"/><stop offset="0.25" stop-color="#2e83f9"/><stop offset="0.3333" stop-color="#2e85f8"/><stop offset="0.4167" stop-color="#2e84f8"/><stop offset="0.5" stop-color="#2d8bf4"/><stop offset="0.5833" stop-color="#2994ed"/><stop offset="0.6667" stop-color="#259be8"/><stop offset="0.75" stop-color="#249de7"/><stop offset="0.8333" stop-color="#259de7"/><stop offset="0.9167" stop-color="#21a3e3"/><stop offset="1" stop-color="#1ca9df"/></linearGradient>
<linearGradient id="g164" x1="0" y1="0" x2="0" y2="1"><stop offset="0" stop-color="#317efb"/><stop offset="0.0833" stop-color="#2f80fa"/><stop offset="0.1667" stop-color="#2f82fa"/><stop offset="0.25" stop-color="#2f83f9"/><stop offset="0.3333" stop-color="#2e84f8"/><stop offset="0.4167" stop-color="#2e86f7"/><stop offset="0.5" stop-color="#2d8cf3"/><stop offset="0.5833" stop-color="#2b91ef"/><stop offset="0.6667" stop-color="#2796eb"/><stop offset="0.75" stop-color="#249de6"/><stop offset="0.8333" stop-color="#22a1e4"/><stop offset="0.9167" stop-color="#20a5e3"/><stop offset="1" stop-color="#20a5e3"/></linearGradient>
<linearGradient id="g165" x1="0" y1="0" x2="0" y2="1"><stop offset="0" stop-color="#2e83f9"/><stop offset="0.0833" stop-color="#2f82fa"/><stop offset="0.1667" stop-color="#3080fa"/><stop offset="0.25" stop-color="#317dfb"/><stop offset="0.3333" stop-color="#327cfc"/><stop offset="0.4167" stop-color="#327cfc"/><stop offset="0.5" stop-color="#2e86f7"/><stop offset="0.5833" stop-color="#2b91ef"/><stop offset="0.6667" stop-color="#269ae9"/><stop offset="0.75" stop-color="#249fe6"/><stop offset="0.8333" stop-color="#239fe5"/><stop offset="0.9167" stop-color="#249ee6"/><stop offset="1" stop-color="#2699ea"/></linearGradient>
<linearGradient id="g166" x1="0" y1="0" x2="0" y2="1"><stop offset="0" stop-color="#3a74fe"/><stop offset="0.0833" stop-color="#3a73fe"/><stop offset="0.1667" stop-color="#3a74fe"/><stop offset="0.25" stop-color="#3777fe"/><stop offset="0.3333" stop-color="#347afd"/><stop offset="0.4167" stop-color="#327bfc"/><stop offset="0.5" stop-color="#2e84f8"/><stop offset="0.5833" stop-color="#2d8df2"/><stop offset="0.6667" stop-color="#2a93ee"/><stop offset="0.75" stop-color="#2895ec"/><stop offset="0.8333" stop-color="#2797ea"/><stop offset="0.9167" stop-color="#259ce7"/><stop offset="1" stop-color="#23a0e5"/></linearGradient>
<linearGradient id="g167" x1="0" y1="0" x2="0" y2="1"><stop offset="0" stop-color="#3b73fe"/><stop offset="0.0833" stop-color="#3579fd"/><stop offset="0.1667" stop-color="#3080fa"/><stop offset="0.25" stop-color="#2e84f8"/><stop offset="0.3333" stop-color="#2d88f6"/><stop offset="0.4167" stop-color="#2d8bf4"/><stop offset="0.5" stop-color="#2b92ee"/><stop offset="0.5833" stop-color="#2797ea"/><stop offset="0.6667" stop-color="#259ce7"/><stop offset="0.75" stop-color="#23a0e5"/><stop offset="0.8333" stop-color="#22a1e4"/><stop offset="0.9167" stop-color="#21a3e3"/><stop offset="1" stop-color="#20a4e3"/></linearGradient>
<linearGradient id="g168" x1="0" y1="0" x2="0" y2="1"><stop offset="0" stop-color="#2e84f8"/><stop offset="0.0833" stop-color="#2f82f9"/><stop offset="0.1667" stop-color="#307ffb"/><stop offset="0.25" stop-color="#317dfc"/><stop offset="0.3333" stop-color="#317efb"/><stop offset="0.4167" stop-color="#2f81fa"/><stop offset="0.5" stop-color="#2d8bf4"/><stop offset="0.5833" stop-color="#2895ec"/><stop offset="0.6667" stop-color="#259ce7"/><stop offset="0.75" stop-color="#23a0e5"/><stop offset="0.8333" stop-color="#22a1e4"/><stop offset="0.9167" stop-color="#20a4e3"/><stop offset="1" stop-color="#20a4e3"/></linearGradient>
<linearGradient id="g169" x1="0" y1="0" x2="0" y2="1"><stop offset="0" stop-color="#2e85f8"/><stop offset="0.0833" stop-color="#317dfb"/><stop offset="0.1667" stop-color="#3678fd"/><stop offset="0.25" stop-color="#3479fd"/><stop offset="0.3333" stop-color="#317dfc"/><stop offset="0.4167" stop-color="#307efb"/><stop offset="0.5" stop-color="#2e85f8"/><stop offset="0.5833" stop-color="#2c8ff1"/><stop offset="0.6667" stop-color="#2699e9"/><stop offset="0.75" stop-color="#249fe5"/><stop offset="0.8333" stop-color="#23a0e5"/><stop offset="0.9167" stop-color="#22a2e4"/><stop offset="1" stop-color="#22a2e4"/></linearGradient>
<linearGradient id="g170" x1="0" y1="0" x2="0" y2="1"><stop offset="0" stop-color="#2e83f9"/><stop offset="0.0833" stop-color="#2f82f9"/><stop offset="0.1667" stop-color="#2f81fa"/><stop offset="0.25" stop-color="#3080fb"/><stop offset="0.3333" stop-color="#3080fa"/><stop offset="0.4167" stop-color="#2e84f9"/><stop offset="0.5" stop-color="#2d8df2"/><stop offset="0.5833" stop-color="#2994ed"/><stop offset="0.6667" stop-color="#2798ea"/><stop offset="0.75" stop-color="#259de7"/><stop offset="0.8333" stop-color="#23a0e5"/><stop offset="0.9167" stop-color="#22a2e4"/><stop offset="1" stop-color="#249fe6"/></linearGradient>
<linearGradient id="cbar" x1="0" y1="1" x2="0" y2="0"><stop offset="0.000" stop-color="#3e26a8"/><stop offset="0.031" stop-color="#422ebf"/><stop offset="0.062" stop-color="#4536d5"/><stop offset="0.094" stop-color="#4741e5"/><stop offset="0.125" stop-color="#484cef"/><stop offset="0.156" stop-color="#4757f7"/><stop offset="0.188" stop-color="#4562fc"/><stop offset="0.219" stop-color="#3f6efe"/><stop offset="0.250" stop-color="#347afd"/><stop offset="0.281" stop-color="#2e85f8"/><stop offset="0.312" stop-color="#2c90f0"/><stop offset="0.344" stop-color="#269ae9"/><stop offset="0.375" stop-color="#21a3e3"/><stop offset="0.406" stop-color="#1aacdd"/><stop offset="0.438" stop-color="#0cb3d3"/><stop offset="0.469" stop-color="#01b9c6"/><stop offset="0.500" stop-color="#12beb9"/><stop offset="0.531" stop-color="#28c2ab"/><stop offset="0.562" stop-color="#34c79c"/><stop offset="0.594" stop-color="#44ca8a"/><stop offset="0.625" stop-color="#5ccc76"/><stop offset="0.656" stop-color="#77cc60"/><stop offset="0.688" stop-color="#94ca4a"/><stop offset="0.719" stop-color="#afc637"/><stop offset="0.750" stop-color="#c8c129"/><stop offset="0.781" stop-color="#debc2a"/><stop offset="0.812" stop-color="#f1ba37"/><stop offset="0.844" stop-color="#febe3c"/><stop offset="0.875" stop-color="#feca33"/><stop offset="0.906" stop-color="#f9d62d"/><stop offset="0.938" stop-color="#f5e327"/><stop offset="0.969" stop-color="#f6ef20"/><stop offset="1.000" stop-color="#f9fb15"/></linearGradient>
<filter id="wobA" x="-0.1" y="-0.01" width="1.2" height="1.02" color-interpolation-filters="sRGB"><feTurbulence type="fractalNoise" baseFrequency="0.45 0.2" numOctaves="2" seed="4" result="t"/><feDisplacementMap in="SourceGraphic" in2="t" scale="4.5" xChannelSelector="R" yChannelSelector="G"/><feGaussianBlur stdDeviation="0.8"/></filter>
<filter id="wobC" x="-0.1" y="-0.01" width="1.2" height="1.02" color-interpolation-filters="sRGB"><feTurbulence type="fractalNoise" baseFrequency="0.4 0.15" numOctaves="2" seed="9" result="t"/><feDisplacementMap in="SourceGraphic" in2="t" scale="2.2" xChannelSelector="R" yChannelSelector="G"/><feGaussianBlur stdDeviation="0.8"/></filter>
</defs>
<g transform="translate(0,0)">
<line x1="213.5" y1="1.7" x2="213.5" y2="778" stroke="#dedede" stroke-width="1.2"/>
<line x1="299.4" y1="1.7" x2="299.4" y2="778" stroke="#dedede" stroke-width="1.2"/>
<line x1="127.1" y1="742.6" x2="342.6" y2="742.6" stroke="#dedede" stroke-width="1.2"/>
<line x1="127.1" y1="771.9" x2="342.6" y2="771.9" stroke="#dedede" stroke-width="1.2"/>
<path d="M128,35.2 L321,35.2 L323,34.2 L342,34.2 L342,714.4 L311,714.4 L309,715.4 L128,715.4 Z" fill="#b3b3b3"/>
<path d="M128,35.2 L321,35.2 L323,34.2 L342,34.2" fill="none" stroke="#939393" stroke-width="1.5"/>
<line x1="213.5" y1="36" x2="213.5" y2="715" stroke="#9d9d9d" stroke-width="1.2"/>
<line x1="299.4" y1="36" x2="299.4" y2="715" stroke="#9d9d9d" stroke-width="1.2"/>
<line x1="128" y1="602.5" x2="342" y2="602.5" stroke="#9d9d9d" stroke-width="1.2"/>
<line x1="128" y1="521.4" x2="342" y2="521.4" stroke="#9d9d9d" stroke-width="1.2"/>
<line x1="128" y1="440.4" x2="342" y2="440.4" stroke="#9d9d9d" stroke-width="1.2"/>
<line x1="128" y1="359.3" x2="342" y2="359.3" stroke="#9d9d9d" stroke-width="1.2"/>
<line x1="128" y1="278.2" x2="342" y2="278.2" stroke="#9d9d9d" stroke-width="1.2"/>
<line x1="128" y1="197.2" x2="342" y2="197.2" stroke="#9d9d9d" stroke-width="1.2"/>
<line x1="128" y1="116.1" x2="342" y2="116.1" stroke="#9d9d9d" stroke-width="1.2"/>
<line x1="127" y1="683.4" x2="361" y2="683.4" stroke="#1a1a1a" stroke-width="1.4"/>
<path d="M200.7,87 L235.8,54.8 L240.5,48.5 L244.6,40.8 L244.6,719.5 L241,727 L236.4,734.8 L200.7,768 Z" fill="#000" fill-opacity="0.5"/>
<path d="M274.8,87 L235.8,54.8 L230.5,48.5 L226.3,40.8 L226.3,719.5 L231,727 L236.4,734.8 L274.8,768 Z" fill="#000" fill-opacity="0.5"/>
<line x1="229" y1="683.4" x2="243.5" y2="683.4" stroke="#111" stroke-width="1.4"/>
<g clip-path="url(#cla)">
<g filter="url(#wobA)">
<rect x="199.8" y="97" width="2.6" height="640" fill="url(#g1)"/>
<rect x="200.8" y="97" width="2.6" height="640" fill="url(#g2)"/>
<rect x="201.8" y="97" width="2.6" height="640" fill="url(#g3)"/>
<rect x="202.8" y="97" width="2.6" height="640" fill="url(#g4)"/>
<rect x="203.8" y="97" width="2.6" height="640" fill="url(#g5)"/>
<rect x="204.8" y="97" width="2.6" height="640" fill="url(#g6)"/>
<rect x="205.8" y="97" width="2.6" height="640" fill="url(#g7)"/>
<rect x="206.8" y="97" width="2.6" height="640" fill="url(#g8)"/>
<rect x="207.8" y="97" width="2.6" height="640" fill="url(#g9)"/>
<rect x="208.8" y="97" width="2.6" height="640" fill="url(#g10)"/>
<rect x="209.8" y="97" width="2.6" height="640" fill="url(#g11)"/>
<rect x="210.8" y="97" width="2.6" height="640" fill="url(#g12)"/>
<rect x="211.8" y="97" width="2.6" height="640" fill="url(#g13)"/>
<rect x="212.8" y="97" width="2.6" height="640" fill="url(#g14)"/>
<rect x="213.8" y="97" width="2.6" height="640" fill="url(#g15)"/>
<rect x="214.8" y="97" width="2.6" height="640" fill="url(#g16)"/>
<rect x="215.8" y="97" width="2.6" height="640" fill="url(#g17)"/>
<rect x="216.8" y="97" width="2.6" height="640" fill="url(#g18)"/>
<rect x="217.8" y="97" width="2.6" height="640" fill="url(#g19)"/>
<rect x="218.8" y="97" width="2.6" height="640" fill="url(#g20)"/>
<rect x="219.8" y="97" width="2.6" height="640" fill="url(#g21)"/>
<rect x="220.8" y="97" width="2.6" height="640" fill="url(#g22)"/>
<rect x="221.8" y="97" width="2.6" height="640" fill="url(#g23)"/>
<rect x="222.8" y="97" width="2.6" height="640" fill="url(#g24)"/>
<rect x="223.8" y="97" width="2.6" height="640" fill="url(#g25)"/>
<rect x="224.8" y="97" width="2.6" height="640" fill="url(#g26)"/>
<rect x="225.8" y="97" width="2.6" height="640" fill="url(#g27)"/>
<rect x="226.8" y="97" width="2.6" height="640" fill="url(#g28)"/>
<rect x="227.8" y="97" width="2.6" height="640" fill="url(#g29)"/>
<rect x="228.8" y="97" width="2.6" height="640" fill="url(#g30)"/>
<rect x="229.8" y="97" width="2.6" height="640" fill="url(#g31)"/>
<rect x="230.8" y="97" width="2.6" height="640" fill="url(#g32)"/>
</g>
</g>
<g clip-path="url(#cra)">
<g filter="url(#wobA)">
<rect x="240.8" y="97" width="2.6" height="640" fill="url(#g33)"/>
<rect x="241.8" y="97" width="2.6" height="640" fill="url(#g34)"/>
<rect x="242.8" y="97" width="2.6" height="640" fill="url(#g35)"/>
<rect x="243.8" y="97" width="2.6" height="640" fill="url(#g36)"/>
<rect x="244.8" y="97" width="2.6" height="640" fill="url(#g37)"/>
<rect x="245.8" y="97" width="2.6" height="640" fill="url(#g38)"/>
<rect x="246.8" y="97" width="2.6" height="640" fill="url(#g39)"/>
<rect x="247.8" y="97" width="2.6" height="640" fill="url(#g40)"/>
<rect x="248.8" y="97" width="2.6" height="640" fill="url(#g41)"/>
<rect x="249.8" y="97" width="2.6" height="640" fill="url(#g42)"/>
<rect x="250.8" y="97" width="2.6" height="640" fill="url(#g43)"/>
<rect x="251.8" y="97" width="2.6" height="640" fill="url(#g44)"/>
<rect x="252.8" y="97" width="2.6" height="640" fill="url(#g45)"/>
<rect x="253.8" y="97" width="2.6" height="640" fill="url(#g46)"/>
<rect x="254.8" y="97" width="2.6" height="640" fill="url(#g47)"/>
<rect x="255.8" y="97" width="2.6" height="640" fill="url(#g48)"/>
<rect x="256.8" y="97" width="2.6" height="640" fill="url(#g49)"/>
<rect x="257.8" y="97" width="2.6" height="640" fill="url(#g50)"/>
<rect x="258.8" y="97" width="2.6" height="640" fill="url(#g51)"/>
<rect x="259.8" y="97" width="2.6" height="640" fill="url(#g52)"/>
<rect x="260.8" y="97" width="2.6" height="640" fill="url(#g53)"/>
<rect x="261.8" y="97" width="2.6" height="640" fill="url(#g54)"/>
<rect x="262.8" y="97" width="2.6" height="640" fill="url(#g55)"/>
<rect x="263.8" y="97" width="2.6" height="640" fill="url(#g56)"/>
<rect x="264.8" y="97" width="2.6" height="640" fill="url(#g57)"/>
<rect x="265.8" y="97" width="2.6" height="640" fill="url(#g58)"/>
<rect x="266.8" y="97" width="2.6" height="640" fill="url(#g59)"/>
<rect x="267.8" y="97" width="2.6" height="640" fill="url(#g60)"/>
<rect x="268.8" y="97" width="2.6" height="640" fill="url(#g61)"/>
<rect x="269.8" y="97" width="2.6" height="640" fill="url(#g62)"/>
<rect x="270.8" y="97" width="2.6" height="640" fill="url(#g63)"/>
<rect x="271.8" y="97" width="2.6" height="640" fill="url(#g64)"/>
<rect x="272.8" y="97" width="2.6" height="640" fill="url(#g65)"/>
<rect x="273.8" y="97" width="2.6" height="640" fill="url(#g66)"/>
<rect x="274.8" y="97" width="2.6" height="640" fill="url(#g67)"/>
<rect x="275.8" y="97" width="2.6" height="640" fill="url(#g68)"/>
</g>
</g>
<path d="M127.1,778 L127.1,1.7" fill="none" stroke="#5c5c5c" stroke-width="2"/>
<path d="M342.6,1.7 L342.6,778" fill="none" stroke="#3a3a3a" stroke-width="2"/>
<path d="M126.1,1.7 L343.6,1.7" fill="none" stroke="#3c3c3c" stroke-width="1.6"/>
<line x1="109.4" y1="778.2" x2="343.5" y2="778.2" stroke="#222" stroke-width="2.6"/>
<line x1="109" y1="778.1" x2="127" y2="778.1" stroke="#333" stroke-width="1.6"/>
<text transform="translate(96.8,791.2) scale(1.015,1.075)" font-size="33" text-anchor="end" fill="#262626">0</text>
<line x1="109" y1="697" x2="127" y2="697" stroke="#333" stroke-width="1.6"/>
<text transform="translate(96.8,710.1) scale(1.015,1.075)" font-size="33" text-anchor="end" fill="#262626">50</text>
<line x1="109" y1="615.9" x2="127" y2="615.9" stroke="#333" stroke-width="1.6"/>
<text transform="translate(96.8,629) scale(1.015,1.075)" font-size="33" text-anchor="end" fill="#262626">100</text>
<line x1="109" y1="534.8" x2="127" y2="534.8" stroke="#333" stroke-width="1.6"/>
<text transform="translate(96.8,547.9) scale(1.015,1.075)" font-size="33" text-anchor="end" fill="#262626">150</text>
<line x1="109" y1="453.7" x2="127" y2="453.7" stroke="#333" stroke-width="1.6"/>
<text transform="translate(96.8,466.8) scale(1.015,1.075)" font-size="33" text-anchor="end" fill="#262626">200</text>
<line x1="109" y1="372.6" x2="127" y2="372.6" stroke="#333" stroke-width="1.6"/>
<text transform="translate(96.8,385.7) scale(1.015,1.075)" font-size="33" text-anchor="end" fill="#262626">250</text>
<line x1="109" y1="291.5" x2="127" y2="291.5" stroke="#333" stroke-width="1.6"/>
<text transform="translate(96.8,304.6) scale(1.015,1.075)" font-size="33" text-anchor="end" fill="#262626">300</text>
<line x1="109" y1="210.4" x2="127" y2="210.4" stroke="#333" stroke-width="1.6"/>
<text transform="translate(96.8,223.5) scale(1.015,1.075)" font-size="33" text-anchor="end" fill="#262626">350</text>
<line x1="109" y1="129.3" x2="127" y2="129.3" stroke="#333" stroke-width="1.6"/>
<text transform="translate(96.8,142.4) scale(1.015,1.075)" font-size="33" text-anchor="end" fill="#262626">400</text>
<line x1="127.4" y1="778" x2="127.4" y2="795.5" stroke="#333" stroke-width="1.6"/>
<text transform="translate(128.2,838.4) scale(1.015,1.075)" font-size="33" text-anchor="middle" fill="#262626">50</text>
<line x1="213.4" y1="778" x2="213.4" y2="795.5" stroke="#333" stroke-width="1.6"/>
<text transform="translate(212.7,838.4) scale(1.015,1.075)" font-size="33" text-anchor="middle" fill="#262626">0</text>
<line x1="299.6" y1="778" x2="299.6" y2="795.5" stroke="#333" stroke-width="1.6"/>
<text transform="translate(300.4,838.4) scale(1.015,1.075)" font-size="33" text-anchor="middle" fill="#262626">-50</text>
<line x1="343" y1="713.6" x2="361" y2="713.6" stroke="#333" stroke-width="1.6"/>
<line x1="343" y1="742.7" x2="361" y2="742.7" stroke="#333" stroke-width="1.6"/>
<line x1="343" y1="771.7" x2="361" y2="771.7" stroke="#333" stroke-width="1.6"/>
<text transform="translate(373,715.8) scale(1.015,1.075)" font-size="33" fill="#262626">-850</text>
<text transform="translate(373,745.5) scale(1.015,1.075)" font-size="33" fill="#262626">-900</text>
<text transform="translate(373,775.2) scale(1.015,1.075)" font-size="33" fill="#262626">-950</text>
<text transform="translate(373,804.9) scale(1.015,1.075)" font-size="33" fill="#262626">-1000</text>
<text transform="translate(31,438.5) rotate(-90)" font-size="36" text-anchor="middle" fill="#262626">z / mm</text>
<text x="83" y="868.7" font-size="36.5" fill="#262626">y / mm</text>
<text x="479.3" y="845.6" font-size="36.5" fill="#262626">x / mm</text>
</g>
<rect x="467.4" y="217.6" width="18.2" height="379.2" fill="url(#cbar)" stroke="#333" stroke-width="1"/>
<text x="498.4" y="225.9" font-size="24" fill="#262626">b</text>
<text x="498.4" y="605.1" font-size="24" fill="#262626">a</text>
<text x="498.4" y="392.3" font-size="24" fill="#262626">0</text>
<line x1="482.4" y1="384" x2="485.6" y2="384" stroke="#333" stroke-width="1"/>
<text transform="translate(550.3,384) rotate(-90)" font-size="27.3" text-anchor="middle" fill="#262626">scale of residuals / µm</text>
<g transform="translate(681.9,0)">
<line x1="213.5" y1="1.7" x2="213.5" y2="778" stroke="#dedede" stroke-width="1.2"/>
<line x1="299.4" y1="1.7" x2="299.4" y2="778" stroke="#dedede" stroke-width="1.2"/>
<line x1="127.1" y1="742.6" x2="342.6" y2="742.6" stroke="#dedede" stroke-width="1.2"/>
<line x1="127.1" y1="771.9" x2="342.6" y2="771.9" stroke="#dedede" stroke-width="1.2"/>
<path d="M128,35.2 L321,35.2 L323,34.2 L342,34.2 L342,714.4 L311,714.4 L309,715.4 L128,715.4 Z" fill="#b3b3b3"/>
<path d="M128,35.2 L321,35.2 L323,34.2 L342,34.2" fill="none" stroke="#939393" stroke-width="1.5"/>
<line x1="213.5" y1="36" x2="213.5" y2="715" stroke="#9d9d9d" stroke-width="1.2"/>
<line x1="299.4" y1="36" x2="299.4" y2="715" stroke="#9d9d9d" stroke-width="1.2"/>
<line x1="128" y1="602.5" x2="342" y2="602.5" stroke="#9d9d9d" stroke-width="1.2"/>
<line x1="128" y1="521.4" x2="342" y2="521.4" stroke="#9d9d9d" stroke-width="1.2"/>
<line x1="128" y1="440.4" x2="342" y2="440.4" stroke="#9d9d9d" stroke-width="1.2"/>
<line x1="128" y1="359.3" x2="342" y2="359.3" stroke="#9d9d9d" stroke-width="1.2"/>
<line x1="128" y1="278.2" x2="342" y2="278.2" stroke="#9d9d9d" stroke-width="1.2"/>
<line x1="128" y1="197.2" x2="342" y2="197.2" stroke="#9d9d9d" stroke-width="1.2"/>
<line x1="128" y1="116.1" x2="342" y2="116.1" stroke="#9d9d9d" stroke-width="1.2"/>
<line x1="127" y1="683.4" x2="361" y2="683.4" stroke="#1a1a1a" stroke-width="1.4"/>
<path d="M200.7,87 L235.8,54.8 L240.5,48.5 L244.6,40.8 L244.6,719.5 L241,727 L236.4,734.8 L200.7,768 Z" fill="#000" fill-opacity="0.5"/>
<path d="M274.8,87 L235.8,54.8 L230.5,48.5 L226.3,40.8 L226.3,719.5 L231,727 L236.4,734.8 L274.8,768 Z" fill="#000" fill-opacity="0.5"/>
<line x1="229" y1="683.4" x2="243.5" y2="683.4" stroke="#111" stroke-width="1.4"/>
<g clip-path="url(#clb)">
<rect x="199.8" y="97" width="3.6" height="640" fill="url(#g69)"/>
<rect x="201.8" y="97" width="3.6" height="640" fill="url(#g70)"/>
<rect x="203.8" y="97" width="3.6" height="640" fill="url(#g71)"/>
<rect x="205.8" y="97" width="3.6" height="640" fill="url(#g72)"/>
<rect x="207.8" y="97" width="3.6" height="640" fill="url(#g73)"/>
<rect x="209.8" y="97" width="3.6" height="640" fill="url(#g74)"/>
<rect x="211.8" y="97" width="3.6" height="640" fill="url(#g75)"/>
<rect x="213.8" y="97" width="3.6" height="640" fill="url(#g76)"/>
<rect x="215.8" y="97" width="3.6" height="640" fill="url(#g77)"/>
<rect x="217.8" y="97" width="3.6" height="640" fill="url(#g78)"/>
<rect x="219.8" y="97" width="3.6" height="640" fill="url(#g79)"/>
<rect x="221.8" y="97" width="3.6" height="640" fill="url(#g80)"/>
<rect x="223.8" y="97" width="3.6" height="640" fill="url(#g81)"/>
<rect x="225.8" y="97" width="3.6" height="640" fill="url(#g82)"/>
<rect x="227.8" y="97" width="3.6" height="640" fill="url(#g83)"/>
<rect x="229.8" y="97" width="3.6" height="640" fill="url(#g84)"/>
</g>
<g clip-path="url(#crb)">
<rect x="240.8" y="97" width="3.6" height="640" fill="url(#g85)"/>
<rect x="242.8" y="97" width="3.6" height="640" fill="url(#g86)"/>
<rect x="244.8" y="97" width="3.6" height="640" fill="url(#g87)"/>
<rect x="246.8" y="97" width="3.6" height="640" fill="url(#g88)"/>
<rect x="248.8" y="97" width="3.6" height="640" fill="url(#g89)"/>
<rect x="250.8" y="97" width="3.6" height="640" fill="url(#g90)"/>
<rect x="252.8" y="97" width="3.6" height="640" fill="url(#g91)"/>
<rect x="254.8" y="97" width="3.6" height="640" fill="url(#g92)"/>
<rect x="256.8" y="97" width="3.6" height="640" fill="url(#g93)"/>
<rect x="258.8" y="97" width="3.6" height="640" fill="url(#g94)"/>
<rect x="260.8" y="97" width="3.6" height="640" fill="url(#g95)"/>
<rect x="262.8" y="97" width="3.6" height="640" fill="url(#g96)"/>
<rect x="264.8" y="97" width="3.6" height="640" fill="url(#g97)"/>
<rect x="266.8" y="97" width="3.6" height="640" fill="url(#g98)"/>
<rect x="268.8" y="97" width="3.6" height="640" fill="url(#g99)"/>
<rect x="270.8" y="97" width="3.6" height="640" fill="url(#g100)"/>
<rect x="272.8" y="97" width="3.6" height="640" fill="url(#g101)"/>
<rect x="274.8" y="97" width="3.6" height="640" fill="url(#g102)"/>
</g>
<path d="M127.1,778 L127.1,1.7" fill="none" stroke="#5c5c5c" stroke-width="2"/>
<path d="M342.6,1.7 L342.6,778" fill="none" stroke="#3a3a3a" stroke-width="2"/>
<path d="M126.1,1.7 L343.6,1.7" fill="none" stroke="#3c3c3c" stroke-width="1.6"/>
<line x1="109.4" y1="778.2" x2="343.5" y2="778.2" stroke="#222" stroke-width="2.6"/>
<line x1="109" y1="778.1" x2="127" y2="778.1" stroke="#333" stroke-width="1.6"/>
<text transform="translate(96.8,791.2) scale(1.015,1.075)" font-size="33" text-anchor="end" fill="#262626">0</text>
<line x1="109" y1="697" x2="127" y2="697" stroke="#333" stroke-width="1.6"/>
<text transform="translate(96.8,710.1) scale(1.015,1.075)" font-size="33" text-anchor="end" fill="#262626">50</text>
<line x1="109" y1="615.9" x2="127" y2="615.9" stroke="#333" stroke-width="1.6"/>
<text transform="translate(96.8,629) scale(1.015,1.075)" font-size="33" text-anchor="end" fill="#262626">100</text>
<line x1="109" y1="534.8" x2="127" y2="534.8" stroke="#333" stroke-width="1.6"/>
<text transform="translate(96.8,547.9) scale(1.015,1.075)" font-size="33" text-anchor="end" fill="#262626">150</text>
<line x1="109" y1="453.7" x2="127" y2="453.7" stroke="#333" stroke-width="1.6"/>
<text transform="translate(96.8,466.8) scale(1.015,1.075)" font-size="33" text-anchor="end" fill="#262626">200</text>
<line x1="109" y1="372.6" x2="127" y2="372.6" stroke="#333" stroke-width="1.6"/>
<text transform="translate(96.8,385.7) scale(1.015,1.075)" font-size="33" text-anchor="end" fill="#262626">250</text>
<line x1="109" y1="291.5" x2="127" y2="291.5" stroke="#333" stroke-width="1.6"/>
<text transform="translate(96.8,304.6) scale(1.015,1.075)" font-size="33" text-anchor="end" fill="#262626">300</text>
<line x1="109" y1="210.4" x2="127" y2="210.4" stroke="#333" stroke-width="1.6"/>
<text transform="translate(96.8,223.5) scale(1.015,1.075)" font-size="33" text-anchor="end" fill="#262626">350</text>
<line x1="109" y1="129.3" x2="127" y2="129.3" stroke="#333" stroke-width="1.6"/>
<text transform="translate(96.8,142.4) scale(1.015,1.075)" font-size="33" text-anchor="end" fill="#262626">400</text>
<line x1="127.4" y1="778" x2="127.4" y2="795.5" stroke="#333" stroke-width="1.6"/>
<text transform="translate(128.2,838.4) scale(1.015,1.075)" font-size="33" text-anchor="middle" fill="#262626">50</text>
<line x1="213.4" y1="778" x2="213.4" y2="795.5" stroke="#333" stroke-width="1.6"/>
<text transform="translate(212.7,838.4) scale(1.015,1.075)" font-size="33" text-anchor="middle" fill="#262626">0</text>
<line x1="299.6" y1="778" x2="299.6" y2="795.5" stroke="#333" stroke-width="1.6"/>
<text transform="translate(300.4,838.4) scale(1.015,1.075)" font-size="33" text-anchor="middle" fill="#262626">-50</text>
<line x1="343" y1="713.6" x2="361" y2="713.6" stroke="#333" stroke-width="1.6"/>
<line x1="343" y1="742.7" x2="361" y2="742.7" stroke="#333" stroke-width="1.6"/>
<line x1="343" y1="771.7" x2="361" y2="771.7" stroke="#333" stroke-width="1.6"/>
<text transform="translate(373,715.8) scale(1.015,1.075)" font-size="33" fill="#262626">-850</text>
<text transform="translate(373,745.5) scale(1.015,1.075)" font-size="33" fill="#262626">-900</text>
<text transform="translate(373,775.2) scale(1.015,1.075)" font-size="33" fill="#262626">-950</text>
<text transform="translate(373,804.9) scale(1.015,1.075)" font-size="33" fill="#262626">-1000</text>
<text transform="translate(31,438.5) rotate(-90)" font-size="36" text-anchor="middle" fill="#262626">z / mm</text>
<text x="83" y="868.7" font-size="36.5" fill="#262626">y / mm</text>
<text x="479.3" y="845.6" font-size="36.5" fill="#262626">x / mm</text>
</g>
<rect x="1149.2" y="217.6" width="18.2" height="379.2" fill="url(#cbar)" stroke="#333" stroke-width="1"/>
<text x="1180.2" y="225.9" font-size="24" fill="#262626">d</text>
<text x="1180.2" y="605.1" font-size="24" fill="#262626">c</text>
<text x="1180.2" y="370.1" font-size="24" fill="#262626">0</text>
<line x1="1164.2" y1="361.8" x2="1167.4" y2="361.8" stroke="#333" stroke-width="1"/>
<text transform="translate(1231.5,361.2) rotate(-90)" font-size="27.3" text-anchor="middle" fill="#262626">scale of residuals / µm</text>
<g transform="translate(-4.6,981.6)">
<line x1="213.5" y1="1.7" x2="213.5" y2="778" stroke="#dedede" stroke-width="1.2"/>
<line x1="299.4" y1="1.7" x2="299.4" y2="778" stroke="#dedede" stroke-width="1.2"/>
<line x1="127.1" y1="742.6" x2="342.6" y2="742.6" stroke="#dedede" stroke-width="1.2"/>
<line x1="127.1" y1="771.9" x2="342.6" y2="771.9" stroke="#dedede" stroke-width="1.2"/>
<path d="M128,35.2 L321,35.2 L323,34.2 L342,34.2 L342,714.4 L311,714.4 L309,715.4 L128,715.4 Z" fill="#b3b3b3"/>
<path d="M128,35.2 L321,35.2 L323,34.2 L342,34.2" fill="none" stroke="#939393" stroke-width="1.5"/>
<line x1="213.5" y1="36" x2="213.5" y2="715" stroke="#9d9d9d" stroke-width="1.2"/>
<line x1="299.4" y1="36" x2="299.4" y2="715" stroke="#9d9d9d" stroke-width="1.2"/>
<line x1="128" y1="602.5" x2="342" y2="602.5" stroke="#9d9d9d" stroke-width="1.2"/>
<line x1="128" y1="521.4" x2="342" y2="521.4" stroke="#9d9d9d" stroke-width="1.2"/>
<line x1="128" y1="440.4" x2="342" y2="440.4" stroke="#9d9d9d" stroke-width="1.2"/>
<line x1="128" y1="359.3" x2="342" y2="359.3" stroke="#9d9d9d" stroke-width="1.2"/>
<line x1="128" y1="278.2" x2="342" y2="278.2" stroke="#9d9d9d" stroke-width="1.2"/>
<line x1="128" y1="197.2" x2="342" y2="197.2" stroke="#9d9d9d" stroke-width="1.2"/>
<line x1="128" y1="116.1" x2="342" y2="116.1" stroke="#9d9d9d" stroke-width="1.2"/>
<line x1="127" y1="683.4" x2="361" y2="683.4" stroke="#1a1a1a" stroke-width="1.4"/>
<path d="M200.7,87 L235.8,54.8 L240.5,48.5 L244.6,40.8 L244.6,719.5 L241,727 L236.4,734.8 L200.7,768 Z" fill="#000" fill-opacity="0.5"/>
<path d="M274.8,87 L235.8,54.8 L230.5,48.5 L226.3,40.8 L226.3,719.5 L231,727 L236.4,734.8 L274.8,768 Z" fill="#000" fill-opacity="0.5"/>
<line x1="229" y1="683.4" x2="243.5" y2="683.4" stroke="#111" stroke-width="1.4"/>
<g clip-path="url(#clc)">
<g filter="url(#wobC)">
<rect x="199.8" y="97" width="2.6" height="696" fill="url(#g103)"/>
<rect x="200.8" y="97" width="2.6" height="696" fill="url(#g104)"/>
<rect x="201.8" y="97" width="2.6" height="696" fill="url(#g105)"/>
<rect x="202.8" y="97" width="2.6" height="696" fill="url(#g106)"/>
<rect x="203.8" y="97" width="2.6" height="696" fill="url(#g107)"/>
<rect x="204.8" y="97" width="2.6" height="696" fill="url(#g108)"/>
<rect x="205.8" y="97" width="2.6" height="696" fill="url(#g109)"/>
<rect x="206.8" y="97" width="2.6" height="696" fill="url(#g110)"/>
<rect x="207.8" y="97" width="2.6" height="696" fill="url(#g111)"/>
<rect x="208.8" y="97" width="2.6" height="696" fill="url(#g112)"/>
<rect x="209.8" y="97" width="2.6" height="696" fill="url(#g113)"/>
<rect x="210.8" y="97" width="2.6" height="696" fill="url(#g114)"/>
<rect x="211.8" y="97" width="2.6" height="696" fill="url(#g115)"/>
<rect x="212.8" y="97" width="2.6" height="696" fill="url(#g116)"/>
<rect x="213.8" y="97" width="2.6" height="696" fill="url(#g117)"/>
<rect x="214.8" y="97" width="2.6" height="696" fill="url(#g118)"/>
<rect x="215.8" y="97" width="2.6" height="696" fill="url(#g119)"/>
<rect x="216.8" y="97" width="2.6" height="696" fill="url(#g120)"/>
<rect x="217.8" y="97" width="2.6" height="696" fill="url(#g121)"/>
<rect x="218.8" y="97" width="2.6" height="696" fill="url(#g122)"/>
<rect x="219.8" y="97" width="2.6" height="696" fill="url(#g123)"/>
<rect x="220.8" y="97" width="2.6" height="696" fill="url(#g124)"/>
<rect x="221.8" y="97" width="2.6" height="696" fill="url(#g125)"/>
<rect x="222.8" y="97" width="2.6" height="696" fill="url(#g126)"/>
<rect x="223.8" y="97" width="2.6" height="696" fill="url(#g127)"/>
<rect x="224.8" y="97" width="2.6" height="696" fill="url(#g128)"/>
<rect x="225.8" y="97" width="2.6" height="696" fill="url(#g129)"/>
<rect x="226.8" y="97" width="2.6" height="696" fill="url(#g130)"/>
<rect x="227.8" y="97" width="2.6" height="696" fill="url(#g131)"/>
<rect x="228.8" y="97" width="2.6" height="696" fill="url(#g132)"/>
<rect x="229.8" y="97" width="2.6" height="696" fill="url(#g133)"/>
<rect x="230.8" y="97" width="2.6" height="696" fill="url(#g134)"/>
</g>
</g>
<g clip-path="url(#crc)">
<g filter="url(#wobC)">
<rect x="240.8" y="97" width="2.6" height="696" fill="url(#g135)"/>
<rect x="241.8" y="97" width="2.6" height="696" fill="url(#g136)"/>
<rect x="242.8" y="97" width="2.6" height="696" fill="url(#g137)"/>
<rect x="243.8" y="97" width="2.6" height="696" fill="url(#g138)"/>
<rect x="244.8" y="97" width="2.6" height="696" fill="url(#g139)"/>
<rect x="245.8" y="97" width="2.6" height="696" fill="url(#g140)"/>
<rect x="246.8" y="97" width="2.6" height="696" fill="url(#g141)"/>
<rect x="247.8" y="97" width="2.6" height="696" fill="url(#g142)"/>
<rect x="248.8" y="97" width="2.6" height="696" fill="url(#g143)"/>
<rect x="249.8" y="97" width="2.6" height="696" fill="url(#g144)"/>
<rect x="250.8" y="97" width="2.6" height="696" fill="url(#g145)"/>
<rect x="251.8" y="97" width="2.6" height="696" fill="url(#g146)"/>
<rect x="252.8" y="97" width="2.6" height="696" fill="url(#g147)"/>
<rect x="253.8" y="97" width="2.6" height="696" fill="url(#g148)"/>
<rect x="254.8" y="97" width="2.6" height="696" fill="url(#g149)"/>
<rect x="255.8" y="97" width="2.6" height="696" fill="url(#g150)"/>
<rect x="256.8" y="97" width="2.6" height="696" fill="url(#g151)"/>
<rect x="257.8" y="97" width="2.6" height="696" fill="url(#g152)"/>
<rect x="258.8" y="97" width="2.6" height="696" fill="url(#g153)"/>
<rect x="259.8" y="97" width="2.6" height="696" fill="url(#g154)"/>
<rect x="260.8" y="97" width="2.6" height="696" fill="url(#g155)"/>
<rect x="261.8" y="97" width="2.6" height="696" fill="url(#g156)"/>
<rect x="262.8" y="97" width="2.6" height="696" fill="url(#g157)"/>
<rect x="263.8" y="97" width="2.6" height="696" fill="url(#g158)"/>
<rect x="264.8" y="97" width="2.6" height="696" fill="url(#g159)"/>
<rect x="265.8" y="97" width="2.6" height="696" fill="url(#g160)"/>
<rect x="266.8" y="97" width="2.6" height="696" fill="url(#g161)"/>
<rect x="267.8" y="97" width="2.6" height="696" fill="url(#g162)"/>
<rect x="268.8" y="97" width="2.6" height="696" fill="url(#g163)"/>
<rect x="269.8" y="97" width="2.6" height="696" fill="url(#g164)"/>
<rect x="270.8" y="97" width="2.6" height="696" fill="url(#g165)"/>
<rect x="271.8" y="97" width="2.6" height="696" fill="url(#g166)"/>
<rect x="272.8" y="97" width="2.6" height="696" fill="url(#g167)"/>
<rect x="273.8" y="97" width="2.6" height="696" fill="url(#g168)"/>
<rect x="274.8" y="97" width="2.6" height="696" fill="url(#g169)"/>
<rect x="275.8" y="97" width="2.6" height="696" fill="url(#g170)"/>
</g>
</g>
<path d="M127.1,778 L127.1,1.7" fill="none" stroke="#5c5c5c" stroke-width="2"/>
<path d="M342.6,1.7 L342.6,778" fill="none" stroke="#3a3a3a" stroke-width="2"/>
<path d="M126.1,1.7 L343.6,1.7" fill="none" stroke="#3c3c3c" stroke-width="1.6"/>
<line x1="109.4" y1="778.2" x2="343.5" y2="778.2" stroke="#222" stroke-width="2.6"/>
<line x1="109" y1="778.1" x2="127" y2="778.1" stroke="#333" stroke-width="1.6"/>
<text transform="translate(96.8,791.2) scale(1.015,1.075)" font-size="33" text-anchor="end" fill="#262626">0</text>
<line x1="109" y1="697" x2="127" y2="697" stroke="#333" stroke-width="1.6"/>
<text transform="translate(96.8,710.1) scale(1.015,1.075)" font-size="33" text-anchor="end" fill="#262626">50</text>
<line x1="109" y1="615.9" x2="127" y2="615.9" stroke="#333" stroke-width="1.6"/>
<text transform="translate(96.8,629) scale(1.015,1.075)" font-size="33" text-anchor="end" fill="#262626">100</text>
<line x1="109" y1="534.8" x2="127" y2="534.8" stroke="#333" stroke-width="1.6"/>
<text transform="translate(96.8,547.9) scale(1.015,1.075)" font-size="33" text-anchor="end" fill="#262626">150</text>
<line x1="109" y1="453.7" x2="127" y2="453.7" stroke="#333" stroke-width="1.6"/>
<text transform="translate(96.8,466.8) scale(1.015,1.075)" font-size="33" text-anchor="end" fill="#262626">200</text>
<line x1="109" y1="372.6" x2="127" y2="372.6" stroke="#333" stroke-width="1.6"/>
<text transform="translate(96.8,385.7) scale(1.015,1.075)" font-size="33" text-anchor="end" fill="#262626">250</text>
<line x1="109" y1="291.5" x2="127" y2="291.5" stroke="#333" stroke-width="1.6"/>
<text transform="translate(96.8,304.6) scale(1.015,1.075)" font-size="33" text-anchor="end" fill="#262626">300</text>
<line x1="109" y1="210.4" x2="127" y2="210.4" stroke="#333" stroke-width="1.6"/>
<text transform="translate(96.8,223.5) scale(1.015,1.075)" font-size="33" text-anchor="end" fill="#262626">350</text>
<line x1="109" y1="129.3" x2="127" y2="129.3" stroke="#333" stroke-width="1.6"/>
<text transform="translate(96.8,142.4) scale(1.015,1.075)" font-size="33" text-anchor="end" fill="#262626">400</text>
<line x1="127.4" y1="778" x2="127.4" y2="795.5" stroke="#333" stroke-width="1.6"/>
<text transform="translate(128.2,838.4) scale(1.015,1.075)" font-size="33" text-anchor="middle" fill="#262626">50</text>
<line x1="213.4" y1="778" x2="213.4" y2="795.5" stroke="#333" stroke-width="1.6"/>
<text transform="translate(212.7,838.4) scale(1.015,1.075)" font-size="33" text-anchor="middle" fill="#262626">0</text>
<line x1="299.6" y1="778" x2="299.6" y2="795.5" stroke="#333" stroke-width="1.6"/>
<text transform="translate(300.4,838.4) scale(1.015,1.075)" font-size="33" text-anchor="middle" fill="#262626">-50</text>
<line x1="343" y1="713.6" x2="361" y2="713.6" stroke="#333" stroke-width="1.6"/>
<line x1="343" y1="742.7" x2="361" y2="742.7" stroke="#333" stroke-width="1.6"/>
<line x1="343" y1="771.7" x2="361" y2="771.7" stroke="#333" stroke-width="1.6"/>
<text transform="translate(373,715.8) scale(1.015,1.075)" font-size="33" fill="#262626">-850</text>
<text transform="translate(373,745.5) scale(1.015,1.075)" font-size="33" fill="#262626">-900</text>
<text transform="translate(373,775.2) scale(1.015,1.075)" font-size="33" fill="#262626">-950</text>
<text transform="translate(373,804.9) scale(1.015,1.075)" font-size="33" fill="#262626">-1000</text>
<text transform="translate(31,438.5) rotate(-90)" font-size="36" text-anchor="middle" fill="#262626">z / mm</text>
<text x="83" y="868.7" font-size="36.5" fill="#262626">y / mm</text>
<text x="479.3" y="845.6" font-size="36.5" fill="#262626">x / mm</text>
</g>
<rect x="463.2" y="1198.8" width="18.2" height="379.7" fill="url(#cbar)" stroke="#333" stroke-width="1"/>
<text x="494.2" y="1207.1" font-size="24" fill="#262626">f</text>
<text x="494.2" y="1586.8" font-size="24" fill="#262626">e</text>
<text x="494.2" y="1406.3" font-size="24" fill="#262626">0</text>
<line x1="478.2" y1="1398" x2="481.4" y2="1398" stroke="#333" stroke-width="1"/>
<text transform="translate(546.3,1397.5) rotate(-90)" font-size="27.3" text-anchor="middle" fill="#262626">scale of residuals / µm</text>
<g transform="translate(677.6,981.6)">
<line x1="213.5" y1="1.7" x2="213.5" y2="778" stroke="#dedede" stroke-width="1.2"/>
<line x1="299.4" y1="1.7" x2="299.4" y2="778" stroke="#dedede" stroke-width="1.2"/>
<line x1="127.1" y1="742.6" x2="342.6" y2="742.6" stroke="#dedede" stroke-width="1.2"/>
<line x1="127.1" y1="771.9" x2="342.6" y2="771.9" stroke="#dedede" stroke-width="1.2"/>
<path d="M128,35.2 L321,35.2 L323,34.2 L342,34.2 L342,714.4 L311,714.4 L309,715.4 L128,715.4 Z" fill="#b3b3b3"/>
<path d="M128,35.2 L321,35.2 L323,34.2 L342,34.2" fill="none" stroke="#939393" stroke-width="1.5"/>
<line x1="213.5" y1="36" x2="213.5" y2="715" stroke="#9d9d9d" stroke-width="1.2"/>
<line x1="299.4" y1="36" x2="299.4" y2="715" stroke="#9d9d9d" stroke-width="1.2"/>
<line x1="128" y1="602.5" x2="342" y2="602.5" stroke="#9d9d9d" stroke-width="1.2"/>
<line x1="128" y1="521.4" x2="342" y2="521.4" stroke="#9d9d9d" stroke-width="1.2"/>
<line x1="128" y1="440.4" x2="342" y2="440.4" stroke="#9d9d9d" stroke-width="1.2"/>
<line x1="128" y1="359.3" x2="342" y2="359.3" stroke="#9d9d9d" stroke-width="1.2"/>
<line x1="128" y1="278.2" x2="342" y2="278.2" stroke="#9d9d9d" stroke-width="1.2"/>
<line x1="128" y1="197.2" x2="342" y2="197.2" stroke="#9d9d9d" stroke-width="1.2"/>
<line x1="128" y1="116.1" x2="342" y2="116.1" stroke="#9d9d9d" stroke-width="1.2"/>
<line x1="127" y1="683.4" x2="361" y2="683.4" stroke="#1a1a1a" stroke-width="1.4"/>
<g transform="translate(-677.6,-981.6)">
<path d="M905.8,1040 L923,1040.5 L953.8,1068.5 L953.8,1749 L905.8,1712 Z" fill="#000" fill-opacity="0.42"/>
<path d="M913,1032.2 L923.3,1021.4 L923.3,1712 L913,1720 Z" fill="#000" fill-opacity="0.5"/>
<use href="#sp" y="0"/>
<use href="#sp" y="13.9"/>
<use href="#sp" y="27.9"/>
<use href="#sp" y="41.8"/>
<use href="#sp" y="55.7"/>
<use href="#sp" y="69.7"/>
<use href="#sp" y="83.6"/>
<use href="#sp" y="97.5"/>
<use href="#sp" y="111.4"/>
<use href="#sp" y="125.4"/>
<use href="#sp" y="139.3"/>
<use href="#sp" y="153.2"/>
<use href="#sp" y="167.2"/>
<use href="#sp" y="181.1"/>
<use href="#sp" y="195"/>
<use href="#sp" y="209"/>
<use href="#sp" y="222.9"/>
<use href="#sp" y="236.8"/>
<use href="#sp" y="250.8"/>
<use href="#sp" y="264.7"/>
<use href="#sp" y="278.6"/>
<use href="#sp" y="292.5"/>
<use href="#sp" y="306.5"/>
<use href="#sp" y="320.4"/>
<use href="#sp" y="334.3"/>
<use href="#sp" y="348.3"/>
<use href="#sp" y="362.2"/>
<use href="#sp" y="376.1"/>
<use href="#sp" y="390.1"/>
<use href="#sp" y="404"/>
<use href="#sp" y="417.9"/>
<use href="#sp" y="431.8"/>
<use href="#sp" y="445.8"/>
<use href="#sp" y="459.7"/>
<use href="#sp" y="473.6"/>
<use href="#sp" y="487.6"/>
<use href="#sp" y="501.5"/>
<use href="#sp" y="515.4"/>
<use href="#sp" y="529.4"/>
<use href="#sp" y="543.3"/>
<use href="#sp" y="557.2"/>
<use href="#sp" y="571.2"/>
<use href="#sp" y="585.1"/>
<use href="#sp" y="599"/>
<use href="#sp" y="612.9"/>
<use href="#sp" y="626.9"/>
<use href="#sp" y="640.8"/>
<use href="#sp" y="654.7"/>
<use href="#sp" y="668.7"/>
<use href="#sp" y="682.6"/>
<path d="M879.2,1068.4 L913,1032.2 L913,1720 L879.2,1750 Z" fill="#000" fill-opacity="0.5"/>
</g>
<path d="M127.1,778 L127.1,1.7" fill="none" stroke="#5c5c5c" stroke-width="2"/>
<path d="M342.6,1.7 L342.6,778" fill="none" stroke="#3a3a3a" stroke-width="2"/>
<path d="M126.1,1.7 L343.6,1.7" fill="none" stroke="#3c3c3c" stroke-width="1.6"/>
<line x1="109.4" y1="778.2" x2="343.5" y2="778.2" stroke="#222" stroke-width="2.6"/>
<line x1="109" y1="778.1" x2="127" y2="778.1" stroke="#333" stroke-width="1.6"/>
<text transform="translate(96.8,791.2) scale(1.015,1.075)" font-size="33" text-anchor="end" fill="#262626">0</text>
<line x1="109" y1="697" x2="127" y2="697" stroke="#333" stroke-width="1.6"/>
<text transform="translate(96.8,710.1) scale(1.015,1.075)" font-size="33" text-anchor="end" fill="#262626">50</text>
<line x1="109" y1="615.9" x2="127" y2="615.9" stroke="#333" stroke-width="1.6"/>
<text transform="translate(96.8,629) scale(1.015,1.075)" font-size="33" text-anchor="end" fill="#262626">100</text>
<line x1="109" y1="534.8" x2="127" y2="534.8" stroke="#333" stroke-width="1.6"/>
<text transform="translate(96.8,547.9) scale(1.015,1.075)" font-size="33" text-anchor="end" fill="#262626">150</text>
<line x1="109" y1="453.7" x2="127" y2="453.7" stroke="#333" stroke-width="1.6"/>
<text transform="translate(96.8,466.8) scale(1.015,1.075)" font-size="33" text-anchor="end" fill="#262626">200</text>
<line x1="109" y1="372.6" x2="127" y2="372.6" stroke="#333" stroke-width="1.6"/>
<text transform="translate(96.8,385.7) scale(1.015,1.075)" font-size="33" text-anchor="end" fill="#262626">250</text>
<line x1="109" y1="291.5" x2="127" y2="291.5" stroke="#333" stroke-width="1.6"/>
<text transform="translate(96.8,304.6) scale(1.015,1.075)" font-size="33" text-anchor="end" fill="#262626">300</text>
<line x1="109" y1="210.4" x2="127" y2="210.4" stroke="#333" stroke-width="1.6"/>
<text transform="translate(96.8,223.5) scale(1.015,1.075)" font-size="33" text-anchor="end" fill="#262626">350</text>
<line x1="109" y1="129.3" x2="127" y2="129.3" stroke="#333" stroke-width="1.6"/>
<text transform="translate(96.8,142.4) scale(1.015,1.075)" font-size="33" text-anchor="end" fill="#262626">400</text>
<line x1="127.4" y1="778" x2="127.4" y2="795.5" stroke="#333" stroke-width="1.6"/>
<text transform="translate(128.2,838.4) scale(1.015,1.075)" font-size="33" text-anchor="middle" fill="#262626">50</text>
<line x1="213.4" y1="778" x2="213.4" y2="795.5" stroke="#333" stroke-width="1.6"/>
<text transform="translate(212.7,838.4) scale(1.015,1.075)" font-size="33" text-anchor="middle" fill="#262626">0</text>
<line x1="299.6" y1="778" x2="299.6" y2="795.5" stroke="#333" stroke-width="1.6"/>
<text transform="translate(300.4,838.4) scale(1.015,1.075)" font-size="33" text-anchor="middle" fill="#262626">-50</text>
<line x1="343" y1="713.6" x2="361" y2="713.6" stroke="#333" stroke-width="1.6"/>
<line x1="343" y1="742.7" x2="361" y2="742.7" stroke="#333" stroke-width="1.6"/>
<line x1="343" y1="771.7" x2="361" y2="771.7" stroke="#333" stroke-width="1.6"/>
<text transform="translate(373,715.8) scale(1.015,1.075)" font-size="33" fill="#262626">-850</text>
<text transform="translate(373,745.5) scale(1.015,1.075)" font-size="33" fill="#262626">-900</text>
<text transform="translate(373,775.2) scale(1.015,1.075)" font-size="33" fill="#262626">-950</text>
<text transform="translate(373,804.9) scale(1.015,1.075)" font-size="33" fill="#262626">-1000</text>
<text transform="translate(31,438.5) rotate(-90)" font-size="36" text-anchor="middle" fill="#262626">z / mm</text>
<text x="83" y="868.7" font-size="36.5" fill="#262626">y / mm</text>
<text x="479.3" y="845.6" font-size="36.5" fill="#262626">x / mm</text>
</g>
<rect x="1145.4" y="1198.8" width="18.2" height="379.7" fill="url(#cbar)" stroke="#333" stroke-width="1"/>
<text x="1176.4" y="1207.1" font-size="24" fill="#262626">h</text>
<text x="1176.4" y="1586.8" font-size="24" fill="#262626">g</text>
<text transform="translate(1207.8,1381.4) rotate(-90)" font-size="27.3" text-anchor="middle" fill="#262626">scale of residuals / µm</text>
<text x="13.5" y="823.6" font-size="41" letter-spacing="2" fill="#000">(a)</text>
<text x="678" y="823.6" font-size="41" letter-spacing="2" fill="#000">(b)</text>
<text x="13.5" y="1823.6" font-size="41" letter-spacing="2" fill="#000">(c)</text>
<text x="678" y="1823.6" font-size="41" letter-spacing="2" fill="#000">(d)</text>
</svg>
</body></html>
